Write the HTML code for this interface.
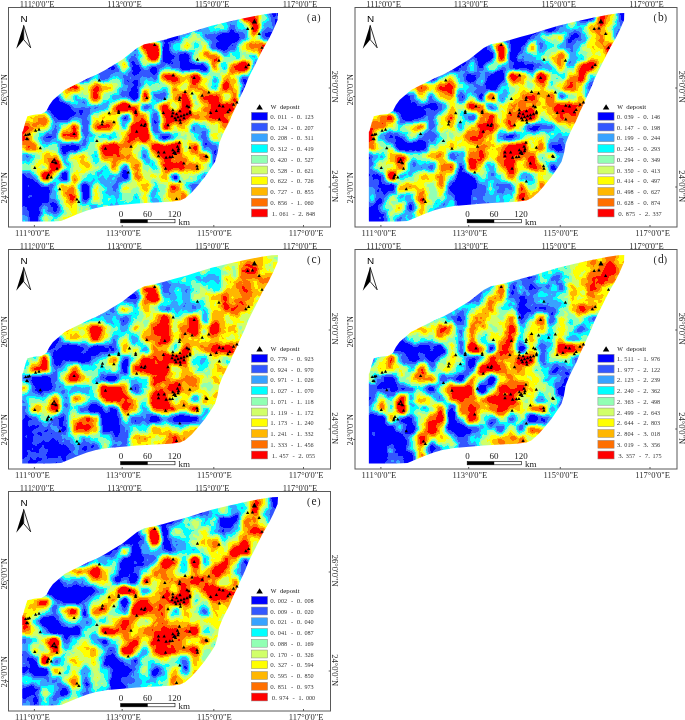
<!DOCTYPE html><html><head><meta charset="utf-8"><title>W deposit prospectivity maps</title><style>html,body{margin:0;padding:0;background:#fff}svg{display:block}text{font-family:"Liberation Serif",serif;fill:#2a2a2a}.ax text{font-size:8.8px}.n{font-family:"Liberation Sans",sans-serif;font-size:9.9px;fill:#000}.lt{font-size:11.5px;fill:#222}.sb text{font-size:9px;fill:#222}.lg{font-size:6.9px;fill:#3a3a3a}.w{font-size:7.1px;fill:#111}.b{font-weight:bold}</style></head><body><svg width="685" height="720" viewBox="0 0 685 720"><defs><clipPath id="reg"><polygon points="22.2,221.4 22.2,132 23,131 25.2,122.8 27.4,116.2 34,114.7 41.3,114 46.4,111.1 49.3,105.3 53,100.1 58.8,95 64.6,89.9 73.4,85.5 80.7,81.9 88,78.2 96.8,74.6 105.3,70 113.8,64.7 122.5,59.6 129.8,53.8 137.1,48 144.4,44.3 153.2,42.4 163.4,39.9 173.6,37 186.8,33.4 198.4,29.7 211.7,25.8 228.3,21.7 245,18 261.7,14.7 271.7,13.3 278,13 277.6,20 273.3,30 268.3,40 263.3,48.3 258.3,58.3 253.3,68.3 248.3,78.3 245,86.7 240.8,95.8 236.7,105 232.8,113.3 229.8,120.5 225.8,128.3 222.5,135 219.2,143.3 217.5,153.3 215,161.7 210.8,168.3 205,176.7 198.3,185 191.7,192.5 185,198.3 180,200.6 170,201.7 150,202.7 136.8,203.6 125.6,204.6 107.6,205.9 95.9,207.9 87,210.6 78.4,213.8 70,217.3 61,220.9 50,221.4"/></clipPath><filter id="hma" filterUnits="userSpaceOnUse" x="0" y="0" width="320" height="240" color-interpolation-filters="sRGB"><feGaussianBlur in="SourceGraphic" stdDeviation="3.0" result="f"/><feTurbulence type="fractalNoise" baseFrequency="0.12" numOctaves="2" seed="3" result="t"/><feColorMatrix in="t" type="matrix" values="1 0 0 0 0 1 0 0 0 0 1 0 0 0 0 0 0 0 0 1" result="n"/><feComposite in="f" in2="n" operator="arithmetic" k1="0" k2="1" k3="0.18" k4="-0.09"/><feComponentTransfer><feFuncR type="discrete" tableValues="0 0 0 0 0 0 0 0 0 0 0 0 0 0 0 0 0 0 0 0 0 0 0 0 0 0 0 0 0 0 0 0 0 0 0 0 0 0 0 0 0 0 0 0 0 0 0 0 0 0 0 0 0 0 0 0 0 0 0 0 0 0 0 0 0 0.2 0.2 0.2 0.2 0.2 0.2 0.2 0.2 0.2 0.2 0.2 0.22 0.22 0.22 0.22 0.22 0.22 0.22 0.22 0.22 0 0 0 0 0 0 0 0 0.569 0.569 0.569 0.569 0.569 0.569 0.569 0.569 0.569 0.82 0.82 0.82 0.82 0.82 0.82 0.82 0.82 1 1 1 1 1 1 1 1 1 1 1 1 1 1 1 1 1 1 1 1 1 1 1 1 1 1 1 1 1 1 1 1 1 1 1 1 1 1 1 1 1 1 1 1 1 1 1 1 1 1 1 1 1 1 1 1 1 1 1 1 1 1 1 1 1 1 1 1 1 1 1 1 1 1 1 1 1 1 1 1 1 1 1 1 1 1 1 1 1 1"/><feFuncG type="discrete" tableValues="0 0 0 0 0 0 0 0 0 0 0 0 0 0 0 0 0 0 0 0 0 0 0 0 0 0 0 0 0 0 0 0 0 0 0 0 0 0 0 0 0 0 0 0 0 0 0 0 0 0 0 0 0 0 0 0 0 0 0 0 0 0 0 0 0 0.341 0.341 0.341 0.341 0.341 0.341 0.341 0.341 0.341 0.341 0.341 0.639 0.639 0.639 0.639 0.639 0.639 0.639 0.639 0.639 1 1 1 1 1 1 1 1 1 1 1 1 1 1 1 1 1 1 1 1 1 1 1 1 1 1 1 1 1 1 1 1 1 0.718 0.718 0.718 0.718 0.718 0.718 0.718 0.718 0.718 0.435 0.435 0.435 0.435 0.435 0.435 0.435 0.435 0.435 0.435 0 0 0 0 0 0 0 0 0 0 0 0 0 0 0 0 0 0 0 0 0 0 0 0 0 0 0 0 0 0 0 0 0 0 0 0 0 0 0 0 0 0 0 0 0 0 0 0 0 0 0 0 0 0 0 0 0 0 0 0 0 0 0"/><feFuncB type="discrete" tableValues="1 1 1 1 1 1 1 1 1 1 1 1 1 1 1 1 1 1 1 1 1 1 1 1 1 1 1 1 1 1 1 1 1 1 1 1 1 1 1 1 1 1 1 1 1 1 1 1 1 1 1 1 1 1 1 1 1 1 1 1 1 1 1 1 1 1 1 1 1 1 1 1 1 1 1 1 1 1 1 1 1 1 1 1 1 1 1 1 1 1 1 1 1 0.706 0.706 0.706 0.706 0.706 0.706 0.706 0.706 0.706 0.412 0.412 0.412 0.412 0.412 0.412 0.412 0.412 0 0 0 0 0 0 0 0 0 0 0 0 0 0 0 0 0 0 0 0 0 0 0 0 0 0 0 0 0 0 0 0 0 0 0 0 0 0 0 0 0 0 0 0 0 0 0 0 0 0 0 0 0 0 0 0 0 0 0 0 0 0 0 0 0 0 0 0 0 0 0 0 0 0 0 0 0 0 0 0 0 0 0 0 0 0 0 0 0 0"/></feComponentTransfer><feGaussianBlur stdDeviation="0.5"/></filter><filter id="hmb" filterUnits="userSpaceOnUse" x="0" y="0" width="320" height="240" color-interpolation-filters="sRGB"><feGaussianBlur in="SourceGraphic" stdDeviation="3.0" result="f"/><feTurbulence type="fractalNoise" baseFrequency="0.12" numOctaves="2" seed="4" result="t"/><feColorMatrix in="t" type="matrix" values="1 0 0 0 0 1 0 0 0 0 1 0 0 0 0 0 0 0 0 1" result="n"/><feComposite in="f" in2="n" operator="arithmetic" k1="0" k2="1" k3="0.18" k4="-0.09"/><feComponentTransfer><feFuncR type="discrete" tableValues="0 0 0 0 0 0 0 0 0 0 0 0 0 0 0 0 0 0 0 0 0 0 0 0 0 0 0 0 0 0 0 0 0 0 0 0 0 0 0 0 0 0 0 0 0 0 0 0 0 0 0 0 0 0 0 0 0 0 0 0 0 0 0 0.2 0.2 0.2 0.2 0.2 0.2 0.2 0.2 0.2 0.2 0.2 0.22 0.22 0.22 0.22 0.22 0.22 0.22 0.22 0.22 0.22 0 0 0 0 0 0 0 0 0.569 0.569 0.569 0.569 0.569 0.569 0.569 0.569 0.569 0.82 0.82 0.82 0.82 0.82 0.82 0.82 0.82 1 1 1 1 1 1 1 1 1 1 1 1 1 1 1 1 1 1 1 1 1 1 1 1 1 1 1 1 1 1 1 1 1 1 1 1 1 1 1 1 1 1 1 1 1 1 1 1 1 1 1 1 1 1 1 1 1 1 1 1 1 1 1 1 1 1 1 1 1 1 1 1 1 1 1 1 1 1 1 1 1 1 1 1 1 1 1 1 1 1 1"/><feFuncG type="discrete" tableValues="0 0 0 0 0 0 0 0 0 0 0 0 0 0 0 0 0 0 0 0 0 0 0 0 0 0 0 0 0 0 0 0 0 0 0 0 0 0 0 0 0 0 0 0 0 0 0 0 0 0 0 0 0 0 0 0 0 0 0 0 0 0 0 0.341 0.341 0.341 0.341 0.341 0.341 0.341 0.341 0.341 0.341 0.341 0.639 0.639 0.639 0.639 0.639 0.639 0.639 0.639 0.639 0.639 1 1 1 1 1 1 1 1 1 1 1 1 1 1 1 1 1 1 1 1 1 1 1 1 1 1 1 1 1 1 1 1 1 0.718 0.718 0.718 0.718 0.718 0.718 0.718 0.718 0.718 0.435 0.435 0.435 0.435 0.435 0.435 0.435 0.435 0.435 0.435 0.435 0 0 0 0 0 0 0 0 0 0 0 0 0 0 0 0 0 0 0 0 0 0 0 0 0 0 0 0 0 0 0 0 0 0 0 0 0 0 0 0 0 0 0 0 0 0 0 0 0 0 0 0 0 0 0 0 0 0 0 0 0 0 0"/><feFuncB type="discrete" tableValues="1 1 1 1 1 1 1 1 1 1 1 1 1 1 1 1 1 1 1 1 1 1 1 1 1 1 1 1 1 1 1 1 1 1 1 1 1 1 1 1 1 1 1 1 1 1 1 1 1 1 1 1 1 1 1 1 1 1 1 1 1 1 1 1 1 1 1 1 1 1 1 1 1 1 1 1 1 1 1 1 1 1 1 1 1 1 1 1 1 1 1 1 0.706 0.706 0.706 0.706 0.706 0.706 0.706 0.706 0.706 0.412 0.412 0.412 0.412 0.412 0.412 0.412 0.412 0 0 0 0 0 0 0 0 0 0 0 0 0 0 0 0 0 0 0 0 0 0 0 0 0 0 0 0 0 0 0 0 0 0 0 0 0 0 0 0 0 0 0 0 0 0 0 0 0 0 0 0 0 0 0 0 0 0 0 0 0 0 0 0 0 0 0 0 0 0 0 0 0 0 0 0 0 0 0 0 0 0 0 0 0 0 0 0 0 0 0"/></feComponentTransfer><feGaussianBlur stdDeviation="0.5"/></filter><filter id="hmc" filterUnits="userSpaceOnUse" x="0" y="0" width="320" height="240" color-interpolation-filters="sRGB"><feGaussianBlur in="SourceGraphic" stdDeviation="3.0" result="f"/><feTurbulence type="fractalNoise" baseFrequency="0.12" numOctaves="2" seed="5" result="t"/><feColorMatrix in="t" type="matrix" values="1 0 0 0 0 1 0 0 0 0 1 0 0 0 0 0 0 0 0 1" result="n"/><feComposite in="f" in2="n" operator="arithmetic" k1="0" k2="1" k3="0.18" k4="-0.09"/><feComponentTransfer><feFuncR type="discrete" tableValues="0 0 0 0 0 0 0 0 0 0 0 0 0 0 0 0 0 0 0 0 0 0 0 0 0 0 0 0 0 0 0 0 0 0 0 0 0 0 0 0 0 0 0 0 0 0 0 0 0 0 0 0 0 0 0 0 0 0 0 0 0 0 0 0 0.2 0.2 0.2 0.2 0.2 0.2 0.2 0.2 0.2 0.2 0.2 0.2 0.22 0.22 0.22 0.22 0.22 0.22 0.22 0.22 0.22 0.22 0 0 0 0 0 0 0 0 0 0.569 0.569 0.569 0.569 0.569 0.569 0.569 0.569 0.569 0.82 0.82 0.82 0.82 0.82 0.82 0.82 0.82 1 1 1 1 1 1 1 1 1 1 1 1 1 1 1 1 1 1 1 1 1 1 1 1 1 1 1 1 1 1 1 1 1 1 1 1 1 1 1 1 1 1 1 1 1 1 1 1 1 1 1 1 1 1 1 1 1 1 1 1 1 1 1 1 1 1 1 1 1 1 1 1 1 1 1 1 1 1 1 1 1 1 1 1 1 1 1 1"/><feFuncG type="discrete" tableValues="0 0 0 0 0 0 0 0 0 0 0 0 0 0 0 0 0 0 0 0 0 0 0 0 0 0 0 0 0 0 0 0 0 0 0 0 0 0 0 0 0 0 0 0 0 0 0 0 0 0 0 0 0 0 0 0 0 0 0 0 0 0 0 0 0.341 0.341 0.341 0.341 0.341 0.341 0.341 0.341 0.341 0.341 0.341 0.341 0.639 0.639 0.639 0.639 0.639 0.639 0.639 0.639 0.639 0.639 1 1 1 1 1 1 1 1 1 1 1 1 1 1 1 1 1 1 1 1 1 1 1 1 1 1 1 1 1 1 1 1 1 0.718 0.718 0.718 0.718 0.718 0.718 0.718 0.718 0.718 0.435 0.435 0.435 0.435 0.435 0.435 0.435 0.435 0.435 0.435 0 0 0 0 0 0 0 0 0 0 0 0 0 0 0 0 0 0 0 0 0 0 0 0 0 0 0 0 0 0 0 0 0 0 0 0 0 0 0 0 0 0 0 0 0 0 0 0 0 0 0 0 0 0 0 0 0 0 0 0 0 0"/><feFuncB type="discrete" tableValues="1 1 1 1 1 1 1 1 1 1 1 1 1 1 1 1 1 1 1 1 1 1 1 1 1 1 1 1 1 1 1 1 1 1 1 1 1 1 1 1 1 1 1 1 1 1 1 1 1 1 1 1 1 1 1 1 1 1 1 1 1 1 1 1 1 1 1 1 1 1 1 1 1 1 1 1 1 1 1 1 1 1 1 1 1 1 1 1 1 1 1 1 1 1 1 0.706 0.706 0.706 0.706 0.706 0.706 0.706 0.706 0.706 0.412 0.412 0.412 0.412 0.412 0.412 0.412 0.412 0 0 0 0 0 0 0 0 0 0 0 0 0 0 0 0 0 0 0 0 0 0 0 0 0 0 0 0 0 0 0 0 0 0 0 0 0 0 0 0 0 0 0 0 0 0 0 0 0 0 0 0 0 0 0 0 0 0 0 0 0 0 0 0 0 0 0 0 0 0 0 0 0 0 0 0 0 0 0 0 0 0 0 0 0 0 0 0"/></feComponentTransfer><feGaussianBlur stdDeviation="0.5"/></filter><filter id="hmd" filterUnits="userSpaceOnUse" x="0" y="0" width="320" height="240" color-interpolation-filters="sRGB"><feGaussianBlur in="SourceGraphic" stdDeviation="3.0" result="f"/><feTurbulence type="fractalNoise" baseFrequency="0.12" numOctaves="2" seed="6" result="t"/><feColorMatrix in="t" type="matrix" values="1 0 0 0 0 1 0 0 0 0 1 0 0 0 0 0 0 0 0 1" result="n"/><feComposite in="f" in2="n" operator="arithmetic" k1="0" k2="1" k3="0.18" k4="-0.09"/><feComponentTransfer><feFuncR type="discrete" tableValues="0 0 0 0 0 0 0 0 0 0 0 0 0 0 0 0 0 0 0 0 0 0 0 0 0 0 0 0 0 0 0 0 0 0 0 0 0 0 0 0 0 0 0 0 0 0 0 0 0 0 0 0 0 0 0 0 0 0 0 0 0 0 0 0 0 0 0.2 0.2 0.2 0.2 0.2 0.2 0.2 0.2 0.2 0.2 0.2 0.22 0.22 0.22 0.22 0.22 0.22 0.22 0.22 0 0 0 0 0 0 0 0.569 0.569 0.569 0.569 0.569 0.569 0.569 0.569 0.569 0.82 0.82 0.82 0.82 0.82 0.82 0.82 0.82 1 1 1 1 1 1 1 1 1 1 1 1 1 1 1 1 1 1 1 1 1 1 1 1 1 1 1 1 1 1 1 1 1 1 1 1 1 1 1 1 1 1 1 1 1 1 1 1 1 1 1 1 1 1 1 1 1 1 1 1 1 1 1 1 1 1 1 1 1 1 1 1 1 1 1 1 1 1 1 1 1 1 1 1 1 1 1 1 1 1 1"/><feFuncG type="discrete" tableValues="0 0 0 0 0 0 0 0 0 0 0 0 0 0 0 0 0 0 0 0 0 0 0 0 0 0 0 0 0 0 0 0 0 0 0 0 0 0 0 0 0 0 0 0 0 0 0 0 0 0 0 0 0 0 0 0 0 0 0 0 0 0 0 0 0 0 0.341 0.341 0.341 0.341 0.341 0.341 0.341 0.341 0.341 0.341 0.341 0.639 0.639 0.639 0.639 0.639 0.639 0.639 0.639 1 1 1 1 1 1 1 1 1 1 1 1 1 1 1 1 1 1 1 1 1 1 1 1 1 1 1 1 1 1 1 1 0.718 0.718 0.718 0.718 0.718 0.718 0.718 0.718 0.435 0.435 0.435 0.435 0.435 0.435 0.435 0.435 0.435 0.435 0.435 0 0 0 0 0 0 0 0 0 0 0 0 0 0 0 0 0 0 0 0 0 0 0 0 0 0 0 0 0 0 0 0 0 0 0 0 0 0 0 0 0 0 0 0 0 0 0 0 0 0 0 0 0 0 0 0 0 0 0 0 0 0 0 0"/><feFuncB type="discrete" tableValues="1 1 1 1 1 1 1 1 1 1 1 1 1 1 1 1 1 1 1 1 1 1 1 1 1 1 1 1 1 1 1 1 1 1 1 1 1 1 1 1 1 1 1 1 1 1 1 1 1 1 1 1 1 1 1 1 1 1 1 1 1 1 1 1 1 1 1 1 1 1 1 1 1 1 1 1 1 1 1 1 1 1 1 1 1 1 1 1 1 1 1 1 0.706 0.706 0.706 0.706 0.706 0.706 0.706 0.706 0.706 0.412 0.412 0.412 0.412 0.412 0.412 0.412 0.412 0 0 0 0 0 0 0 0 0 0 0 0 0 0 0 0 0 0 0 0 0 0 0 0 0 0 0 0 0 0 0 0 0 0 0 0 0 0 0 0 0 0 0 0 0 0 0 0 0 0 0 0 0 0 0 0 0 0 0 0 0 0 0 0 0 0 0 0 0 0 0 0 0 0 0 0 0 0 0 0 0 0 0 0 0 0 0 0 0 0 0"/></feComponentTransfer><feGaussianBlur stdDeviation="0.5"/></filter><filter id="hme" filterUnits="userSpaceOnUse" x="0" y="0" width="320" height="240" color-interpolation-filters="sRGB"><feGaussianBlur in="SourceGraphic" stdDeviation="3.0" result="f"/><feTurbulence type="fractalNoise" baseFrequency="0.12" numOctaves="2" seed="7" result="t"/><feColorMatrix in="t" type="matrix" values="1 0 0 0 0 1 0 0 0 0 1 0 0 0 0 0 0 0 0 1" result="n"/><feComposite in="f" in2="n" operator="arithmetic" k1="0" k2="1" k3="0.18" k4="-0.09"/><feComponentTransfer><feFuncR type="discrete" tableValues="0 0 0 0 0 0 0 0 0 0 0 0 0 0 0 0 0 0 0 0 0 0 0 0 0 0 0 0 0 0 0 0 0 0 0 0 0 0 0 0 0 0 0 0 0 0 0 0 0 0 0 0 0 0 0 0 0 0 0 0 0 0 0.2 0.2 0.2 0.2 0.2 0.2 0.2 0.2 0.2 0.2 0.22 0.22 0.22 0.22 0.22 0.22 0.22 0.22 0.22 0.22 0.22 0 0 0 0 0 0 0 0 0 0.569 0.569 0.569 0.569 0.569 0.569 0.569 0.569 0.569 0.82 0.82 0.82 0.82 0.82 0.82 0.82 0.82 0.82 1 1 1 1 1 1 1 1 1 1 1 1 1 1 1 1 1 1 1 1 1 1 1 1 1 1 1 1 1 1 1 1 1 1 1 1 1 1 1 1 1 1 1 1 1 1 1 1 1 1 1 1 1 1 1 1 1 1 1 1 1 1 1 1 1 1 1 1 1 1 1 1 1 1 1 1 1 1 1 1 1 1 1 1 1 1 1 1 1 1"/><feFuncG type="discrete" tableValues="0 0 0 0 0 0 0 0 0 0 0 0 0 0 0 0 0 0 0 0 0 0 0 0 0 0 0 0 0 0 0 0 0 0 0 0 0 0 0 0 0 0 0 0 0 0 0 0 0 0 0 0 0 0 0 0 0 0 0 0 0 0 0.341 0.341 0.341 0.341 0.341 0.341 0.341 0.341 0.341 0.341 0.639 0.639 0.639 0.639 0.639 0.639 0.639 0.639 0.639 0.639 0.639 1 1 1 1 1 1 1 1 1 1 1 1 1 1 1 1 1 1 1 1 1 1 1 1 1 1 1 1 1 1 1 1 1 1 1 1 0.718 0.718 0.718 0.718 0.718 0.718 0.718 0.718 0.718 0.435 0.435 0.435 0.435 0.435 0.435 0.435 0.435 0.435 0.435 0 0 0 0 0 0 0 0 0 0 0 0 0 0 0 0 0 0 0 0 0 0 0 0 0 0 0 0 0 0 0 0 0 0 0 0 0 0 0 0 0 0 0 0 0 0 0 0 0 0 0 0 0 0 0 0 0 0 0 0 0 0"/><feFuncB type="discrete" tableValues="1 1 1 1 1 1 1 1 1 1 1 1 1 1 1 1 1 1 1 1 1 1 1 1 1 1 1 1 1 1 1 1 1 1 1 1 1 1 1 1 1 1 1 1 1 1 1 1 1 1 1 1 1 1 1 1 1 1 1 1 1 1 1 1 1 1 1 1 1 1 1 1 1 1 1 1 1 1 1 1 1 1 1 1 1 1 1 1 1 1 1 1 0.706 0.706 0.706 0.706 0.706 0.706 0.706 0.706 0.706 0.412 0.412 0.412 0.412 0.412 0.412 0.412 0.412 0.412 0 0 0 0 0 0 0 0 0 0 0 0 0 0 0 0 0 0 0 0 0 0 0 0 0 0 0 0 0 0 0 0 0 0 0 0 0 0 0 0 0 0 0 0 0 0 0 0 0 0 0 0 0 0 0 0 0 0 0 0 0 0 0 0 0 0 0 0 0 0 0 0 0 0 0 0 0 0 0 0 0 0 0 0 0 0 0 0 0 0"/></feComponentTransfer><feGaussianBlur stdDeviation="0.5"/></filter></defs><rect width="685" height="720" fill="#fff"/><g transform="translate(0,0)"><g clip-path="url(#reg)"><g filter="url(#hma)"><rect x="0" y="-8" width="30" height="30" fill="#9d9d9d"/><rect x="30" y="-8" width="10" height="30" fill="#b3b3b3"/><rect x="40" y="-8" width="10" height="30" fill="#222222"/><rect x="50" y="-8" width="10" height="30" fill="#4c4c4c"/><rect x="60" y="-8" width="10" height="30" fill="#434343"/><rect x="70" y="-8" width="10" height="30" fill="#565656"/><rect x="80" y="-8" width="10" height="30" fill="#4d4d4d"/><rect x="90" y="-8" width="10" height="30" fill="#777777"/><rect x="100" y="-8" width="10" height="30" fill="#6b6b6b"/><rect x="110" y="-8" width="10" height="30" fill="#6d6d6d"/><rect x="120" y="-8" width="10" height="30" fill="#6b6b6b"/><rect x="130" y="-8" width="10" height="30" fill="#747474"/><rect x="140" y="-8" width="10" height="30" fill="#3b3b3b"/><rect x="150" y="-8" width="10" height="30" fill="#565656"/><rect x="160" y="-8" width="10" height="30" fill="#525252"/><rect x="170" y="-8" width="10" height="30" fill="#535353"/><rect x="180" y="-8" width="10" height="30" fill="#545454"/><rect x="190" y="-8" width="10" height="30" fill="#525252"/><rect x="200" y="-8" width="10" height="30" fill="#606060"/><rect x="210" y="-8" width="10" height="30" fill="#6d6d6d"/><rect x="220" y="-8" width="10" height="30" fill="#707070"/><rect x="230" y="-8" width="10" height="30" fill="#4c4c4c"/><rect x="240" y="-8" width="10" height="30" fill="#c4c4c4"/><rect x="250" y="-8" width="10" height="30" fill="#afafaf"/><rect x="260" y="-8" width="10" height="30" fill="#797979"/><rect x="270" y="-8" width="30" height="30" fill="#4d4d4d"/><rect x="0" y="22" width="30" height="10" fill="#a0a0a0"/><rect x="30" y="22" width="10" height="10" fill="#999999"/><rect x="40" y="22" width="10" height="10" fill="#c6c6c6"/><rect x="50" y="22" width="10" height="10" fill="#363636"/><rect x="60" y="22" width="10" height="10" fill="#464646"/><rect x="70" y="22" width="10" height="10" fill="#585858"/><rect x="80" y="22" width="10" height="10" fill="#545454"/><rect x="90" y="22" width="10" height="10" fill="#484848"/><rect x="100" y="22" width="10" height="10" fill="#6d6d6d"/><rect x="110" y="22" width="10" height="10" fill="#6c6c6c"/><rect x="120" y="22" width="10" height="10" fill="#6f6f6f"/><rect x="130" y="22" width="10" height="10" fill="#5a5a5a"/><rect x="140" y="22" width="10" height="10" fill="#dfdfdf"/><rect x="150" y="22" width="10" height="10" fill="#414141"/><rect x="160" y="22" width="10" height="10" fill="#565656"/><rect x="170" y="22" width="10" height="10" fill="#545454"/><rect x="180" y="22" width="10" height="10" fill="#505050"/><rect x="190" y="22" width="10" height="10" fill="#444444"/><rect x="200" y="22" width="10" height="10" fill="#5f5f5f"/><rect x="210" y="22" width="10" height="10" fill="#707070"/><rect x="220" y="22" width="10" height="10" fill="#777777"/><rect x="230" y="22" width="10" height="10" fill="#626262"/><rect x="240" y="22" width="10" height="10" fill="#696969"/><rect x="250" y="22" width="10" height="10" fill="#c9c9c9"/><rect x="260" y="22" width="10" height="10" fill="#656565"/><rect x="270" y="22" width="30" height="10" fill="#535353"/><rect x="0" y="32" width="30" height="10" fill="#a0a0a0"/><rect x="30" y="32" width="10" height="10" fill="#9d9d9d"/><rect x="40" y="32" width="10" height="10" fill="#b0b0b0"/><rect x="50" y="32" width="10" height="10" fill="#1f1f1f"/><rect x="60" y="32" width="10" height="10" fill="#4d4d4d"/><rect x="70" y="32" width="10" height="10" fill="#3f3f3f"/><rect x="80" y="32" width="10" height="10" fill="#575757"/><rect x="90" y="32" width="10" height="10" fill="#4a4a4a"/><rect x="100" y="32" width="10" height="10" fill="#909090"/><rect x="110" y="32" width="10" height="10" fill="#636363"/><rect x="120" y="32" width="10" height="10" fill="#717171"/><rect x="130" y="32" width="10" height="10" fill="#5d5d5d"/><rect x="140" y="32" width="10" height="10" fill="#c9c9c9"/><rect x="150" y="32" width="10" height="10" fill="#272727"/><rect x="160" y="32" width="10" height="10" fill="#5b5b5b"/><rect x="170" y="32" width="10" height="10" fill="#474747"/><rect x="180" y="32" width="10" height="10" fill="#686868"/><rect x="190" y="32" width="10" height="10" fill="#a0a0a0"/><rect x="200" y="32" width="20" height="10" fill="#646464"/><rect x="220" y="32" width="10" height="10" fill="#3c3c3c"/><rect x="230" y="32" width="10" height="10" fill="#373737"/><rect x="240" y="32" width="10" height="10" fill="#626262"/><rect x="250" y="32" width="10" height="10" fill="#9b9b9b"/><rect x="260" y="32" width="10" height="10" fill="#464646"/><rect x="270" y="32" width="30" height="10" fill="#424242"/><rect x="0" y="42" width="30" height="10" fill="#9d9d9d"/><rect x="30" y="42" width="10" height="10" fill="#a1a1a1"/><rect x="40" y="42" width="10" height="10" fill="#9a9a9a"/><rect x="50" y="42" width="10" height="10" fill="#c7c7c7"/><rect x="60" y="42" width="10" height="10" fill="#363636"/><rect x="70" y="42" width="10" height="10" fill="#474747"/><rect x="80" y="42" width="10" height="10" fill="#585858"/><rect x="90" y="42" width="10" height="10" fill="#555555"/><rect x="100" y="42" width="10" height="10" fill="#414141"/><rect x="110" y="42" width="10" height="10" fill="#878787"/><rect x="120" y="42" width="10" height="10" fill="#676767"/><rect x="130" y="42" width="10" height="10" fill="#656565"/><rect x="140" y="42" width="10" height="10" fill="#b4b4b4"/><rect x="150" y="42" width="10" height="10" fill="#e4e4e4"/><rect x="160" y="42" width="10" height="10" fill="#373737"/><rect x="170" y="42" width="10" height="10" fill="#797979"/><rect x="180" y="42" width="10" height="10" fill="#a1a1a1"/><rect x="190" y="42" width="10" height="10" fill="#686868"/><rect x="200" y="42" width="10" height="10" fill="#939393"/><rect x="210" y="42" width="10" height="10" fill="#4e4e4e"/><rect x="220" y="42" width="10" height="10" fill="#363636"/><rect x="230" y="42" width="10" height="10" fill="#5e5e5e"/><rect x="240" y="42" width="20" height="10" fill="#a7a7a7"/><rect x="260" y="42" width="40" height="10" fill="#bbbbbb"/><rect x="0" y="52" width="30" height="10" fill="#b0b0b0"/><rect x="30" y="52" width="10" height="10" fill="#9a9a9a"/><rect x="40" y="52" width="10" height="10" fill="#9e9e9e"/><rect x="50" y="52" width="10" height="10" fill="#b0b0b0"/><rect x="60" y="52" width="10" height="10" fill="#1f1f1f"/><rect x="70" y="52" width="10" height="10" fill="#4d4d4d"/><rect x="80" y="52" width="10" height="10" fill="#3f3f3f"/><rect x="90" y="52" width="10" height="10" fill="#585858"/><rect x="100" y="52" width="10" height="10" fill="#4c4c4c"/><rect x="110" y="52" width="10" height="10" fill="#868686"/><rect x="120" y="52" width="10" height="10" fill="#7c7c7c"/><rect x="130" y="52" width="10" height="10" fill="#535353"/><rect x="140" y="52" width="10" height="10" fill="#929292"/><rect x="150" y="52" width="10" height="10" fill="#e5e5e5"/><rect x="160" y="52" width="10" height="10" fill="#383838"/><rect x="170" y="52" width="10" height="10" fill="#565656"/><rect x="180" y="52" width="10" height="10" fill="#2b2b2b"/><rect x="190" y="52" width="10" height="10" fill="#8d8d8d"/><rect x="200" y="52" width="10" height="10" fill="#9e9e9e"/><rect x="210" y="52" width="10" height="10" fill="#b7b7b7"/><rect x="220" y="52" width="10" height="10" fill="#7e7e7e"/><rect x="230" y="52" width="10" height="10" fill="#707070"/><rect x="240" y="52" width="10" height="10" fill="#7a7a7a"/><rect x="250" y="52" width="10" height="10" fill="#676767"/><rect x="260" y="52" width="10" height="10" fill="#c3c3c3"/><rect x="270" y="52" width="30" height="10" fill="#b4b4b4"/><rect x="0" y="62" width="30" height="10" fill="#333333"/><rect x="30" y="62" width="10" height="10" fill="#c4c4c4"/><rect x="40" y="62" width="10" height="10" fill="#989898"/><rect x="50" y="62" width="10" height="10" fill="#9b9b9b"/><rect x="60" y="62" width="10" height="10" fill="#c7c7c7"/><rect x="70" y="62" width="10" height="10" fill="#353535"/><rect x="80" y="62" width="10" height="10" fill="#4a4a4a"/><rect x="90" y="62" width="10" height="10" fill="#505050"/><rect x="100" y="62" width="10" height="10" fill="#535353"/><rect x="110" y="62" width="10" height="10" fill="#4f4f4f"/><rect x="120" y="62" width="10" height="10" fill="#a6a6a6"/><rect x="130" y="62" width="10" height="10" fill="#3e3e3e"/><rect x="140" y="62" width="10" height="10" fill="#757575"/><rect x="150" y="62" width="10" height="10" fill="#464646"/><rect x="160" y="62" width="10" height="10" fill="#6e6e6e"/><rect x="170" y="62" width="10" height="10" fill="#555555"/><rect x="180" y="62" width="10" height="10" fill="#353535"/><rect x="190" y="62" width="10" height="10" fill="#3a3a3a"/><rect x="200" y="62" width="10" height="10" fill="#444444"/><rect x="210" y="62" width="10" height="10" fill="#a7a7a7"/><rect x="220" y="62" width="10" height="10" fill="#606060"/><rect x="230" y="62" width="10" height="10" fill="#c1c1c1"/><rect x="240" y="62" width="10" height="10" fill="#e6e6e6"/><rect x="250" y="62" width="10" height="10" fill="#595959"/><rect x="260" y="62" width="40" height="10" fill="#616161"/><rect x="0" y="72" width="30" height="10" fill="#5d5d5d"/><rect x="30" y="72" width="10" height="10" fill="#2d2d2d"/><rect x="40" y="72" width="10" height="10" fill="#c6c6c6"/><rect x="50" y="72" width="10" height="10" fill="#949494"/><rect x="60" y="72" width="10" height="10" fill="#b0b0b0"/><rect x="70" y="72" width="10" height="10" fill="#212121"/><rect x="80" y="72" width="10" height="10" fill="#353535"/><rect x="90" y="72" width="10" height="10" fill="#747474"/><rect x="100" y="72" width="10" height="10" fill="#505050"/><rect x="110" y="72" width="10" height="10" fill="#717171"/><rect x="120" y="72" width="10" height="10" fill="#555555"/><rect x="130" y="72" width="10" height="10" fill="#515151"/><rect x="140" y="72" width="10" height="10" fill="#5e5e5e"/><rect x="150" y="72" width="10" height="10" fill="#4e4e4e"/><rect x="160" y="72" width="10" height="10" fill="#bbbbbb"/><rect x="170" y="72" width="10" height="10" fill="#c3c3c3"/><rect x="180" y="72" width="10" height="10" fill="#959595"/><rect x="190" y="72" width="10" height="10" fill="#d0d0d0"/><rect x="200" y="72" width="10" height="10" fill="#888888"/><rect x="210" y="72" width="10" height="10" fill="#6f6f6f"/><rect x="220" y="72" width="10" height="10" fill="#979797"/><rect x="230" y="72" width="10" height="10" fill="#939393"/><rect x="240" y="72" width="10" height="10" fill="#565656"/><rect x="250" y="72" width="10" height="10" fill="#757575"/><rect x="260" y="72" width="10" height="10" fill="#747474"/><rect x="270" y="72" width="30" height="10" fill="#6d6d6d"/><rect x="0" y="82" width="30" height="10" fill="#434343"/><rect x="30" y="82" width="10" height="10" fill="#5e5e5e"/><rect x="40" y="82" width="10" height="10" fill="#2d2d2d"/><rect x="50" y="82" width="10" height="10" fill="#c4c4c4"/><rect x="60" y="82" width="10" height="10" fill="#999999"/><rect x="70" y="82" width="10" height="10" fill="#c2c2c2"/><rect x="80" y="82" width="10" height="10" fill="#898989"/><rect x="90" y="82" width="10" height="10" fill="#a9a9a9"/><rect x="100" y="82" width="10" height="10" fill="#9d9d9d"/><rect x="110" y="82" width="10" height="10" fill="#979797"/><rect x="120" y="82" width="10" height="10" fill="#5c5c5c"/><rect x="130" y="82" width="10" height="10" fill="#4e4e4e"/><rect x="140" y="82" width="10" height="10" fill="#797979"/><rect x="150" y="82" width="10" height="10" fill="#858585"/><rect x="160" y="82" width="10" height="10" fill="#6b6b6b"/><rect x="170" y="82" width="10" height="10" fill="#a5a5a5"/><rect x="180" y="82" width="10" height="10" fill="#858585"/><rect x="190" y="82" width="10" height="10" fill="#a2a2a2"/><rect x="200" y="82" width="10" height="10" fill="#939393"/><rect x="210" y="82" width="10" height="10" fill="#5d5d5d"/><rect x="220" y="82" width="10" height="10" fill="#c9c9c9"/><rect x="230" y="82" width="10" height="10" fill="#959595"/><rect x="240" y="82" width="10" height="10" fill="#494949"/><rect x="250" y="82" width="10" height="10" fill="#545454"/><rect x="260" y="82" width="10" height="10" fill="#464646"/><rect x="270" y="82" width="30" height="10" fill="#767676"/><rect x="0" y="92" width="30" height="10" fill="#ababab"/><rect x="30" y="92" width="10" height="10" fill="#464646"/><rect x="40" y="92" width="10" height="10" fill="#5f5f5f"/><rect x="50" y="92" width="10" height="10" fill="#363636"/><rect x="60" y="92" width="10" height="10" fill="#9f9f9f"/><rect x="70" y="92" width="20" height="10" fill="#6e6e6e"/><rect x="90" y="92" width="10" height="10" fill="#cecece"/><rect x="100" y="92" width="10" height="10" fill="#858585"/><rect x="110" y="92" width="10" height="10" fill="#555555"/><rect x="120" y="92" width="10" height="10" fill="#676767"/><rect x="130" y="92" width="10" height="10" fill="#292929"/><rect x="140" y="92" width="10" height="10" fill="#d4d4d4"/><rect x="150" y="92" width="10" height="10" fill="#585858"/><rect x="160" y="92" width="10" height="10" fill="#545454"/><rect x="170" y="92" width="10" height="10" fill="#adadad"/><rect x="180" y="92" width="10" height="10" fill="#b6b6b6"/><rect x="190" y="92" width="10" height="10" fill="#868686"/><rect x="200" y="92" width="10" height="10" fill="#b9b9b9"/><rect x="210" y="92" width="10" height="10" fill="#bcbcbc"/><rect x="220" y="92" width="10" height="10" fill="#767676"/><rect x="230" y="92" width="10" height="10" fill="#b6b6b6"/><rect x="240" y="92" width="10" height="10" fill="#303030"/><rect x="250" y="92" width="10" height="10" fill="#414141"/><rect x="260" y="92" width="10" height="10" fill="#5a5a5a"/><rect x="270" y="92" width="30" height="10" fill="#4f4f4f"/><rect x="0" y="102" width="30" height="10" fill="#9d9d9d"/><rect x="30" y="102" width="10" height="10" fill="#3a3a3a"/><rect x="40" y="102" width="10" height="10" fill="#494949"/><rect x="50" y="102" width="10" height="10" fill="#464646"/><rect x="60" y="102" width="10" height="10" fill="#353535"/><rect x="70" y="102" width="10" height="10" fill="#656565"/><rect x="80" y="102" width="10" height="10" fill="#5a5a5a"/><rect x="90" y="102" width="10" height="10" fill="#5d5d5d"/><rect x="100" y="102" width="10" height="10" fill="#565656"/><rect x="110" y="102" width="10" height="10" fill="#b2b2b2"/><rect x="120" y="102" width="10" height="10" fill="#e0e0e0"/><rect x="130" y="102" width="10" height="10" fill="#b7b7b7"/><rect x="140" y="102" width="10" height="10" fill="#454545"/><rect x="150" y="102" width="10" height="10" fill="#7e7e7e"/><rect x="160" y="102" width="10" height="10" fill="#cccccc"/><rect x="170" y="102" width="10" height="10" fill="#737373"/><rect x="180" y="102" width="10" height="10" fill="#cdcdcd"/><rect x="190" y="102" width="10" height="10" fill="#848484"/><rect x="200" y="102" width="10" height="10" fill="#9a9a9a"/><rect x="210" y="102" width="10" height="10" fill="#bbbbbb"/><rect x="220" y="102" width="10" height="10" fill="#c8c8c8"/><rect x="230" y="102" width="10" height="10" fill="#aeaeae"/><rect x="240" y="102" width="10" height="10" fill="#c2c2c2"/><rect x="250" y="102" width="10" height="10" fill="#d8d8d8"/><rect x="260" y="102" width="10" height="10" fill="#303030"/><rect x="270" y="102" width="30" height="10" fill="#4b4b4b"/><rect x="0" y="112" width="30" height="10" fill="#8c8c8c"/><rect x="30" y="112" width="10" height="10" fill="#9b9b9b"/><rect x="40" y="112" width="10" height="10" fill="#ababab"/><rect x="50" y="112" width="10" height="10" fill="#464646"/><rect x="60" y="112" width="10" height="10" fill="#373737"/><rect x="70" y="112" width="10" height="10" fill="#585858"/><rect x="80" y="112" width="10" height="10" fill="#5a5a5a"/><rect x="90" y="112" width="10" height="10" fill="#8f8f8f"/><rect x="100" y="112" width="10" height="10" fill="#949494"/><rect x="110" y="112" width="10" height="10" fill="#989898"/><rect x="120" y="112" width="10" height="10" fill="#464646"/><rect x="130" y="112" width="10" height="10" fill="#a1a1a1"/><rect x="140" y="112" width="10" height="10" fill="#b7b7b7"/><rect x="150" y="112" width="10" height="10" fill="#3e3e3e"/><rect x="160" y="112" width="10" height="10" fill="#b6b6b6"/><rect x="170" y="112" width="10" height="10" fill="#cacaca"/><rect x="180" y="112" width="10" height="10" fill="#c1c1c1"/><rect x="190" y="112" width="10" height="10" fill="#aaaaaa"/><rect x="200" y="112" width="10" height="10" fill="#a0a0a0"/><rect x="210" y="112" width="10" height="10" fill="#cccccc"/><rect x="220" y="112" width="10" height="10" fill="#aaaaaa"/><rect x="230" y="112" width="10" height="10" fill="#888888"/><rect x="240" y="112" width="10" height="10" fill="#8b8b8b"/><rect x="250" y="112" width="10" height="10" fill="#888888"/><rect x="260" y="112" width="10" height="10" fill="#a2a2a2"/><rect x="270" y="112" width="30" height="10" fill="#9e9e9e"/><rect x="0" y="122" width="30" height="10" fill="#b2b2b2"/><rect x="30" y="122" width="10" height="10" fill="#a4a4a4"/><rect x="40" y="122" width="10" height="10" fill="#a1a1a1"/><rect x="50" y="122" width="10" height="10" fill="#6a6a6a"/><rect x="60" y="122" width="10" height="10" fill="#888888"/><rect x="70" y="122" width="10" height="10" fill="#bdbdbd"/><rect x="80" y="122" width="10" height="10" fill="#474747"/><rect x="90" y="122" width="10" height="10" fill="#9f9f9f"/><rect x="100" y="122" width="10" height="10" fill="#c4c4c4"/><rect x="110" y="122" width="10" height="10" fill="#9c9c9c"/><rect x="120" y="122" width="10" height="10" fill="#656565"/><rect x="130" y="122" width="10" height="10" fill="#c8c8c8"/><rect x="140" y="122" width="10" height="10" fill="#cccccc"/><rect x="150" y="122" width="10" height="10" fill="#3c3c3c"/><rect x="160" y="122" width="10" height="10" fill="#c3c3c3"/><rect x="170" y="122" width="10" height="10" fill="#888888"/><rect x="180" y="122" width="10" height="10" fill="#989898"/><rect x="190" y="122" width="10" height="10" fill="#555555"/><rect x="200" y="122" width="10" height="10" fill="#7c7c7c"/><rect x="210" y="122" width="10" height="10" fill="#737373"/><rect x="220" y="122" width="10" height="10" fill="#afafaf"/><rect x="230" y="122" width="10" height="10" fill="#959595"/><rect x="240" y="122" width="10" height="10" fill="#9a9a9a"/><rect x="250" y="122" width="10" height="10" fill="#929292"/><rect x="260" y="122" width="10" height="10" fill="#8f8f8f"/><rect x="270" y="122" width="30" height="10" fill="#919191"/><rect x="0" y="132" width="30" height="10" fill="#b3b3b3"/><rect x="30" y="132" width="10" height="10" fill="#797979"/><rect x="40" y="132" width="10" height="10" fill="#4d4d4d"/><rect x="50" y="132" width="10" height="10" fill="#4b4b4b"/><rect x="60" y="132" width="10" height="10" fill="#c0c0c0"/><rect x="70" y="132" width="10" height="10" fill="#bababa"/><rect x="80" y="132" width="10" height="10" fill="#4c4c4c"/><rect x="90" y="132" width="10" height="10" fill="#797979"/><rect x="100" y="132" width="10" height="10" fill="#636363"/><rect x="110" y="132" width="10" height="10" fill="#5e5e5e"/><rect x="120" y="132" width="10" height="10" fill="#adadad"/><rect x="130" y="132" width="10" height="10" fill="#c0c0c0"/><rect x="140" y="132" width="10" height="10" fill="#cecece"/><rect x="150" y="132" width="10" height="10" fill="#6f6f6f"/><rect x="160" y="132" width="10" height="10" fill="#363636"/><rect x="170" y="132" width="10" height="10" fill="#6c6c6c"/><rect x="180" y="132" width="10" height="10" fill="#878787"/><rect x="190" y="132" width="10" height="10" fill="#797979"/><rect x="200" y="132" width="10" height="10" fill="#4c4c4c"/><rect x="210" y="132" width="10" height="10" fill="#9f9f9f"/><rect x="220" y="132" width="10" height="10" fill="#6a6a6a"/><rect x="230" y="132" width="10" height="10" fill="#767676"/><rect x="240" y="132" width="10" height="10" fill="#6e6e6e"/><rect x="250" y="132" width="10" height="10" fill="#9e9e9e"/><rect x="260" y="132" width="10" height="10" fill="#989898"/><rect x="270" y="132" width="30" height="10" fill="#919191"/><rect x="0" y="142" width="30" height="10" fill="#a5a5a5"/><rect x="30" y="142" width="10" height="10" fill="#b7b7b7"/><rect x="40" y="142" width="10" height="10" fill="#707070"/><rect x="50" y="142" width="10" height="10" fill="#838383"/><rect x="60" y="142" width="10" height="10" fill="#373737"/><rect x="70" y="142" width="10" height="10" fill="#343434"/><rect x="80" y="142" width="10" height="10" fill="#6a6a6a"/><rect x="90" y="142" width="10" height="10" fill="#8a8a8a"/><rect x="100" y="142" width="10" height="10" fill="#bcbcbc"/><rect x="110" y="142" width="10" height="10" fill="#d1d1d1"/><rect x="120" y="142" width="10" height="10" fill="#989898"/><rect x="130" y="142" width="10" height="10" fill="#8d8d8d"/><rect x="140" y="142" width="10" height="10" fill="#767676"/><rect x="150" y="142" width="10" height="10" fill="#c0c0c0"/><rect x="160" y="142" width="10" height="10" fill="#cccccc"/><rect x="170" y="142" width="10" height="10" fill="#d2d2d2"/><rect x="180" y="142" width="10" height="10" fill="#848484"/><rect x="190" y="142" width="10" height="10" fill="#bbbbbb"/><rect x="200" y="142" width="10" height="10" fill="#5b5b5b"/><rect x="210" y="142" width="10" height="10" fill="#505050"/><rect x="220" y="142" width="10" height="10" fill="#868686"/><rect x="230" y="142" width="10" height="10" fill="#7e7e7e"/><rect x="240" y="142" width="10" height="10" fill="#797979"/><rect x="250" y="142" width="10" height="10" fill="#747474"/><rect x="260" y="142" width="10" height="10" fill="#6e6e6e"/><rect x="270" y="142" width="30" height="10" fill="#9d9d9d"/><rect x="0" y="152" width="30" height="10" fill="#5e5e5e"/><rect x="30" y="152" width="10" height="10" fill="#696969"/><rect x="40" y="152" width="10" height="10" fill="#9c9c9c"/><rect x="50" y="152" width="10" height="10" fill="#aaaaaa"/><rect x="60" y="152" width="10" height="10" fill="#606060"/><rect x="70" y="152" width="10" height="10" fill="#979797"/><rect x="80" y="152" width="10" height="10" fill="#a1a1a1"/><rect x="90" y="152" width="10" height="10" fill="#636363"/><rect x="100" y="152" width="10" height="10" fill="#aaaaaa"/><rect x="110" y="152" width="10" height="10" fill="#acacac"/><rect x="120" y="152" width="10" height="10" fill="#aaaaaa"/><rect x="130" y="152" width="10" height="10" fill="#969696"/><rect x="140" y="152" width="10" height="10" fill="#565656"/><rect x="150" y="152" width="10" height="10" fill="#949494"/><rect x="160" y="152" width="10" height="10" fill="#c0c0c0"/><rect x="170" y="152" width="20" height="10" fill="#a2a2a2"/><rect x="190" y="152" width="10" height="10" fill="#808080"/><rect x="200" y="152" width="10" height="10" fill="#c1c1c1"/><rect x="210" y="152" width="10" height="10" fill="#535353"/><rect x="220" y="152" width="10" height="10" fill="#5d5d5d"/><rect x="230" y="152" width="10" height="10" fill="#545454"/><rect x="240" y="152" width="10" height="10" fill="#848484"/><rect x="250" y="152" width="10" height="10" fill="#7f7f7f"/><rect x="260" y="152" width="10" height="10" fill="#797979"/><rect x="270" y="152" width="30" height="10" fill="#737373"/><rect x="0" y="162" width="30" height="10" fill="#828282"/><rect x="30" y="162" width="10" height="10" fill="#919191"/><rect x="40" y="162" width="10" height="10" fill="#7d7d7d"/><rect x="50" y="162" width="10" height="10" fill="#dddddd"/><rect x="60" y="162" width="10" height="10" fill="#767676"/><rect x="70" y="162" width="10" height="10" fill="#808080"/><rect x="80" y="162" width="10" height="10" fill="#999999"/><rect x="90" y="162" width="10" height="10" fill="#929292"/><rect x="100" y="162" width="10" height="10" fill="#696969"/><rect x="110" y="162" width="10" height="10" fill="#a6a6a6"/><rect x="120" y="162" width="10" height="10" fill="#545454"/><rect x="130" y="162" width="10" height="10" fill="#b4b4b4"/><rect x="140" y="162" width="10" height="10" fill="#888888"/><rect x="150" y="162" width="10" height="10" fill="#646464"/><rect x="160" y="162" width="10" height="10" fill="#b8b8b8"/><rect x="170" y="162" width="10" height="10" fill="#bbbbbb"/><rect x="180" y="162" width="10" height="10" fill="#b6b6b6"/><rect x="190" y="162" width="10" height="10" fill="#acacac"/><rect x="200" y="162" width="10" height="10" fill="#868686"/><rect x="210" y="162" width="10" height="10" fill="#565656"/><rect x="220" y="162" width="10" height="10" fill="#5f5f5f"/><rect x="230" y="162" width="10" height="10" fill="#626262"/><rect x="240" y="162" width="10" height="10" fill="#5b5b5b"/><rect x="250" y="162" width="10" height="10" fill="#545454"/><rect x="260" y="162" width="10" height="10" fill="#848484"/><rect x="270" y="162" width="30" height="10" fill="#7e7e7e"/><rect x="0" y="172" width="30" height="10" fill="#4a4a4a"/><rect x="30" y="172" width="10" height="10" fill="#636363"/><rect x="40" y="172" width="10" height="10" fill="#dadada"/><rect x="50" y="172" width="10" height="10" fill="#818181"/><rect x="60" y="172" width="10" height="10" fill="#242424"/><rect x="70" y="172" width="10" height="10" fill="#acacac"/><rect x="80" y="172" width="10" height="10" fill="#787878"/><rect x="90" y="172" width="10" height="10" fill="#616161"/><rect x="100" y="172" width="10" height="10" fill="#6c6c6c"/><rect x="110" y="172" width="10" height="10" fill="#717171"/><rect x="120" y="172" width="10" height="10" fill="#313131"/><rect x="130" y="172" width="10" height="10" fill="#a1a1a1"/><rect x="140" y="172" width="10" height="10" fill="#949494"/><rect x="150" y="172" width="10" height="10" fill="#878787"/><rect x="160" y="172" width="10" height="10" fill="#9e9e9e"/><rect x="170" y="172" width="10" height="10" fill="#444444"/><rect x="180" y="172" width="10" height="10" fill="#8a8a8a"/><rect x="190" y="172" width="10" height="10" fill="#767676"/><rect x="200" y="172" width="10" height="10" fill="#656565"/><rect x="210" y="172" width="10" height="10" fill="#707070"/><rect x="220" y="172" width="10" height="10" fill="#727272"/><rect x="230" y="172" width="10" height="10" fill="#5a5a5a"/><rect x="240" y="172" width="10" height="10" fill="#5e5e5e"/><rect x="250" y="172" width="10" height="10" fill="#626262"/><rect x="260" y="172" width="10" height="10" fill="#5a5a5a"/><rect x="270" y="172" width="30" height="10" fill="#5b5b5b"/><rect x="0" y="182" width="30" height="10" fill="#464646"/><rect x="30" y="182" width="10" height="10" fill="#3f3f3f"/><rect x="40" y="182" width="10" height="10" fill="#404040"/><rect x="50" y="182" width="10" height="10" fill="#646464"/><rect x="60" y="182" width="10" height="10" fill="#aaaaaa"/><rect x="70" y="182" width="10" height="10" fill="#999999"/><rect x="80" y="182" width="10" height="10" fill="#393939"/><rect x="90" y="182" width="10" height="10" fill="#868686"/><rect x="100" y="182" width="10" height="10" fill="#6a6a6a"/><rect x="110" y="182" width="10" height="10" fill="#4f4f4f"/><rect x="120" y="182" width="10" height="10" fill="#a0a0a0"/><rect x="130" y="182" width="10" height="10" fill="#7f7f7f"/><rect x="140" y="182" width="10" height="10" fill="#9e9e9e"/><rect x="150" y="182" width="10" height="10" fill="#727272"/><rect x="160" y="182" width="10" height="10" fill="#7f7f7f"/><rect x="170" y="182" width="10" height="10" fill="#b8b8b8"/><rect x="180" y="182" width="10" height="10" fill="#818181"/><rect x="190" y="182" width="10" height="10" fill="#555555"/><rect x="200" y="182" width="10" height="10" fill="#747474"/><rect x="210" y="182" width="10" height="10" fill="#6a6a6a"/><rect x="220" y="182" width="10" height="10" fill="#6c6c6c"/><rect x="230" y="182" width="10" height="10" fill="#6f6f6f"/><rect x="240" y="182" width="10" height="10" fill="#727272"/><rect x="250" y="182" width="10" height="10" fill="#5a5a5a"/><rect x="260" y="182" width="10" height="10" fill="#5e5e5e"/><rect x="270" y="182" width="30" height="10" fill="#616161"/><rect x="0" y="192" width="30" height="10" fill="#444444"/><rect x="30" y="192" width="10" height="10" fill="#4a4a4a"/><rect x="40" y="192" width="10" height="10" fill="#393939"/><rect x="50" y="192" width="10" height="10" fill="#767676"/><rect x="60" y="192" width="10" height="10" fill="#929292"/><rect x="70" y="192" width="10" height="10" fill="#b9b9b9"/><rect x="80" y="192" width="10" height="10" fill="#2f2f2f"/><rect x="90" y="192" width="10" height="10" fill="#9e9e9e"/><rect x="100" y="192" width="10" height="10" fill="#787878"/><rect x="110" y="192" width="10" height="10" fill="#6c6c6c"/><rect x="120" y="192" width="10" height="10" fill="#777777"/><rect x="130" y="192" width="10" height="10" fill="#747474"/><rect x="140" y="192" width="10" height="10" fill="#8b8b8b"/><rect x="150" y="192" width="10" height="10" fill="#616161"/><rect x="160" y="192" width="10" height="10" fill="#888888"/><rect x="170" y="192" width="10" height="10" fill="#9e9e9e"/><rect x="180" y="192" width="10" height="10" fill="#b4b4b4"/><rect x="190" y="192" width="10" height="10" fill="#444444"/><rect x="200" y="192" width="10" height="10" fill="#606060"/><rect x="210" y="192" width="10" height="10" fill="#727272"/><rect x="220" y="192" width="10" height="10" fill="#6b6b6b"/><rect x="230" y="192" width="20" height="10" fill="#6c6c6c"/><rect x="250" y="192" width="10" height="10" fill="#6f6f6f"/><rect x="260" y="192" width="10" height="10" fill="#727272"/><rect x="270" y="192" width="30" height="10" fill="#5a5a5a"/><rect x="0" y="202" width="30" height="10" fill="#565656"/><rect x="30" y="202" width="10" height="10" fill="#3e3e3e"/><rect x="40" y="202" width="10" height="10" fill="#6b6b6b"/><rect x="50" y="202" width="10" height="10" fill="#3a3a3a"/><rect x="60" y="202" width="10" height="10" fill="#8d8d8d"/><rect x="70" y="202" width="10" height="10" fill="#939393"/><rect x="80" y="202" width="10" height="10" fill="#828282"/><rect x="90" y="202" width="10" height="10" fill="#5f5f5f"/><rect x="100" y="202" width="10" height="10" fill="#838383"/><rect x="110" y="202" width="10" height="10" fill="#666666"/><rect x="120" y="202" width="10" height="10" fill="#7d7d7d"/><rect x="130" y="202" width="10" height="10" fill="#767676"/><rect x="140" y="202" width="10" height="10" fill="#8e8e8e"/><rect x="150" y="202" width="10" height="10" fill="#636363"/><rect x="160" y="202" width="10" height="10" fill="#868686"/><rect x="170" y="202" width="10" height="10" fill="#a4a4a4"/><rect x="180" y="202" width="10" height="10" fill="#999999"/><rect x="190" y="202" width="10" height="10" fill="#bebebe"/><rect x="200" y="202" width="10" height="10" fill="#424242"/><rect x="210" y="202" width="10" height="10" fill="#5e5e5e"/><rect x="220" y="202" width="10" height="10" fill="#727272"/><rect x="230" y="202" width="10" height="10" fill="#6c6c6c"/><rect x="240" y="202" width="10" height="10" fill="#6d6d6d"/><rect x="250" y="202" width="20" height="10" fill="#6c6c6c"/><rect x="270" y="202" width="30" height="10" fill="#6f6f6f"/><rect x="0" y="212" width="30" height="30" fill="#676767"/><rect x="30" y="212" width="10" height="30" fill="#363636"/><rect x="40" y="212" width="10" height="30" fill="#8a8a8a"/><rect x="50" y="212" width="10" height="30" fill="#6a6a6a"/><rect x="60" y="212" width="10" height="30" fill="#888888"/><rect x="70" y="212" width="10" height="30" fill="#999999"/><rect x="80" y="212" width="10" height="30" fill="#757575"/><rect x="90" y="212" width="10" height="30" fill="#6c6c6c"/><rect x="100" y="212" width="20" height="30" fill="#6a6a6a"/><rect x="120" y="212" width="10" height="30" fill="#7c7c7c"/><rect x="130" y="212" width="10" height="30" fill="#757575"/><rect x="140" y="212" width="10" height="30" fill="#8e8e8e"/><rect x="150" y="212" width="10" height="30" fill="#636363"/><rect x="160" y="212" width="10" height="30" fill="#878787"/><rect x="170" y="212" width="10" height="30" fill="#a3a3a3"/><rect x="180" y="212" width="10" height="30" fill="#a0a0a0"/><rect x="190" y="212" width="10" height="30" fill="#999999"/><rect x="200" y="212" width="10" height="30" fill="#b9b9b9"/><rect x="210" y="212" width="10" height="30" fill="#535353"/><rect x="220" y="212" width="10" height="30" fill="#5d5d5d"/><rect x="230" y="212" width="10" height="30" fill="#6f6f6f"/><rect x="240" y="212" width="60" height="30" fill="#6c6c6c"/></g></g><g fill="#000"><path d="M97.6 81.6L99.3 78.6L101.0 81.6z"/><path d="M145.2 99.1L146.8 96.1L148.5 99.1z"/><path d="M127.8 107.6L129.5 104.6L131.2 107.6z"/><path d="M117.0 112.5L118.7 109.5L120.4 112.5z"/><path d="M134.0 112.5L135.7 109.5L137.3 112.5z"/><path d="M153.0 45.9L154.7 43.0L156.3 45.9z"/><path d="M246.0 30.0L247.7 27.1L249.3 30.0z"/><path d="M250.8 29.4L252.5 26.5L254.2 29.4z"/><path d="M257.5 35.1L259.1 32.1L260.8 35.1z"/><path d="M260.4 48.8L262.0 45.9L263.6 48.8z"/><path d="M195.8 60.7L197.4 57.8L199.1 60.7z"/><path d="M217.2 61.7L218.9 58.8L220.6 61.7z"/><path d="M247.0 66.1L248.7 63.1L250.3 66.1z"/><path d="M244.2 68.3L245.8 65.3L247.5 68.3z"/><path d="M171.4 76.5L173.1 73.5L174.8 76.5z"/><path d="M192.5 79.1L194.2 76.1L195.8 79.1z"/><path d="M183.4 93.0L185.1 90.0L186.8 93.0z"/><path d="M190.4 94.5L192.1 91.5L193.8 94.5z"/><path d="M207.2 93.6L208.8 90.6L210.5 93.6z"/><path d="M200.5 96.8L202.2 93.8L203.8 96.8z"/><path d="M178.2 98.7L179.8 95.8L181.5 98.7z"/><path d="M177.8 101.0L179.4 98.0L181.1 101.0z"/><path d="M163.2 100.0L164.8 97.0L166.5 100.0z"/><path d="M231.8 105.7L233.5 102.8L235.2 105.7z"/><path d="M235.2 103.4L236.9 100.4L238.6 103.4z"/><path d="M217.7 106.7L219.3 103.8L221.0 106.7z"/><path d="M221.3 107.6L223.0 104.6L224.7 107.6z"/><path d="M185.3 107.3L187.0 104.3L188.7 107.3z"/><path d="M187.2 108.2L188.9 105.2L190.6 108.2z"/><path d="M171.2 111.3L172.8 108.3L174.5 111.3z"/><path d="M178.3 112.3L180.0 109.3L181.7 112.3z"/><path d="M188.3 112.8L190.0 109.8L191.7 112.8z"/><path d="M214.8 112.0L216.4 109.0L218.1 112.0z"/><path d="M228.0 111.0L229.7 108.0L231.3 111.0z"/><path d="M107.5 114.3L109.2 111.3L110.9 114.3z"/><path d="M117.0 113.9L118.7 110.9L120.4 113.9z"/><path d="M134.0 113.9L135.7 110.9L137.3 113.9z"/><path d="M100.8 122.8L102.5 119.8L104.2 122.8z"/><path d="M100.3 125.6L102.0 122.6L103.7 125.6z"/><path d="M112.2 123.2L113.9 120.2L115.6 123.2z"/><path d="M139.8 126.2L141.4 123.2L143.1 126.2z"/><path d="M143.5 125.6L145.2 122.6L146.8 125.6z"/><path d="M142.7 127.0L144.3 124.0L146.0 127.0z"/><path d="M135.0 132.7L136.7 129.8L138.3 132.7z"/><path d="M34.0 131.7L35.6 128.8L37.2 131.7z"/><path d="M37.4 130.8L39.0 127.8L40.6 130.8z"/><path d="M24.1 136.1L25.7 133.2L27.3 136.1z"/><path d="M26.4 135.7L28.0 132.8L29.6 135.7z"/><path d="M27.9 135.3L29.5 132.3L31.1 135.3z"/><path d="M25.0 139.9L26.6 136.9L28.2 139.9z"/><path d="M26.0 140.3L27.6 137.3L29.2 140.3z"/><path d="M72.4 135.1L74.1 132.2L75.8 135.1z"/><path d="M95.2 142.1L96.9 139.2L98.6 142.1z"/><path d="M38.6 149.3L40.3 146.3L41.9 149.3z"/><path d="M103.8 149.7L105.4 146.8L107.1 149.7z"/><path d="M129.3 147.8L131.0 144.8L132.7 147.8z"/><path d="M52.6 160.7L54.2 157.8L55.9 160.7z"/><path d="M51.0 163.0L52.6 160.0L54.2 163.0z"/><path d="M53.5 163.6L55.1 160.7L56.8 163.6z"/><path d="M54.5 164.2L56.1 161.2L57.8 164.2z"/><path d="M55.4 169.8L57.0 166.8L58.6 169.8z"/><path d="M33.1 168.9L34.8 165.9L36.4 168.9z"/><path d="M126.5 173.6L128.2 170.7L129.8 173.6z"/><path d="M46.9 175.9L48.5 172.9L50.1 175.9z"/><path d="M45.9 177.8L47.5 174.8L49.1 177.8z"/><path d="M49.6 178.4L51.3 175.4L52.9 178.4z"/><path d="M45.5 179.3L47.1 176.3L48.8 179.3z"/><path d="M58.1 190.2L59.8 187.2L61.4 190.2z"/><path d="M75.2 200.6L76.9 197.7L78.6 200.6z"/><path d="M77.1 202.9L78.8 199.9L80.5 202.9z"/><path d="M161.7 113.9L163.3 110.9L165.0 113.9z"/><path d="M171.2 114.3L172.8 111.3L174.5 114.3z"/><path d="M174.9 115.2L176.6 112.2L178.2 115.2z"/><path d="M170.3 117.3L172.0 114.3L173.7 117.3z"/><path d="M173.3 119.3L175.0 116.3L176.7 119.3z"/><path d="M176.3 118.3L178.0 115.3L179.7 118.3z"/><path d="M179.3 117.3L181.0 114.3L182.7 117.3z"/><path d="M182.3 116.3L184.0 113.3L185.7 116.3z"/><path d="M185.3 115.3L187.0 112.3L188.7 115.3z"/><path d="M188.3 114.3L190.0 111.3L191.7 114.3z"/><path d="M174.3 121.3L176.0 118.3L177.7 121.3z"/><path d="M178.3 121.3L180.0 118.3L181.7 121.3z"/><path d="M182.3 119.3L184.0 116.3L185.7 119.3z"/><path d="M166.3 126.2L168.0 123.2L169.7 126.2z"/><path d="M178.8 123.7L180.4 120.8L182.1 123.7z"/><path d="M217.7 120.5L219.3 117.5L221.0 120.5z"/><path d="M209.0 113.9L210.7 110.9L212.3 113.9z"/><path d="M226.2 113.3L227.8 110.3L229.5 113.3z"/><path d="M177.8 143.7L179.4 140.8L181.1 143.7z"/><path d="M175.8 147.8L177.5 144.8L179.2 147.8z"/><path d="M176.8 150.3L178.5 147.3L180.2 150.3z"/><path d="M176.4 152.2L178.1 149.2L179.8 152.2z"/><path d="M188.2 148.8L189.8 145.8L191.5 148.8z"/><path d="M171.2 151.3L172.8 148.3L174.5 151.3z"/><path d="M173.0 153.1L174.7 150.2L176.3 153.1z"/><path d="M173.9 155.0L175.6 152.0L177.2 155.0z"/><path d="M172.0 154.1L173.7 151.2L175.3 154.1z"/><path d="M156.8 153.5L158.5 150.5L160.2 153.5z"/><path d="M162.5 153.5L164.2 150.5L165.8 153.5z"/><path d="M156.8 157.3L158.5 154.3L160.2 157.3z"/><path d="M164.4 158.8L166.1 155.8L167.8 158.8z"/><path d="M168.2 158.3L169.9 155.3L171.6 158.3z"/><path d="M170.8 157.9L172.4 154.9L174.1 157.9z"/><path d="M204.3 157.3L206.0 154.3L207.7 157.3z"/><path d="M205.2 157.9L206.9 154.9L208.6 157.9z"/><path d="M182.2 164.5L183.8 161.5L185.5 164.5z"/><path d="M195.3 167.3L197.0 164.3L198.7 167.3z"/><path d="M195.8 169.7L197.4 166.8L199.1 169.7z"/><path d="M163.9 169.8L165.6 166.8L167.2 169.8z"/><path d="M178.2 182.6L179.8 179.7L181.5 182.6z"/><path d="M174.9 200.0L176.6 197.0L178.2 200.0z"/><path d="M251.8 23.4L254.4 18.7L257.0 23.4z"/></g><rect x="8.5" y="7.5" width="322" height="219.5" fill="none" stroke="#595959" stroke-width="1"/><g stroke="#333" stroke-width="0.8"><path d="M32.7 7.5v-2M119.2 7.5v-2M206 7.5v-2M292.5 7.5v-2M34.4 226.8v-1.8M122.2 226.8v-1.8M213.8 226.8v-1.8M303.5 226.8v-1.8M8.5 96.5h-1.8M8.5 197.5h-1.8M330.5 88h-1.8M330.5 187h-1.8"/></g><g class="ax"><text x="19.8" y="6.5" textLength="34.6" lengthAdjust="spacingAndGlyphs">111°0'0"E</text><text x="107.2" y="6.5" textLength="34.6" lengthAdjust="spacingAndGlyphs">113°0'0"E</text><text x="194.9" y="6.5" textLength="34.6" lengthAdjust="spacingAndGlyphs">115°0'0"E</text><text x="282.7" y="6.5" textLength="34.6" lengthAdjust="spacingAndGlyphs">117°0'0"E</text><text x="15.1" y="236.0" textLength="34.7" lengthAdjust="spacingAndGlyphs">111°0'0"E</text><text x="106.0" y="236.0" textLength="34.7" lengthAdjust="spacingAndGlyphs">113°0'0"E</text><text x="197.0" y="236.0" textLength="34.7" lengthAdjust="spacingAndGlyphs">115°0'0"E</text><text x="288.8" y="236.0" textLength="34.7" lengthAdjust="spacingAndGlyphs">117°0'0"E</text><text transform="translate(6.9,105.6) rotate(-90)" textLength="31.5" lengthAdjust="spacingAndGlyphs">26°0'0"N</text><text transform="translate(6.9,203.6) rotate(-90)" textLength="31.5" lengthAdjust="spacingAndGlyphs">24°0'0"N</text><text transform="translate(332.1,70.8) rotate(90)" textLength="31.8" lengthAdjust="spacingAndGlyphs">26°0'0"N</text><text transform="translate(332.1,170.3) rotate(90)" textLength="31.8" lengthAdjust="spacingAndGlyphs">24°0'0"N</text></g><text class="n" x="20.4" y="22.2">N</text><path d="M23.8 24.6L16.2 48.8L23.8 39.6z" fill="#000"/><path d="M23.7 25.5L30.7 47.8L23.7 39.6z" fill="#fff" stroke="#000" stroke-width="0.8" stroke-linejoin="miter"/><text class="lt" y="20.8"><tspan x="307.0" y="20.8" font-size="9.9">(</tspan><tspan x="311.5" y="20.8">a</tspan><tspan x="317.3" y="20.8" font-size="9.9">)</tspan></text><rect x="120.7" y="219.6" width="54.3" height="3.2" fill="#fff" stroke="#000" stroke-width="0.6"/><rect x="120.7" y="219.6" width="27" height="3.2" fill="#000"/><g class="sb"><text x="121" y="217" text-anchor="middle">0</text><text x="147.6" y="217" text-anchor="middle">60</text><text x="174.6" y="217" text-anchor="middle">120</text><text x="178.6" y="225.2">km</text></g><path d="M256.3 109.5L259.6 104.2L262.9 109.5z" fill="#000"/><text class="lg w" x="270.7" y="108.9"><tspan textLength="5.6" lengthAdjust="spacingAndGlyphs">W</tspan> <tspan x="279.8" textLength="19.8" lengthAdjust="spacingAndGlyphs">deposit</tspan></text><rect x="251.4" y="112.30" width="16.2" height="7.9" fill="rgb(0,0,255)" stroke="#8a8a8a" stroke-width="0.5"/><text class="lg" y="118.80"><tspan x="270.2">0.</tspan> <tspan x="277.8" textLength="9.3" lengthAdjust="spacingAndGlyphs">011</tspan> <tspan x="290.9">-</tspan> <tspan x="296.8">0.</tspan> <tspan x="304.4" textLength="9.3" lengthAdjust="spacingAndGlyphs">123</tspan></text><rect x="251.4" y="123.05" width="16.2" height="7.9" fill="rgb(51,87,255)" stroke="#8a8a8a" stroke-width="0.5"/><text class="lg" y="129.55"><tspan x="270.2">0.</tspan> <tspan x="277.8" textLength="9.3" lengthAdjust="spacingAndGlyphs">124</tspan> <tspan x="290.9">-</tspan> <tspan x="296.8">0.</tspan> <tspan x="304.4" textLength="9.3" lengthAdjust="spacingAndGlyphs">207</tspan></text><rect x="251.4" y="133.80" width="16.2" height="7.9" fill="rgb(56,163,255)" stroke="#8a8a8a" stroke-width="0.5"/><text class="lg" y="140.30"><tspan x="270.2">0.</tspan> <tspan x="277.8" textLength="9.3" lengthAdjust="spacingAndGlyphs">208</tspan> <tspan x="290.9">-</tspan> <tspan x="296.8">0.</tspan> <tspan x="304.4" textLength="9.3" lengthAdjust="spacingAndGlyphs">311</tspan></text><rect x="251.4" y="144.55" width="16.2" height="7.9" fill="rgb(0,255,255)" stroke="#8a8a8a" stroke-width="0.5"/><text class="lg" y="151.05"><tspan x="270.2">0.</tspan> <tspan x="277.8" textLength="9.3" lengthAdjust="spacingAndGlyphs">312</tspan> <tspan x="290.9">-</tspan> <tspan x="296.8">0.</tspan> <tspan x="304.4" textLength="9.3" lengthAdjust="spacingAndGlyphs">419</tspan></text><rect x="251.4" y="155.30" width="16.2" height="7.9" fill="rgb(145,255,180)" stroke="#8a8a8a" stroke-width="0.5"/><text class="lg" y="161.80"><tspan x="270.2">0.</tspan> <tspan x="277.8" textLength="9.3" lengthAdjust="spacingAndGlyphs">420</tspan> <tspan x="290.9">-</tspan> <tspan x="296.8">0.</tspan> <tspan x="304.4" textLength="9.3" lengthAdjust="spacingAndGlyphs">527</tspan></text><rect x="251.4" y="166.05" width="16.2" height="7.9" fill="rgb(209,255,105)" stroke="#8a8a8a" stroke-width="0.5"/><text class="lg" y="172.55"><tspan x="270.2">0.</tspan> <tspan x="277.8" textLength="9.3" lengthAdjust="spacingAndGlyphs">528</tspan> <tspan x="290.9">-</tspan> <tspan x="296.8">0.</tspan> <tspan x="304.4" textLength="9.3" lengthAdjust="spacingAndGlyphs">621</tspan></text><rect x="251.4" y="176.80" width="16.2" height="7.9" fill="rgb(255,255,0)" stroke="#8a8a8a" stroke-width="0.5"/><text class="lg" y="183.30"><tspan x="270.2">0.</tspan> <tspan x="277.8" textLength="9.3" lengthAdjust="spacingAndGlyphs">622</tspan> <tspan x="290.9">-</tspan> <tspan x="296.8">0.</tspan> <tspan x="304.4" textLength="9.3" lengthAdjust="spacingAndGlyphs">726</tspan></text><rect x="251.4" y="187.55" width="16.2" height="7.9" fill="rgb(255,183,0)" stroke="#8a8a8a" stroke-width="0.5"/><text class="lg" y="194.05"><tspan x="270.2">0.</tspan> <tspan x="277.8" textLength="9.3" lengthAdjust="spacingAndGlyphs">727</tspan> <tspan x="290.9">-</tspan> <tspan x="296.8">0.</tspan> <tspan x="304.4" textLength="9.3" lengthAdjust="spacingAndGlyphs">855</tspan></text><rect x="251.4" y="198.30" width="16.2" height="7.9" fill="rgb(255,111,0)" stroke="#8a8a8a" stroke-width="0.5"/><text class="lg" y="204.80"><tspan x="270.2">0.</tspan> <tspan x="277.8" textLength="9.3" lengthAdjust="spacingAndGlyphs">856</tspan> <tspan x="290.9">-</tspan> <tspan x="296.8">1.</tspan> <tspan x="304.4" textLength="9.3" lengthAdjust="spacingAndGlyphs">060</tspan></text><rect x="251.4" y="209.05" width="16.2" height="7.9" fill="rgb(255,0,0)" stroke="#8a8a8a" stroke-width="0.5"/><text class="lg" y="215.55"><tspan x="271.7">1.</tspan> <tspan x="279.3" textLength="9.3" lengthAdjust="spacingAndGlyphs">061</tspan> <tspan x="292.4">-</tspan> <tspan x="298.3">2.</tspan> <tspan x="305.9" textLength="9.3" lengthAdjust="spacingAndGlyphs">848</tspan></text></g><g transform="translate(346.5,0)"><g clip-path="url(#reg)"><g filter="url(#hmb)"><rect x="0" y="-8" width="30" height="30" fill="#909090"/><rect x="30" y="-8" width="10" height="30" fill="#a4a4a4"/><rect x="40" y="-8" width="10" height="30" fill="#272727"/><rect x="50" y="-8" width="10" height="30" fill="#4b4b4b"/><rect x="60" y="-8" width="10" height="30" fill="#454545"/><rect x="70" y="-8" width="30" height="30" fill="#464646"/><rect x="100" y="-8" width="10" height="30" fill="#474747"/><rect x="110" y="-8" width="20" height="30" fill="#464646"/><rect x="130" y="-8" width="10" height="30" fill="#474747"/><rect x="140" y="-8" width="10" height="30" fill="#3e3e3e"/><rect x="150" y="-8" width="10" height="30" fill="#474747"/><rect x="160" y="-8" width="30" height="30" fill="#464646"/><rect x="190" y="-8" width="10" height="30" fill="#484848"/><rect x="200" y="-8" width="10" height="30" fill="#444444"/><rect x="210" y="-8" width="10" height="30" fill="#5f5f5f"/><rect x="220" y="-8" width="10" height="30" fill="#838383"/><rect x="230" y="-8" width="10" height="30" fill="#4a4a4a"/><rect x="240" y="-8" width="10" height="30" fill="#363636"/><rect x="250" y="-8" width="10" height="30" fill="#c1c1c1"/><rect x="260" y="-8" width="10" height="30" fill="#9a9a9a"/><rect x="270" y="-8" width="30" height="30" fill="#474747"/><rect x="0" y="22" width="30" height="10" fill="#939393"/><rect x="30" y="22" width="10" height="10" fill="#8d8d8d"/><rect x="40" y="22" width="10" height="10" fill="#b4b4b4"/><rect x="50" y="22" width="10" height="10" fill="#383838"/><rect x="60" y="22" width="10" height="10" fill="#494949"/><rect x="70" y="22" width="20" height="10" fill="#464646"/><rect x="90" y="22" width="10" height="10" fill="#474747"/><rect x="100" y="22" width="10" height="10" fill="#424242"/><rect x="110" y="22" width="20" height="10" fill="#474747"/><rect x="130" y="22" width="10" height="10" fill="#3c3c3c"/><rect x="140" y="22" width="10" height="10" fill="#848484"/><rect x="150" y="22" width="10" height="10" fill="#404040"/><rect x="160" y="22" width="10" height="10" fill="#484848"/><rect x="170" y="22" width="20" height="10" fill="#464646"/><rect x="190" y="22" width="10" height="10" fill="#3f3f3f"/><rect x="200" y="22" width="10" height="10" fill="#383838"/><rect x="210" y="22" width="10" height="10" fill="#595959"/><rect x="220" y="22" width="10" height="10" fill="#8a8a8a"/><rect x="230" y="22" width="10" height="10" fill="#6a6a6a"/><rect x="240" y="22" width="10" height="10" fill="#a3a3a3"/><rect x="250" y="22" width="10" height="10" fill="#b7b7b7"/><rect x="260" y="22" width="10" height="10" fill="#828282"/><rect x="270" y="22" width="30" height="10" fill="#606060"/><rect x="0" y="32" width="30" height="10" fill="#939393"/><rect x="30" y="32" width="10" height="10" fill="#909090"/><rect x="40" y="32" width="10" height="10" fill="#a1a1a1"/><rect x="50" y="32" width="10" height="10" fill="#242424"/><rect x="60" y="32" width="10" height="10" fill="#4b4b4b"/><rect x="70" y="32" width="10" height="10" fill="#454545"/><rect x="80" y="32" width="10" height="10" fill="#474747"/><rect x="90" y="32" width="10" height="10" fill="#424242"/><rect x="100" y="32" width="10" height="10" fill="#5f5f5f"/><rect x="110" y="32" width="10" height="10" fill="#3f3f3f"/><rect x="120" y="32" width="10" height="10" fill="#494949"/><rect x="130" y="32" width="10" height="10" fill="#3d3d3d"/><rect x="140" y="32" width="10" height="10" fill="#7c7c7c"/><rect x="150" y="32" width="10" height="10" fill="#242424"/><rect x="160" y="32" width="10" height="10" fill="#494949"/><rect x="170" y="32" width="10" height="10" fill="#434343"/><rect x="180" y="32" width="10" height="10" fill="#454545"/><rect x="190" y="32" width="10" height="10" fill="#797979"/><rect x="200" y="32" width="10" height="10" fill="#858585"/><rect x="210" y="32" width="10" height="10" fill="#888888"/><rect x="220" y="32" width="10" height="10" fill="#3f3f3f"/><rect x="230" y="32" width="10" height="10" fill="#515151"/><rect x="240" y="32" width="10" height="10" fill="#989898"/><rect x="250" y="32" width="10" height="10" fill="#a2a2a2"/><rect x="260" y="32" width="10" height="10" fill="#828282"/><rect x="270" y="32" width="30" height="10" fill="#4a4a4a"/><rect x="0" y="42" width="30" height="10" fill="#909090"/><rect x="30" y="42" width="10" height="10" fill="#949494"/><rect x="40" y="42" width="10" height="10" fill="#8e8e8e"/><rect x="50" y="42" width="10" height="10" fill="#b4b4b4"/><rect x="60" y="42" width="10" height="10" fill="#383838"/><rect x="70" y="42" width="10" height="10" fill="#494949"/><rect x="80" y="42" width="10" height="10" fill="#464646"/><rect x="90" y="42" width="10" height="10" fill="#474747"/><rect x="100" y="42" width="10" height="10" fill="#3f3f3f"/><rect x="110" y="42" width="10" height="10" fill="#5c5c5c"/><rect x="120" y="42" width="10" height="10" fill="#414141"/><rect x="130" y="42" width="10" height="10" fill="#424242"/><rect x="140" y="42" width="10" height="10" fill="#6a6a6a"/><rect x="150" y="42" width="10" height="10" fill="#dedede"/><rect x="160" y="42" width="10" height="10" fill="#424242"/><rect x="170" y="42" width="10" height="10" fill="#484848"/><rect x="180" y="42" width="10" height="10" fill="#a7a7a7"/><rect x="190" y="42" width="10" height="10" fill="#5c5c5c"/><rect x="200" y="42" width="10" height="10" fill="#757575"/><rect x="210" y="42" width="10" height="10" fill="#747474"/><rect x="220" y="42" width="10" height="10" fill="#595959"/><rect x="230" y="42" width="10" height="10" fill="#838383"/><rect x="240" y="42" width="10" height="10" fill="#959595"/><rect x="250" y="42" width="10" height="10" fill="#a1a1a1"/><rect x="260" y="42" width="10" height="10" fill="#b4b4b4"/><rect x="270" y="42" width="30" height="10" fill="#bababa"/><rect x="0" y="52" width="30" height="10" fill="#a4a4a4"/><rect x="30" y="52" width="10" height="10" fill="#8d8d8d"/><rect x="40" y="52" width="10" height="10" fill="#919191"/><rect x="50" y="52" width="10" height="10" fill="#a1a1a1"/><rect x="60" y="52" width="10" height="10" fill="#242424"/><rect x="70" y="52" width="10" height="10" fill="#4b4b4b"/><rect x="80" y="52" width="10" height="10" fill="#454545"/><rect x="90" y="52" width="10" height="10" fill="#474747"/><rect x="100" y="52" width="10" height="10" fill="#464646"/><rect x="110" y="52" width="10" height="10" fill="#565656"/><rect x="120" y="52" width="10" height="10" fill="#505050"/><rect x="130" y="52" width="10" height="10" fill="#454545"/><rect x="140" y="52" width="10" height="10" fill="#2e2e2e"/><rect x="150" y="52" width="10" height="10" fill="#dcdcdc"/><rect x="160" y="52" width="10" height="10" fill="#393939"/><rect x="170" y="52" width="10" height="10" fill="#6d6d6d"/><rect x="180" y="52" width="10" height="10" fill="#6a6a6a"/><rect x="190" y="52" width="10" height="10" fill="#7f7f7f"/><rect x="200" y="52" width="10" height="10" fill="#9e9e9e"/><rect x="210" y="52" width="10" height="10" fill="#b5b5b5"/><rect x="220" y="52" width="10" height="10" fill="#626262"/><rect x="230" y="52" width="10" height="10" fill="#6c6c6c"/><rect x="240" y="52" width="20" height="10" fill="#8e8e8e"/><rect x="260" y="52" width="10" height="10" fill="#b8b8b8"/><rect x="270" y="52" width="30" height="10" fill="#b0b0b0"/><rect x="0" y="62" width="30" height="10" fill="#262626"/><rect x="30" y="62" width="10" height="10" fill="#b7b7b7"/><rect x="40" y="62" width="10" height="10" fill="#8b8b8b"/><rect x="50" y="62" width="10" height="10" fill="#8f8f8f"/><rect x="60" y="62" width="10" height="10" fill="#b5b5b5"/><rect x="70" y="62" width="10" height="10" fill="#383838"/><rect x="80" y="62" width="10" height="10" fill="#4c4c4c"/><rect x="90" y="62" width="10" height="10" fill="#404040"/><rect x="100" y="62" width="10" height="10" fill="#383838"/><rect x="110" y="62" width="10" height="10" fill="#4a4a4a"/><rect x="120" y="62" width="10" height="10" fill="#858585"/><rect x="130" y="62" width="10" height="10" fill="#404040"/><rect x="140" y="62" width="10" height="10" fill="#9c9c9c"/><rect x="150" y="62" width="10" height="10" fill="#646464"/><rect x="160" y="62" width="10" height="10" fill="#535353"/><rect x="170" y="62" width="10" height="10" fill="#3e3e3e"/><rect x="180" y="62" width="10" height="10" fill="#434343"/><rect x="190" y="62" width="10" height="10" fill="#5b5b5b"/><rect x="200" y="62" width="10" height="10" fill="#6d6d6d"/><rect x="210" y="62" width="10" height="10" fill="#a3a3a3"/><rect x="220" y="62" width="10" height="10" fill="#626262"/><rect x="230" y="62" width="10" height="10" fill="#bcbcbc"/><rect x="240" y="62" width="10" height="10" fill="#dbdbdb"/><rect x="250" y="62" width="10" height="10" fill="#767676"/><rect x="260" y="62" width="40" height="10" fill="#7f7f7f"/><rect x="0" y="72" width="30" height="10" fill="#505050"/><rect x="30" y="72" width="10" height="10" fill="#202020"/><rect x="40" y="72" width="10" height="10" fill="#b9b9b9"/><rect x="50" y="72" width="10" height="10" fill="#888888"/><rect x="60" y="72" width="10" height="10" fill="#a0a0a0"/><rect x="70" y="72" width="10" height="10" fill="#242424"/><rect x="80" y="72" width="10" height="10" fill="#323232"/><rect x="90" y="72" width="10" height="10" fill="#686868"/><rect x="100" y="72" width="10" height="10" fill="#949494"/><rect x="110" y="72" width="10" height="10" fill="#6f6f6f"/><rect x="120" y="72" width="10" height="10" fill="#414141"/><rect x="130" y="72" width="10" height="10" fill="#6c6c6c"/><rect x="140" y="72" width="10" height="10" fill="#3b3b3b"/><rect x="150" y="72" width="10" height="10" fill="#242424"/><rect x="160" y="72" width="10" height="10" fill="#dcdcdc"/><rect x="170" y="72" width="10" height="10" fill="#b2b2b2"/><rect x="180" y="72" width="10" height="10" fill="#7f7f7f"/><rect x="190" y="72" width="10" height="10" fill="#e4e4e4"/><rect x="200" y="72" width="10" height="10" fill="#828282"/><rect x="210" y="72" width="10" height="10" fill="#636363"/><rect x="220" y="72" width="10" height="10" fill="#a8a8a8"/><rect x="230" y="72" width="10" height="10" fill="#bdbdbd"/><rect x="240" y="72" width="10" height="10" fill="#5f5f5f"/><rect x="250" y="72" width="10" height="10" fill="#949494"/><rect x="260" y="72" width="10" height="10" fill="#8f8f8f"/><rect x="270" y="72" width="30" height="10" fill="#858585"/><rect x="0" y="82" width="30" height="10" fill="#343434"/><rect x="30" y="82" width="10" height="10" fill="#515151"/><rect x="40" y="82" width="10" height="10" fill="#202020"/><rect x="50" y="82" width="10" height="10" fill="#b7b7b7"/><rect x="60" y="82" width="10" height="10" fill="#939393"/><rect x="70" y="82" width="10" height="10" fill="#bcbcbc"/><rect x="80" y="82" width="10" height="10" fill="#a1a1a1"/><rect x="90" y="82" width="10" height="10" fill="#bebebe"/><rect x="100" y="82" width="10" height="10" fill="#bababa"/><rect x="110" y="82" width="10" height="10" fill="#7e7e7e"/><rect x="120" y="82" width="10" height="10" fill="#5a5a5a"/><rect x="130" y="82" width="10" height="10" fill="#6c6c6c"/><rect x="140" y="82" width="10" height="10" fill="#252525"/><rect x="150" y="82" width="10" height="10" fill="#696969"/><rect x="160" y="82" width="10" height="10" fill="#7d7d7d"/><rect x="170" y="82" width="10" height="10" fill="#929292"/><rect x="180" y="82" width="10" height="10" fill="#747474"/><rect x="190" y="82" width="10" height="10" fill="#a2a2a2"/><rect x="200" y="82" width="10" height="10" fill="#777777"/><rect x="210" y="82" width="10" height="10" fill="#a0a0a0"/><rect x="220" y="82" width="10" height="10" fill="#c0c0c0"/><rect x="230" y="82" width="10" height="10" fill="#909090"/><rect x="240" y="82" width="10" height="10" fill="#585858"/><rect x="250" y="82" width="10" height="10" fill="#5d5d5d"/><rect x="260" y="82" width="10" height="10" fill="#4e4e4e"/><rect x="270" y="82" width="30" height="10" fill="#959595"/><rect x="0" y="92" width="30" height="10" fill="#afafaf"/><rect x="30" y="92" width="10" height="10" fill="#373737"/><rect x="40" y="92" width="10" height="10" fill="#525252"/><rect x="50" y="92" width="10" height="10" fill="#2f2f2f"/><rect x="60" y="92" width="10" height="10" fill="#585858"/><rect x="70" y="92" width="10" height="10" fill="#969696"/><rect x="80" y="92" width="10" height="10" fill="#595959"/><rect x="90" y="92" width="10" height="10" fill="#9d9d9d"/><rect x="100" y="92" width="10" height="10" fill="#aeaeae"/><rect x="110" y="92" width="10" height="10" fill="#3d3d3d"/><rect x="120" y="92" width="10" height="10" fill="#838383"/><rect x="130" y="92" width="10" height="10" fill="#373737"/><rect x="140" y="92" width="10" height="10" fill="#e0e0e0"/><rect x="150" y="92" width="10" height="10" fill="#535353"/><rect x="160" y="92" width="10" height="10" fill="#858585"/><rect x="170" y="92" width="10" height="10" fill="#a1a1a1"/><rect x="180" y="92" width="10" height="10" fill="#bbbbbb"/><rect x="190" y="92" width="10" height="10" fill="#9e9e9e"/><rect x="200" y="92" width="10" height="10" fill="#adadad"/><rect x="210" y="92" width="10" height="10" fill="#5b5b5b"/><rect x="220" y="92" width="10" height="10" fill="#727272"/><rect x="230" y="92" width="10" height="10" fill="#9e9e9e"/><rect x="240" y="92" width="10" height="10" fill="#454545"/><rect x="250" y="92" width="10" height="10" fill="#515151"/><rect x="260" y="92" width="10" height="10" fill="#676767"/><rect x="270" y="92" width="30" height="10" fill="#595959"/><rect x="0" y="102" width="30" height="10" fill="#a0a0a0"/><rect x="30" y="102" width="10" height="10" fill="#252525"/><rect x="40" y="102" width="10" height="10" fill="#333333"/><rect x="50" y="102" width="10" height="10" fill="#4b4b4b"/><rect x="60" y="102" width="10" height="10" fill="#434343"/><rect x="70" y="102" width="20" height="10" fill="#4e4e4e"/><rect x="90" y="102" width="10" height="10" fill="#444444"/><rect x="100" y="102" width="10" height="10" fill="#9b9b9b"/><rect x="110" y="102" width="10" height="10" fill="#858585"/><rect x="120" y="102" width="10" height="10" fill="#cdcdcd"/><rect x="130" y="102" width="10" height="10" fill="#b8b8b8"/><rect x="140" y="102" width="10" height="10" fill="#3c3c3c"/><rect x="150" y="102" width="10" height="10" fill="#909090"/><rect x="160" y="102" width="10" height="10" fill="#a3a3a3"/><rect x="170" y="102" width="10" height="10" fill="#ababab"/><rect x="180" y="102" width="10" height="10" fill="#aaaaaa"/><rect x="190" y="102" width="10" height="10" fill="#888888"/><rect x="200" y="102" width="10" height="10" fill="#b4b4b4"/><rect x="210" y="102" width="10" height="10" fill="#cacaca"/><rect x="220" y="102" width="10" height="10" fill="#c8c8c8"/><rect x="230" y="102" width="10" height="10" fill="#afafaf"/><rect x="240" y="102" width="10" height="10" fill="#bcbcbc"/><rect x="250" y="102" width="10" height="10" fill="#d0d0d0"/><rect x="260" y="102" width="10" height="10" fill="#3f3f3f"/><rect x="270" y="102" width="30" height="10" fill="#575757"/><rect x="0" y="112" width="30" height="10" fill="#8a8a8a"/><rect x="30" y="112" width="10" height="10" fill="#b1b1b1"/><rect x="40" y="112" width="10" height="10" fill="#c6c6c6"/><rect x="50" y="112" width="10" height="10" fill="#3e3e3e"/><rect x="60" y="112" width="10" height="10" fill="#383838"/><rect x="70" y="112" width="10" height="10" fill="#454545"/><rect x="80" y="112" width="10" height="10" fill="#606060"/><rect x="90" y="112" width="10" height="10" fill="#909090"/><rect x="100" y="112" width="10" height="10" fill="#afafaf"/><rect x="110" y="112" width="10" height="10" fill="#747474"/><rect x="120" y="112" width="10" height="10" fill="#494949"/><rect x="130" y="112" width="10" height="10" fill="#9e9e9e"/><rect x="140" y="112" width="10" height="10" fill="#c1c1c1"/><rect x="150" y="112" width="10" height="10" fill="#878787"/><rect x="160" y="112" width="10" height="10" fill="#b0b0b0"/><rect x="170" y="112" width="10" height="10" fill="#c3c3c3"/><rect x="180" y="112" width="10" height="10" fill="#dbdbdb"/><rect x="190" y="112" width="10" height="10" fill="#7f7f7f"/><rect x="200" y="112" width="10" height="10" fill="#949494"/><rect x="210" y="112" width="10" height="10" fill="#b2b2b2"/><rect x="220" y="112" width="10" height="10" fill="#aeaeae"/><rect x="230" y="112" width="10" height="10" fill="#989898"/><rect x="240" y="112" width="10" height="10" fill="#999999"/><rect x="250" y="112" width="10" height="10" fill="#989898"/><rect x="260" y="112" width="10" height="10" fill="#afafaf"/><rect x="270" y="112" width="30" height="10" fill="#ababab"/><rect x="0" y="122" width="30" height="10" fill="#b2b2b2"/><rect x="30" y="122" width="10" height="10" fill="#ababab"/><rect x="40" y="122" width="10" height="10" fill="#858585"/><rect x="50" y="122" width="10" height="10" fill="#818181"/><rect x="60" y="122" width="10" height="10" fill="#8f8f8f"/><rect x="70" y="122" width="10" height="10" fill="#b9b9b9"/><rect x="80" y="122" width="10" height="10" fill="#4b4b4b"/><rect x="90" y="122" width="10" height="10" fill="#8e8e8e"/><rect x="100" y="122" width="10" height="10" fill="#9a9a9a"/><rect x="110" y="122" width="10" height="10" fill="#6a6a6a"/><rect x="120" y="122" width="10" height="10" fill="#969696"/><rect x="130" y="122" width="10" height="10" fill="#c6c6c6"/><rect x="140" y="122" width="10" height="10" fill="#c7c7c7"/><rect x="150" y="122" width="10" height="10" fill="#909090"/><rect x="160" y="122" width="10" height="10" fill="#b6b6b6"/><rect x="170" y="122" width="10" height="10" fill="#828282"/><rect x="180" y="122" width="10" height="10" fill="#3c3c3c"/><rect x="190" y="122" width="10" height="10" fill="#545454"/><rect x="200" y="122" width="10" height="10" fill="#5f5f5f"/><rect x="210" y="122" width="10" height="10" fill="#868686"/><rect x="220" y="122" width="10" height="10" fill="#959595"/><rect x="230" y="122" width="10" height="10" fill="#adadad"/><rect x="240" y="122" width="10" height="10" fill="#ababab"/><rect x="250" y="122" width="10" height="10" fill="#9d9d9d"/><rect x="260" y="122" width="10" height="10" fill="#9b9b9b"/><rect x="270" y="122" width="30" height="10" fill="#9e9e9e"/><rect x="0" y="132" width="30" height="10" fill="#b8b8b8"/><rect x="30" y="132" width="10" height="10" fill="#555555"/><rect x="40" y="132" width="10" height="10" fill="#3d3d3d"/><rect x="50" y="132" width="10" height="10" fill="#616161"/><rect x="60" y="132" width="10" height="10" fill="#8c8c8c"/><rect x="70" y="132" width="10" height="10" fill="#535353"/><rect x="80" y="132" width="10" height="10" fill="#595959"/><rect x="90" y="132" width="10" height="10" fill="#787878"/><rect x="100" y="132" width="10" height="10" fill="#7e7e7e"/><rect x="110" y="132" width="10" height="10" fill="#999999"/><rect x="120" y="132" width="10" height="10" fill="#b7b7b7"/><rect x="130" y="132" width="10" height="10" fill="#ababab"/><rect x="140" y="132" width="10" height="10" fill="#8e8e8e"/><rect x="150" y="132" width="10" height="10" fill="#5a5a5a"/><rect x="160" y="132" width="10" height="10" fill="#393939"/><rect x="170" y="132" width="10" height="10" fill="#6e6e6e"/><rect x="180" y="132" width="10" height="10" fill="#949494"/><rect x="190" y="132" width="10" height="10" fill="#878787"/><rect x="200" y="132" width="10" height="10" fill="#858585"/><rect x="210" y="132" width="10" height="10" fill="#6c6c6c"/><rect x="220" y="132" width="10" height="10" fill="#656565"/><rect x="230" y="132" width="10" height="10" fill="#646464"/><rect x="240" y="132" width="10" height="10" fill="#555555"/><rect x="250" y="132" width="10" height="10" fill="#b6b6b6"/><rect x="260" y="132" width="10" height="10" fill="#a9a9a9"/><rect x="270" y="132" width="30" height="10" fill="#9d9d9d"/><rect x="0" y="142" width="30" height="10" fill="#adadad"/><rect x="30" y="142" width="10" height="10" fill="#8b8b8b"/><rect x="40" y="142" width="10" height="10" fill="#898989"/><rect x="50" y="142" width="10" height="10" fill="#202020"/><rect x="60" y="142" width="10" height="10" fill="#373737"/><rect x="70" y="142" width="10" height="10" fill="#2e2e2e"/><rect x="80" y="142" width="10" height="10" fill="#828282"/><rect x="90" y="142" width="10" height="10" fill="#7f7f7f"/><rect x="100" y="142" width="10" height="10" fill="#a8a8a8"/><rect x="110" y="142" width="10" height="10" fill="#7f7f7f"/><rect x="120" y="142" width="10" height="10" fill="#9b9b9b"/><rect x="130" y="142" width="10" height="10" fill="#b4b4b4"/><rect x="140" y="142" width="10" height="10" fill="#8b8b8b"/><rect x="150" y="142" width="10" height="10" fill="#a6a6a6"/><rect x="160" y="142" width="20" height="10" fill="#d1d1d1"/><rect x="180" y="142" width="10" height="10" fill="#7e7e7e"/><rect x="190" y="142" width="10" height="10" fill="#bfbfbf"/><rect x="200" y="142" width="10" height="10" fill="#434343"/><rect x="210" y="142" width="10" height="10" fill="#444444"/><rect x="220" y="142" width="10" height="10" fill="#747474"/><rect x="230" y="142" width="10" height="10" fill="#6d6d6d"/><rect x="240" y="142" width="10" height="10" fill="#707070"/><rect x="250" y="142" width="10" height="10" fill="#636363"/><rect x="260" y="142" width="10" height="10" fill="#565656"/><rect x="270" y="142" width="30" height="10" fill="#b4b4b4"/><rect x="0" y="152" width="30" height="10" fill="#4f4f4f"/><rect x="30" y="152" width="10" height="10" fill="#727272"/><rect x="40" y="152" width="10" height="10" fill="#949494"/><rect x="50" y="152" width="10" height="10" fill="#d3d3d3"/><rect x="60" y="152" width="10" height="10" fill="#7b7b7b"/><rect x="70" y="152" width="10" height="10" fill="#858585"/><rect x="80" y="152" width="10" height="10" fill="#a0a0a0"/><rect x="90" y="152" width="10" height="10" fill="#b2b2b2"/><rect x="100" y="152" width="10" height="10" fill="#4b4b4b"/><rect x="110" y="152" width="10" height="10" fill="#626262"/><rect x="120" y="152" width="10" height="10" fill="#b7b7b7"/><rect x="130" y="152" width="10" height="10" fill="#b4b4b4"/><rect x="140" y="152" width="10" height="10" fill="#929292"/><rect x="150" y="152" width="10" height="10" fill="#b1b1b1"/><rect x="160" y="152" width="10" height="10" fill="#b8b8b8"/><rect x="170" y="152" width="10" height="10" fill="#a8a8a8"/><rect x="180" y="152" width="10" height="10" fill="#bababa"/><rect x="190" y="152" width="10" height="10" fill="#6c6c6c"/><rect x="200" y="152" width="10" height="10" fill="#a3a3a3"/><rect x="210" y="152" width="10" height="10" fill="#6c6c6c"/><rect x="220" y="152" width="10" height="10" fill="#6d6d6d"/><rect x="230" y="152" width="20" height="10" fill="#6c6c6c"/><rect x="250" y="152" width="10" height="10" fill="#6e6e6e"/><rect x="260" y="152" width="10" height="10" fill="#707070"/><rect x="270" y="152" width="30" height="10" fill="#616161"/><rect x="0" y="162" width="30" height="10" fill="#5d5d5d"/><rect x="30" y="162" width="10" height="10" fill="#999999"/><rect x="40" y="162" width="10" height="10" fill="#828282"/><rect x="50" y="162" width="10" height="10" fill="#b2b2b2"/><rect x="60" y="162" width="10" height="10" fill="#5b5b5b"/><rect x="70" y="162" width="10" height="10" fill="#646464"/><rect x="80" y="162" width="10" height="10" fill="#505050"/><rect x="90" y="162" width="10" height="10" fill="#a5a5a5"/><rect x="100" y="162" width="10" height="10" fill="#c3c3c3"/><rect x="110" y="162" width="10" height="10" fill="#424242"/><rect x="120" y="162" width="10" height="10" fill="#d6d6d6"/><rect x="130" y="162" width="10" height="10" fill="#919191"/><rect x="140" y="162" width="10" height="10" fill="#545454"/><rect x="150" y="162" width="10" height="10" fill="#aaaaaa"/><rect x="160" y="162" width="10" height="10" fill="#c8c8c8"/><rect x="170" y="162" width="10" height="10" fill="#858585"/><rect x="180" y="162" width="10" height="10" fill="#c1c1c1"/><rect x="190" y="162" width="10" height="10" fill="#b5b5b5"/><rect x="200" y="162" width="10" height="10" fill="#3c3c3c"/><rect x="210" y="162" width="10" height="10" fill="#6d6d6d"/><rect x="220" y="162" width="10" height="10" fill="#666666"/><rect x="230" y="162" width="10" height="10" fill="#6e6e6e"/><rect x="240" y="162" width="10" height="10" fill="#6d6d6d"/><rect x="250" y="162" width="20" height="10" fill="#6c6c6c"/><rect x="270" y="162" width="30" height="10" fill="#6e6e6e"/><rect x="0" y="172" width="30" height="10" fill="#4f4f4f"/><rect x="30" y="172" width="10" height="10" fill="#474747"/><rect x="40" y="172" width="10" height="10" fill="#e6e6e6"/><rect x="50" y="172" width="10" height="10" fill="#595959"/><rect x="60" y="172" width="10" height="10" fill="#757575"/><rect x="70" y="172" width="10" height="10" fill="#a1a1a1"/><rect x="80" y="172" width="10" height="10" fill="#9b9b9b"/><rect x="90" y="172" width="10" height="10" fill="#a8a8a8"/><rect x="100" y="172" width="10" height="10" fill="#7a7a7a"/><rect x="110" y="172" width="10" height="10" fill="#393939"/><rect x="120" y="172" width="10" height="10" fill="#3d3d3d"/><rect x="130" y="172" width="10" height="10" fill="#868686"/><rect x="140" y="172" width="10" height="10" fill="#696969"/><rect x="150" y="172" width="10" height="10" fill="#707070"/><rect x="160" y="172" width="10" height="10" fill="#b6b6b6"/><rect x="170" y="172" width="10" height="10" fill="#676767"/><rect x="180" y="172" width="10" height="10" fill="#525252"/><rect x="190" y="172" width="10" height="10" fill="#969696"/><rect x="200" y="172" width="10" height="10" fill="#8f8f8f"/><rect x="210" y="172" width="10" height="10" fill="#898989"/><rect x="220" y="172" width="10" height="10" fill="#919191"/><rect x="230" y="172" width="10" height="10" fill="#616161"/><rect x="240" y="172" width="10" height="10" fill="#686868"/><rect x="250" y="172" width="10" height="10" fill="#6e6e6e"/><rect x="260" y="172" width="10" height="10" fill="#6d6d6d"/><rect x="270" y="172" width="30" height="10" fill="#6c6c6c"/><rect x="0" y="182" width="30" height="10" fill="#616161"/><rect x="30" y="182" width="10" height="10" fill="#575757"/><rect x="40" y="182" width="10" height="10" fill="#242424"/><rect x="50" y="182" width="10" height="10" fill="#b1b1b1"/><rect x="60" y="182" width="10" height="10" fill="#9a9a9a"/><rect x="70" y="182" width="10" height="10" fill="#8c8c8c"/><rect x="80" y="182" width="10" height="10" fill="#7a7a7a"/><rect x="90" y="182" width="10" height="10" fill="#a6a6a6"/><rect x="100" y="182" width="10" height="10" fill="#3d3d3d"/><rect x="110" y="182" width="10" height="10" fill="#494949"/><rect x="120" y="182" width="10" height="10" fill="#3f3f3f"/><rect x="130" y="182" width="10" height="10" fill="#5c5c5c"/><rect x="140" y="182" width="10" height="10" fill="#727272"/><rect x="150" y="182" width="10" height="10" fill="#565656"/><rect x="160" y="182" width="10" height="10" fill="#555555"/><rect x="170" y="182" width="10" height="10" fill="#b8b8b8"/><rect x="180" y="182" width="10" height="10" fill="#7a7a7a"/><rect x="190" y="182" width="10" height="10" fill="#afafaf"/><rect x="200" y="182" width="10" height="10" fill="#777777"/><rect x="210" y="182" width="10" height="10" fill="#888888"/><rect x="220" y="182" width="10" height="10" fill="#848484"/><rect x="230" y="182" width="10" height="10" fill="#8b8b8b"/><rect x="240" y="182" width="10" height="10" fill="#919191"/><rect x="250" y="182" width="10" height="10" fill="#616161"/><rect x="260" y="182" width="10" height="10" fill="#686868"/><rect x="270" y="182" width="30" height="10" fill="#6e6e6e"/><rect x="0" y="192" width="30" height="10" fill="#797979"/><rect x="30" y="192" width="10" height="10" fill="#414141"/><rect x="40" y="192" width="10" height="10" fill="#8d8d8d"/><rect x="50" y="192" width="10" height="10" fill="#6c6c6c"/><rect x="60" y="192" width="10" height="10" fill="#6e6e6e"/><rect x="70" y="192" width="10" height="10" fill="#c9c9c9"/><rect x="80" y="192" width="10" height="10" fill="#818181"/><rect x="90" y="192" width="10" height="10" fill="#797979"/><rect x="100" y="192" width="10" height="10" fill="#626262"/><rect x="110" y="192" width="10" height="10" fill="#414141"/><rect x="120" y="192" width="10" height="10" fill="#575757"/><rect x="130" y="192" width="10" height="10" fill="#606060"/><rect x="140" y="192" width="10" height="10" fill="#6e6e6e"/><rect x="150" y="192" width="10" height="10" fill="#6f6f6f"/><rect x="160" y="192" width="10" height="10" fill="#767676"/><rect x="170" y="192" width="10" height="10" fill="#b8b8b8"/><rect x="180" y="192" width="10" height="10" fill="#a1a1a1"/><rect x="190" y="192" width="10" height="10" fill="#9d9d9d"/><rect x="200" y="192" width="10" height="10" fill="#acacac"/><rect x="210" y="192" width="10" height="10" fill="#797979"/><rect x="220" y="192" width="10" height="10" fill="#898989"/><rect x="230" y="192" width="10" height="10" fill="#858585"/><rect x="240" y="192" width="10" height="10" fill="#848484"/><rect x="250" y="192" width="10" height="10" fill="#8b8b8b"/><rect x="260" y="192" width="10" height="10" fill="#919191"/><rect x="270" y="192" width="30" height="10" fill="#626262"/><rect x="0" y="202" width="30" height="10" fill="#4e4e4e"/><rect x="30" y="202" width="10" height="10" fill="#616161"/><rect x="40" y="202" width="10" height="10" fill="#8d8d8d"/><rect x="50" y="202" width="10" height="10" fill="#999999"/><rect x="60" y="202" width="10" height="10" fill="#454545"/><rect x="70" y="202" width="10" height="10" fill="#9c9c9c"/><rect x="80" y="202" width="10" height="10" fill="#737373"/><rect x="90" y="202" width="10" height="10" fill="#676767"/><rect x="100" y="202" width="10" height="10" fill="#797979"/><rect x="110" y="202" width="10" height="10" fill="#333333"/><rect x="120" y="202" width="10" height="10" fill="#555555"/><rect x="130" y="202" width="10" height="10" fill="#5f5f5f"/><rect x="140" y="202" width="10" height="10" fill="#6f6f6f"/><rect x="150" y="202" width="10" height="10" fill="#6b6b6b"/><rect x="160" y="202" width="10" height="10" fill="#717171"/><rect x="170" y="202" width="10" height="10" fill="#b8b8b8"/><rect x="180" y="202" width="10" height="10" fill="#9b9b9b"/><rect x="190" y="202" width="10" height="10" fill="#a1a1a1"/><rect x="200" y="202" width="10" height="10" fill="#9c9c9c"/><rect x="210" y="202" width="10" height="10" fill="#acacac"/><rect x="220" y="202" width="10" height="10" fill="#7a7a7a"/><rect x="230" y="202" width="10" height="10" fill="#888888"/><rect x="240" y="202" width="10" height="10" fill="#868686"/><rect x="250" y="202" width="10" height="10" fill="#858585"/><rect x="260" y="202" width="10" height="10" fill="#848484"/><rect x="270" y="202" width="30" height="10" fill="#8c8c8c"/><rect x="0" y="212" width="30" height="30" fill="#444444"/><rect x="30" y="212" width="10" height="30" fill="#4b4b4b"/><rect x="40" y="212" width="10" height="30" fill="#818181"/><rect x="50" y="212" width="10" height="30" fill="#646464"/><rect x="60" y="212" width="10" height="30" fill="#696969"/><rect x="70" y="212" width="10" height="30" fill="#9f9f9f"/><rect x="80" y="212" width="10" height="30" fill="#767676"/><rect x="90" y="212" width="10" height="30" fill="#6c6c6c"/><rect x="100" y="212" width="10" height="30" fill="#6a6a6a"/><rect x="110" y="212" width="10" height="30" fill="#7a7a7a"/><rect x="120" y="212" width="10" height="30" fill="#4b4b4b"/><rect x="130" y="212" width="10" height="30" fill="#616161"/><rect x="140" y="212" width="10" height="30" fill="#6e6e6e"/><rect x="150" y="212" width="10" height="30" fill="#6b6b6b"/><rect x="160" y="212" width="10" height="30" fill="#727272"/><rect x="170" y="212" width="10" height="30" fill="#b8b8b8"/><rect x="180" y="212" width="10" height="30" fill="#9c9c9c"/><rect x="190" y="212" width="20" height="30" fill="#a0a0a0"/><rect x="210" y="212" width="10" height="30" fill="#9d9d9d"/><rect x="220" y="212" width="10" height="30" fill="#aaaaaa"/><rect x="230" y="212" width="10" height="30" fill="#808080"/><rect x="240" y="212" width="10" height="30" fill="#878787"/><rect x="250" y="212" width="20" height="30" fill="#868686"/><rect x="270" y="212" width="30" height="30" fill="#858585"/></g></g><g fill="#000"><path d="M97.6 81.6L99.3 78.6L101.0 81.6z"/><path d="M145.2 99.1L146.8 96.1L148.5 99.1z"/><path d="M127.8 107.6L129.5 104.6L131.2 107.6z"/><path d="M117.0 112.5L118.7 109.5L120.4 112.5z"/><path d="M134.0 112.5L135.7 109.5L137.3 112.5z"/><path d="M153.0 45.9L154.7 43.0L156.3 45.9z"/><path d="M246.0 30.0L247.7 27.1L249.3 30.0z"/><path d="M250.8 29.4L252.5 26.5L254.2 29.4z"/><path d="M257.5 35.1L259.1 32.1L260.8 35.1z"/><path d="M260.4 48.8L262.0 45.9L263.6 48.8z"/><path d="M195.8 60.7L197.4 57.8L199.1 60.7z"/><path d="M217.2 61.7L218.9 58.8L220.6 61.7z"/><path d="M247.0 66.1L248.7 63.1L250.3 66.1z"/><path d="M244.2 68.3L245.8 65.3L247.5 68.3z"/><path d="M171.4 76.5L173.1 73.5L174.8 76.5z"/><path d="M192.5 79.1L194.2 76.1L195.8 79.1z"/><path d="M183.4 93.0L185.1 90.0L186.8 93.0z"/><path d="M190.4 94.5L192.1 91.5L193.8 94.5z"/><path d="M207.2 93.6L208.8 90.6L210.5 93.6z"/><path d="M200.5 96.8L202.2 93.8L203.8 96.8z"/><path d="M178.2 98.7L179.8 95.8L181.5 98.7z"/><path d="M177.8 101.0L179.4 98.0L181.1 101.0z"/><path d="M163.2 100.0L164.8 97.0L166.5 100.0z"/><path d="M231.8 105.7L233.5 102.8L235.2 105.7z"/><path d="M235.2 103.4L236.9 100.4L238.6 103.4z"/><path d="M217.7 106.7L219.3 103.8L221.0 106.7z"/><path d="M221.3 107.6L223.0 104.6L224.7 107.6z"/><path d="M185.3 107.3L187.0 104.3L188.7 107.3z"/><path d="M187.2 108.2L188.9 105.2L190.6 108.2z"/><path d="M171.2 111.3L172.8 108.3L174.5 111.3z"/><path d="M178.3 112.3L180.0 109.3L181.7 112.3z"/><path d="M188.3 112.8L190.0 109.8L191.7 112.8z"/><path d="M214.8 112.0L216.4 109.0L218.1 112.0z"/><path d="M228.0 111.0L229.7 108.0L231.3 111.0z"/><path d="M107.5 114.3L109.2 111.3L110.9 114.3z"/><path d="M117.0 113.9L118.7 110.9L120.4 113.9z"/><path d="M134.0 113.9L135.7 110.9L137.3 113.9z"/><path d="M100.8 122.8L102.5 119.8L104.2 122.8z"/><path d="M100.3 125.6L102.0 122.6L103.7 125.6z"/><path d="M112.2 123.2L113.9 120.2L115.6 123.2z"/><path d="M139.8 126.2L141.4 123.2L143.1 126.2z"/><path d="M143.5 125.6L145.2 122.6L146.8 125.6z"/><path d="M142.7 127.0L144.3 124.0L146.0 127.0z"/><path d="M135.0 132.7L136.7 129.8L138.3 132.7z"/><path d="M34.0 131.7L35.6 128.8L37.2 131.7z"/><path d="M37.4 130.8L39.0 127.8L40.6 130.8z"/><path d="M24.1 136.1L25.7 133.2L27.3 136.1z"/><path d="M26.4 135.7L28.0 132.8L29.6 135.7z"/><path d="M27.9 135.3L29.5 132.3L31.1 135.3z"/><path d="M25.0 139.9L26.6 136.9L28.2 139.9z"/><path d="M26.0 140.3L27.6 137.3L29.2 140.3z"/><path d="M72.4 135.1L74.1 132.2L75.8 135.1z"/><path d="M95.2 142.1L96.9 139.2L98.6 142.1z"/><path d="M38.6 149.3L40.3 146.3L41.9 149.3z"/><path d="M103.8 149.7L105.4 146.8L107.1 149.7z"/><path d="M129.3 147.8L131.0 144.8L132.7 147.8z"/><path d="M52.6 160.7L54.2 157.8L55.9 160.7z"/><path d="M51.0 163.0L52.6 160.0L54.2 163.0z"/><path d="M53.5 163.6L55.1 160.7L56.8 163.6z"/><path d="M54.5 164.2L56.1 161.2L57.8 164.2z"/><path d="M55.4 169.8L57.0 166.8L58.6 169.8z"/><path d="M33.1 168.9L34.8 165.9L36.4 168.9z"/><path d="M126.5 173.6L128.2 170.7L129.8 173.6z"/><path d="M46.9 175.9L48.5 172.9L50.1 175.9z"/><path d="M45.9 177.8L47.5 174.8L49.1 177.8z"/><path d="M49.6 178.4L51.3 175.4L52.9 178.4z"/><path d="M45.5 179.3L47.1 176.3L48.8 179.3z"/><path d="M58.1 190.2L59.8 187.2L61.4 190.2z"/><path d="M75.2 200.6L76.9 197.7L78.6 200.6z"/><path d="M77.1 202.9L78.8 199.9L80.5 202.9z"/><path d="M161.7 113.9L163.3 110.9L165.0 113.9z"/><path d="M171.2 114.3L172.8 111.3L174.5 114.3z"/><path d="M174.9 115.2L176.6 112.2L178.2 115.2z"/><path d="M170.3 117.3L172.0 114.3L173.7 117.3z"/><path d="M173.3 119.3L175.0 116.3L176.7 119.3z"/><path d="M176.3 118.3L178.0 115.3L179.7 118.3z"/><path d="M179.3 117.3L181.0 114.3L182.7 117.3z"/><path d="M182.3 116.3L184.0 113.3L185.7 116.3z"/><path d="M185.3 115.3L187.0 112.3L188.7 115.3z"/><path d="M188.3 114.3L190.0 111.3L191.7 114.3z"/><path d="M174.3 121.3L176.0 118.3L177.7 121.3z"/><path d="M178.3 121.3L180.0 118.3L181.7 121.3z"/><path d="M182.3 119.3L184.0 116.3L185.7 119.3z"/><path d="M166.3 126.2L168.0 123.2L169.7 126.2z"/><path d="M178.8 123.7L180.4 120.8L182.1 123.7z"/><path d="M217.7 120.5L219.3 117.5L221.0 120.5z"/><path d="M209.0 113.9L210.7 110.9L212.3 113.9z"/><path d="M226.2 113.3L227.8 110.3L229.5 113.3z"/><path d="M177.8 143.7L179.4 140.8L181.1 143.7z"/><path d="M175.8 147.8L177.5 144.8L179.2 147.8z"/><path d="M176.8 150.3L178.5 147.3L180.2 150.3z"/><path d="M176.4 152.2L178.1 149.2L179.8 152.2z"/><path d="M188.2 148.8L189.8 145.8L191.5 148.8z"/><path d="M171.2 151.3L172.8 148.3L174.5 151.3z"/><path d="M173.0 153.1L174.7 150.2L176.3 153.1z"/><path d="M173.9 155.0L175.6 152.0L177.2 155.0z"/><path d="M172.0 154.1L173.7 151.2L175.3 154.1z"/><path d="M156.8 153.5L158.5 150.5L160.2 153.5z"/><path d="M162.5 153.5L164.2 150.5L165.8 153.5z"/><path d="M156.8 157.3L158.5 154.3L160.2 157.3z"/><path d="M164.4 158.8L166.1 155.8L167.8 158.8z"/><path d="M168.2 158.3L169.9 155.3L171.6 158.3z"/><path d="M170.8 157.9L172.4 154.9L174.1 157.9z"/><path d="M204.3 157.3L206.0 154.3L207.7 157.3z"/><path d="M205.2 157.9L206.9 154.9L208.6 157.9z"/><path d="M182.2 164.5L183.8 161.5L185.5 164.5z"/><path d="M195.3 167.3L197.0 164.3L198.7 167.3z"/><path d="M195.8 169.7L197.4 166.8L199.1 169.7z"/><path d="M163.9 169.8L165.6 166.8L167.2 169.8z"/><path d="M178.2 182.6L179.8 179.7L181.5 182.6z"/><path d="M174.9 200.0L176.6 197.0L178.2 200.0z"/><path d="M251.8 23.4L254.4 18.7L257.0 23.4z"/></g><rect x="8.5" y="7.5" width="322" height="219.5" fill="none" stroke="#595959" stroke-width="1"/><g stroke="#333" stroke-width="0.8"><path d="M32.7 7.5v-2M119.2 7.5v-2M206 7.5v-2M292.5 7.5v-2M34.4 226.8v-1.8M122.2 226.8v-1.8M213.8 226.8v-1.8M303.5 226.8v-1.8M8.5 96.5h-1.8M8.5 197.5h-1.8M330.5 88h-1.8M330.5 187h-1.8"/></g><g class="ax"><text x="19.8" y="6.5" textLength="34.6" lengthAdjust="spacingAndGlyphs">111°0'0"E</text><text x="107.2" y="6.5" textLength="34.6" lengthAdjust="spacingAndGlyphs">113°0'0"E</text><text x="194.9" y="6.5" textLength="34.6" lengthAdjust="spacingAndGlyphs">115°0'0"E</text><text x="282.7" y="6.5" textLength="34.6" lengthAdjust="spacingAndGlyphs">117°0'0"E</text><text x="15.1" y="236.0" textLength="34.7" lengthAdjust="spacingAndGlyphs">111°0'0"E</text><text x="106.0" y="236.0" textLength="34.7" lengthAdjust="spacingAndGlyphs">113°0'0"E</text><text x="197.0" y="236.0" textLength="34.7" lengthAdjust="spacingAndGlyphs">115°0'0"E</text><text x="288.8" y="236.0" textLength="34.7" lengthAdjust="spacingAndGlyphs">117°0'0"E</text><text transform="translate(6.9,105.6) rotate(-90)" textLength="31.5" lengthAdjust="spacingAndGlyphs">26°0'0"N</text><text transform="translate(6.9,203.6) rotate(-90)" textLength="31.5" lengthAdjust="spacingAndGlyphs">24°0'0"N</text><text transform="translate(332.1,70.8) rotate(90)" textLength="31.8" lengthAdjust="spacingAndGlyphs">26°0'0"N</text><text transform="translate(332.1,170.3) rotate(90)" textLength="31.8" lengthAdjust="spacingAndGlyphs">24°0'0"N</text></g><text class="n" x="20.4" y="22.2">N</text><path d="M23.8 24.6L16.2 48.8L23.8 39.6z" fill="#000"/><path d="M23.7 25.5L30.7 47.8L23.7 39.6z" fill="#fff" stroke="#000" stroke-width="0.8" stroke-linejoin="miter"/><text class="lt" y="20.8"><tspan x="307.0" y="20.8" font-size="9.9">(</tspan><tspan x="311.5" y="20.8">b</tspan><tspan x="317.3" y="20.8" font-size="9.9">)</tspan></text><rect x="120.7" y="219.6" width="54.3" height="3.2" fill="#fff" stroke="#000" stroke-width="0.6"/><rect x="120.7" y="219.6" width="27" height="3.2" fill="#000"/><g class="sb"><text x="121" y="217" text-anchor="middle">0</text><text x="147.6" y="217" text-anchor="middle">60</text><text x="174.6" y="217" text-anchor="middle">120</text><text x="178.6" y="225.2">km</text></g><path d="M256.3 109.5L259.6 104.2L262.9 109.5z" fill="#000"/><text class="lg w" x="270.7" y="108.9"><tspan textLength="5.6" lengthAdjust="spacingAndGlyphs">W</tspan> <tspan x="279.8" textLength="19.8" lengthAdjust="spacingAndGlyphs">deposit</tspan></text><rect x="251.4" y="112.30" width="16.2" height="7.9" fill="rgb(0,0,255)" stroke="#8a8a8a" stroke-width="0.5"/><text class="lg" y="118.80"><tspan x="270.2">0.</tspan> <tspan x="277.8" textLength="9.3" lengthAdjust="spacingAndGlyphs">039</tspan> <tspan x="290.9">-</tspan> <tspan x="296.8">0.</tspan> <tspan x="304.4" textLength="9.3" lengthAdjust="spacingAndGlyphs">146</tspan></text><rect x="251.4" y="123.05" width="16.2" height="7.9" fill="rgb(51,87,255)" stroke="#8a8a8a" stroke-width="0.5"/><text class="lg" y="129.55"><tspan x="270.2">0.</tspan> <tspan x="277.8" textLength="9.3" lengthAdjust="spacingAndGlyphs">147</tspan> <tspan x="290.9">-</tspan> <tspan x="296.8">0.</tspan> <tspan x="304.4" textLength="9.3" lengthAdjust="spacingAndGlyphs">198</tspan></text><rect x="251.4" y="133.80" width="16.2" height="7.9" fill="rgb(56,163,255)" stroke="#8a8a8a" stroke-width="0.5"/><text class="lg" y="140.30"><tspan x="270.2">0.</tspan> <tspan x="277.8" textLength="9.3" lengthAdjust="spacingAndGlyphs">199</tspan> <tspan x="290.9">-</tspan> <tspan x="296.8">0.</tspan> <tspan x="304.4" textLength="9.3" lengthAdjust="spacingAndGlyphs">244</tspan></text><rect x="251.4" y="144.55" width="16.2" height="7.9" fill="rgb(0,255,255)" stroke="#8a8a8a" stroke-width="0.5"/><text class="lg" y="151.05"><tspan x="270.2">0.</tspan> <tspan x="277.8" textLength="9.3" lengthAdjust="spacingAndGlyphs">245</tspan> <tspan x="290.9">-</tspan> <tspan x="296.8">0.</tspan> <tspan x="304.4" textLength="9.3" lengthAdjust="spacingAndGlyphs">293</tspan></text><rect x="251.4" y="155.30" width="16.2" height="7.9" fill="rgb(145,255,180)" stroke="#8a8a8a" stroke-width="0.5"/><text class="lg" y="161.80"><tspan x="270.2">0.</tspan> <tspan x="277.8" textLength="9.3" lengthAdjust="spacingAndGlyphs">294</tspan> <tspan x="290.9">-</tspan> <tspan x="296.8">0.</tspan> <tspan x="304.4" textLength="9.3" lengthAdjust="spacingAndGlyphs">349</tspan></text><rect x="251.4" y="166.05" width="16.2" height="7.9" fill="rgb(209,255,105)" stroke="#8a8a8a" stroke-width="0.5"/><text class="lg" y="172.55"><tspan x="270.2">0.</tspan> <tspan x="277.8" textLength="9.3" lengthAdjust="spacingAndGlyphs">350</tspan> <tspan x="290.9">-</tspan> <tspan x="296.8">0.</tspan> <tspan x="304.4" textLength="9.3" lengthAdjust="spacingAndGlyphs">413</tspan></text><rect x="251.4" y="176.80" width="16.2" height="7.9" fill="rgb(255,255,0)" stroke="#8a8a8a" stroke-width="0.5"/><text class="lg" y="183.30"><tspan x="270.2">0.</tspan> <tspan x="277.8" textLength="9.3" lengthAdjust="spacingAndGlyphs">414</tspan> <tspan x="290.9">-</tspan> <tspan x="296.8">0.</tspan> <tspan x="304.4" textLength="9.3" lengthAdjust="spacingAndGlyphs">497</tspan></text><rect x="251.4" y="187.55" width="16.2" height="7.9" fill="rgb(255,183,0)" stroke="#8a8a8a" stroke-width="0.5"/><text class="lg" y="194.05"><tspan x="270.2">0.</tspan> <tspan x="277.8" textLength="9.3" lengthAdjust="spacingAndGlyphs">498</tspan> <tspan x="290.9">-</tspan> <tspan x="296.8">0.</tspan> <tspan x="304.4" textLength="9.3" lengthAdjust="spacingAndGlyphs">627</tspan></text><rect x="251.4" y="198.30" width="16.2" height="7.9" fill="rgb(255,111,0)" stroke="#8a8a8a" stroke-width="0.5"/><text class="lg" y="204.80"><tspan x="270.2">0.</tspan> <tspan x="277.8" textLength="9.3" lengthAdjust="spacingAndGlyphs">628</tspan> <tspan x="290.9">-</tspan> <tspan x="296.8">0.</tspan> <tspan x="304.4" textLength="9.3" lengthAdjust="spacingAndGlyphs">874</tspan></text><rect x="251.4" y="209.05" width="16.2" height="7.9" fill="rgb(255,0,0)" stroke="#8a8a8a" stroke-width="0.5"/><text class="lg" y="215.55"><tspan x="271.7">0.</tspan> <tspan x="279.3" textLength="9.3" lengthAdjust="spacingAndGlyphs">875</tspan> <tspan x="292.4">-</tspan> <tspan x="298.3">2.</tspan> <tspan x="305.9" textLength="9.3" lengthAdjust="spacingAndGlyphs">337</tspan></text></g><g transform="translate(0,242)"><g clip-path="url(#reg)"><g filter="url(#hmc)"><rect x="0" y="-8" width="30" height="30" fill="#9e9e9e"/><rect x="30" y="-8" width="10" height="30" fill="#a8a8a8"/><rect x="40" y="-8" width="10" height="30" fill="#6a6a6a"/><rect x="50" y="-8" width="10" height="30" fill="#7b7b7b"/><rect x="60" y="-8" width="10" height="30" fill="#7d7d7d"/><rect x="70" y="-8" width="10" height="30" fill="#5c5c5c"/><rect x="80" y="-8" width="30" height="30" fill="#606060"/><rect x="110" y="-8" width="10" height="30" fill="#5f5f5f"/><rect x="120" y="-8" width="10" height="30" fill="#626262"/><rect x="130" y="-8" width="10" height="30" fill="#4e4e4e"/><rect x="140" y="-8" width="10" height="30" fill="#545454"/><rect x="150" y="-8" width="10" height="30" fill="#505050"/><rect x="160" y="-8" width="10" height="30" fill="#606060"/><rect x="170" y="-8" width="10" height="30" fill="#6e6e6e"/><rect x="180" y="-8" width="10" height="30" fill="#6d6d6d"/><rect x="190" y="-8" width="10" height="30" fill="#6a6a6a"/><rect x="200" y="-8" width="10" height="30" fill="#7b7b7b"/><rect x="210" y="-8" width="10" height="30" fill="#777777"/><rect x="220" y="-8" width="10" height="30" fill="#838383"/><rect x="230" y="-8" width="10" height="30" fill="#aaaaaa"/><rect x="240" y="-8" width="10" height="30" fill="#9b9b9b"/><rect x="250" y="-8" width="10" height="30" fill="#9f9f9f"/><rect x="260" y="-8" width="10" height="30" fill="#949494"/><rect x="270" y="-8" width="30" height="30" fill="#828282"/><rect x="0" y="22" width="30" height="10" fill="#a0a0a0"/><rect x="30" y="22" width="10" height="10" fill="#9d9d9d"/><rect x="40" y="22" width="10" height="10" fill="#b0b0b0"/><rect x="50" y="22" width="10" height="10" fill="#717171"/><rect x="60" y="22" width="10" height="10" fill="#808080"/><rect x="70" y="22" width="10" height="10" fill="#545454"/><rect x="80" y="22" width="10" height="10" fill="#616161"/><rect x="90" y="22" width="10" height="10" fill="#5f5f5f"/><rect x="100" y="22" width="20" height="10" fill="#606060"/><rect x="120" y="22" width="10" height="10" fill="#5f5f5f"/><rect x="130" y="22" width="10" height="10" fill="#656565"/><rect x="140" y="22" width="10" height="10" fill="#535353"/><rect x="150" y="22" width="10" height="10" fill="#545454"/><rect x="160" y="22" width="10" height="10" fill="#5f5f5f"/><rect x="170" y="22" width="10" height="10" fill="#6f6f6f"/><rect x="180" y="22" width="10" height="10" fill="#696969"/><rect x="190" y="22" width="10" height="10" fill="#676767"/><rect x="200" y="22" width="10" height="10" fill="#808080"/><rect x="210" y="22" width="10" height="10" fill="#797979"/><rect x="220" y="22" width="10" height="10" fill="#8b8b8b"/><rect x="230" y="22" width="10" height="10" fill="#757575"/><rect x="240" y="22" width="20" height="10" fill="#b6b6b6"/><rect x="260" y="22" width="10" height="10" fill="#898989"/><rect x="270" y="22" width="30" height="10" fill="#979797"/><rect x="0" y="32" width="30" height="10" fill="#a0a0a0"/><rect x="30" y="32" width="10" height="10" fill="#9e9e9e"/><rect x="40" y="32" width="10" height="10" fill="#a7a7a7"/><rect x="50" y="32" width="10" height="10" fill="#686868"/><rect x="60" y="32" width="10" height="10" fill="#7a7a7a"/><rect x="70" y="32" width="10" height="10" fill="#848484"/><rect x="80" y="32" width="10" height="10" fill="#5b5b5b"/><rect x="90" y="32" width="30" height="10" fill="#606060"/><rect x="120" y="32" width="10" height="10" fill="#5f5f5f"/><rect x="130" y="32" width="10" height="10" fill="#646464"/><rect x="140" y="32" width="10" height="10" fill="#404040"/><rect x="150" y="32" width="10" height="10" fill="#424242"/><rect x="160" y="32" width="10" height="10" fill="#646464"/><rect x="170" y="32" width="10" height="10" fill="#6b6b6b"/><rect x="180" y="32" width="10" height="10" fill="#818181"/><rect x="190" y="32" width="10" height="10" fill="#7f7f7f"/><rect x="200" y="32" width="10" height="10" fill="#616161"/><rect x="210" y="32" width="10" height="10" fill="#656565"/><rect x="220" y="32" width="10" height="10" fill="#878787"/><rect x="230" y="32" width="10" height="10" fill="#909090"/><rect x="240" y="32" width="10" height="10" fill="#b3b3b3"/><rect x="250" y="32" width="10" height="10" fill="#979797"/><rect x="260" y="32" width="10" height="10" fill="#a7a7a7"/><rect x="270" y="32" width="30" height="10" fill="#8d8d8d"/><rect x="0" y="42" width="30" height="10" fill="#9d9d9d"/><rect x="30" y="42" width="10" height="10" fill="#a1a1a1"/><rect x="40" y="42" width="10" height="10" fill="#9d9d9d"/><rect x="50" y="42" width="10" height="10" fill="#b0b0b0"/><rect x="60" y="42" width="10" height="10" fill="#717171"/><rect x="70" y="42" width="10" height="10" fill="#7f7f7f"/><rect x="80" y="42" width="10" height="10" fill="#545454"/><rect x="90" y="42" width="10" height="10" fill="#616161"/><rect x="100" y="42" width="10" height="10" fill="#5f5f5f"/><rect x="110" y="42" width="10" height="10" fill="#606060"/><rect x="120" y="42" width="10" height="10" fill="#636363"/><rect x="130" y="42" width="10" height="10" fill="#525252"/><rect x="140" y="42" width="10" height="10" fill="#bbbbbb"/><rect x="150" y="42" width="10" height="10" fill="#b3b3b3"/><rect x="160" y="42" width="10" height="10" fill="#484848"/><rect x="170" y="42" width="10" height="10" fill="#737373"/><rect x="180" y="42" width="10" height="10" fill="#666666"/><rect x="190" y="42" width="10" height="10" fill="#777777"/><rect x="200" y="42" width="10" height="10" fill="#929292"/><rect x="210" y="42" width="10" height="10" fill="#6f6f6f"/><rect x="220" y="42" width="10" height="10" fill="#939393"/><rect x="230" y="42" width="10" height="10" fill="#a2a2a2"/><rect x="240" y="42" width="10" height="10" fill="#afafaf"/><rect x="250" y="42" width="10" height="10" fill="#a0a0a0"/><rect x="260" y="42" width="10" height="10" fill="#9d9d9d"/><rect x="270" y="42" width="30" height="10" fill="#a2a2a2"/><rect x="0" y="52" width="30" height="10" fill="#b1b1b1"/><rect x="30" y="52" width="10" height="10" fill="#9a9a9a"/><rect x="40" y="52" width="10" height="10" fill="#9f9f9f"/><rect x="50" y="52" width="10" height="10" fill="#a6a6a6"/><rect x="60" y="52" width="10" height="10" fill="#686868"/><rect x="70" y="52" width="10" height="10" fill="#7a7a7a"/><rect x="80" y="52" width="10" height="10" fill="#848484"/><rect x="90" y="52" width="10" height="10" fill="#5a5a5a"/><rect x="100" y="52" width="10" height="10" fill="#616161"/><rect x="110" y="52" width="10" height="10" fill="#5d5d5d"/><rect x="120" y="52" width="10" height="10" fill="#575757"/><rect x="130" y="52" width="10" height="10" fill="#505050"/><rect x="140" y="52" width="10" height="10" fill="#a3a3a3"/><rect x="150" y="52" width="10" height="10" fill="#d7d7d7"/><rect x="160" y="52" width="10" height="10" fill="#797979"/><rect x="170" y="52" width="20" height="10" fill="#6c6c6c"/><rect x="190" y="52" width="10" height="10" fill="#7f7f7f"/><rect x="200" y="52" width="10" height="10" fill="#878787"/><rect x="210" y="52" width="10" height="10" fill="#959595"/><rect x="220" y="52" width="10" height="10" fill="#b8b8b8"/><rect x="230" y="52" width="10" height="10" fill="#939393"/><rect x="240" y="52" width="10" height="10" fill="#b7b7b7"/><rect x="250" y="52" width="10" height="10" fill="#898989"/><rect x="260" y="52" width="10" height="10" fill="#a9a9a9"/><rect x="270" y="52" width="30" height="10" fill="#a3a3a3"/><rect x="0" y="62" width="30" height="10" fill="#333333"/><rect x="30" y="62" width="10" height="10" fill="#c4c4c4"/><rect x="40" y="62" width="10" height="10" fill="#979797"/><rect x="50" y="62" width="10" height="10" fill="#9f9f9f"/><rect x="60" y="62" width="10" height="10" fill="#b0b0b0"/><rect x="70" y="62" width="10" height="10" fill="#717171"/><rect x="80" y="62" width="10" height="10" fill="#808080"/><rect x="90" y="62" width="10" height="10" fill="#575757"/><rect x="100" y="62" width="10" height="10" fill="#5e5e5e"/><rect x="110" y="62" width="10" height="10" fill="#6a6a6a"/><rect x="120" y="62" width="10" height="10" fill="#a0a0a0"/><rect x="130" y="62" width="10" height="10" fill="#757575"/><rect x="140" y="62" width="10" height="10" fill="#9c9c9c"/><rect x="150" y="62" width="10" height="10" fill="#777777"/><rect x="160" y="62" width="10" height="10" fill="#545454"/><rect x="170" y="62" width="10" height="10" fill="#6b6b6b"/><rect x="180" y="62" width="10" height="10" fill="#676767"/><rect x="190" y="62" width="10" height="10" fill="#595959"/><rect x="200" y="62" width="10" height="10" fill="#797979"/><rect x="210" y="62" width="10" height="10" fill="#8e8e8e"/><rect x="220" y="62" width="10" height="10" fill="#b5b5b5"/><rect x="230" y="62" width="10" height="10" fill="#b6b6b6"/><rect x="240" y="62" width="10" height="10" fill="#a4a4a4"/><rect x="250" y="62" width="10" height="10" fill="#7f7f7f"/><rect x="260" y="62" width="40" height="10" fill="#818181"/><rect x="0" y="72" width="30" height="10" fill="#5c5c5c"/><rect x="30" y="72" width="10" height="10" fill="#2d2d2d"/><rect x="40" y="72" width="10" height="10" fill="#c5c5c5"/><rect x="50" y="72" width="10" height="10" fill="#969696"/><rect x="60" y="72" width="10" height="10" fill="#a6a6a6"/><rect x="70" y="72" width="10" height="10" fill="#6c6c6c"/><rect x="80" y="72" width="10" height="10" fill="#767676"/><rect x="90" y="72" width="10" height="10" fill="#747474"/><rect x="100" y="72" width="10" height="10" fill="#646464"/><rect x="110" y="72" width="10" height="10" fill="#6f6f6f"/><rect x="120" y="72" width="10" height="10" fill="#4c4c4c"/><rect x="130" y="72" width="10" height="10" fill="#7a7a7a"/><rect x="140" y="72" width="10" height="10" fill="#7e7e7e"/><rect x="150" y="72" width="10" height="10" fill="#a1a1a1"/><rect x="160" y="72" width="10" height="10" fill="#dadada"/><rect x="170" y="72" width="10" height="10" fill="#7a7a7a"/><rect x="180" y="72" width="10" height="10" fill="#919191"/><rect x="190" y="72" width="10" height="10" fill="#c8c8c8"/><rect x="200" y="72" width="10" height="10" fill="#606060"/><rect x="210" y="72" width="10" height="10" fill="#a9a9a9"/><rect x="220" y="72" width="10" height="10" fill="#858585"/><rect x="230" y="72" width="10" height="10" fill="#919191"/><rect x="240" y="72" width="10" height="10" fill="#7e7e7e"/><rect x="250" y="72" width="50" height="10" fill="#878787"/><rect x="0" y="82" width="30" height="10" fill="#494949"/><rect x="30" y="82" width="10" height="10" fill="#5d5d5d"/><rect x="40" y="82" width="10" height="10" fill="#2d2d2d"/><rect x="50" y="82" width="10" height="10" fill="#c3c3c3"/><rect x="60" y="82" width="10" height="10" fill="#a3a3a3"/><rect x="70" y="82" width="10" height="10" fill="#989898"/><rect x="80" y="82" width="10" height="10" fill="#8f8f8f"/><rect x="90" y="82" width="10" height="10" fill="#d3d3d3"/><rect x="100" y="82" width="10" height="10" fill="#969696"/><rect x="110" y="82" width="10" height="10" fill="#7e7e7e"/><rect x="120" y="82" width="10" height="10" fill="#636363"/><rect x="130" y="82" width="10" height="10" fill="#949494"/><rect x="140" y="82" width="10" height="10" fill="#909090"/><rect x="150" y="82" width="10" height="10" fill="#afafaf"/><rect x="160" y="82" width="10" height="10" fill="#bebebe"/><rect x="170" y="82" width="10" height="10" fill="#888888"/><rect x="180" y="82" width="10" height="10" fill="#b6b6b6"/><rect x="190" y="82" width="10" height="10" fill="#c8c8c8"/><rect x="200" y="82" width="10" height="10" fill="#888888"/><rect x="210" y="82" width="10" height="10" fill="#d1d1d1"/><rect x="220" y="82" width="10" height="10" fill="#a2a2a2"/><rect x="230" y="82" width="10" height="10" fill="#959595"/><rect x="240" y="82" width="10" height="10" fill="#868686"/><rect x="250" y="82" width="10" height="10" fill="#888888"/><rect x="260" y="82" width="10" height="10" fill="#858585"/><rect x="270" y="82" width="30" height="10" fill="#868686"/><rect x="0" y="92" width="30" height="10" fill="#888888"/><rect x="30" y="92" width="10" height="10" fill="#4a4a4a"/><rect x="40" y="92" width="10" height="10" fill="#5e5e5e"/><rect x="50" y="92" width="10" height="10" fill="#373737"/><rect x="60" y="92" width="10" height="10" fill="#828282"/><rect x="70" y="92" width="10" height="10" fill="#929292"/><rect x="80" y="92" width="10" height="10" fill="#818181"/><rect x="90" y="92" width="10" height="10" fill="#cdcdcd"/><rect x="100" y="92" width="10" height="10" fill="#8a8a8a"/><rect x="110" y="92" width="10" height="10" fill="#636363"/><rect x="120" y="92" width="10" height="10" fill="#949494"/><rect x="130" y="92" width="10" height="10" fill="#515151"/><rect x="140" y="92" width="10" height="10" fill="#a0a0a0"/><rect x="150" y="92" width="10" height="10" fill="#adadad"/><rect x="160" y="92" width="10" height="10" fill="#c9c9c9"/><rect x="170" y="92" width="10" height="10" fill="#8e8e8e"/><rect x="180" y="92" width="10" height="10" fill="#9b9b9b"/><rect x="190" y="92" width="10" height="10" fill="#9f9f9f"/><rect x="200" y="92" width="10" height="10" fill="#8a8a8a"/><rect x="210" y="92" width="10" height="10" fill="#989898"/><rect x="220" y="92" width="10" height="10" fill="#838383"/><rect x="230" y="92" width="10" height="10" fill="#919191"/><rect x="240" y="92" width="10" height="10" fill="#7b7b7b"/><rect x="250" y="92" width="10" height="10" fill="#7c7c7c"/><rect x="260" y="92" width="10" height="10" fill="#878787"/><rect x="270" y="92" width="30" height="10" fill="#868686"/><rect x="0" y="102" width="30" height="10" fill="#7f7f7f"/><rect x="30" y="102" width="10" height="10" fill="#434343"/><rect x="40" y="102" width="10" height="10" fill="#414141"/><rect x="50" y="102" width="10" height="10" fill="#5d5d5d"/><rect x="60" y="102" width="10" height="10" fill="#3b3b3b"/><rect x="70" y="102" width="10" height="10" fill="#393939"/><rect x="80" y="102" width="10" height="10" fill="#575757"/><rect x="90" y="102" width="10" height="10" fill="#262626"/><rect x="100" y="102" width="10" height="10" fill="#464646"/><rect x="110" y="102" width="10" height="10" fill="#484848"/><rect x="120" y="102" width="10" height="10" fill="#adadad"/><rect x="130" y="102" width="10" height="10" fill="#8f8f8f"/><rect x="140" y="102" width="10" height="10" fill="#5d5d5d"/><rect x="150" y="102" width="10" height="10" fill="#a5a5a5"/><rect x="160" y="102" width="10" height="10" fill="#9a9a9a"/><rect x="170" y="102" width="10" height="10" fill="#696969"/><rect x="180" y="102" width="10" height="10" fill="#bfbfbf"/><rect x="190" y="102" width="10" height="10" fill="#8d8d8d"/><rect x="200" y="102" width="10" height="10" fill="#a8a8a8"/><rect x="210" y="102" width="10" height="10" fill="#c9c9c9"/><rect x="220" y="102" width="10" height="10" fill="#cecece"/><rect x="230" y="102" width="10" height="10" fill="#b5b5b5"/><rect x="240" y="102" width="10" height="10" fill="#bababa"/><rect x="250" y="102" width="10" height="10" fill="#c4c4c4"/><rect x="260" y="102" width="10" height="10" fill="#7c7c7c"/><rect x="270" y="102" width="30" height="10" fill="#878787"/><rect x="0" y="112" width="30" height="10" fill="#777777"/><rect x="30" y="112" width="10" height="10" fill="#828282"/><rect x="40" y="112" width="10" height="10" fill="#c2c2c2"/><rect x="50" y="112" width="10" height="10" fill="#414141"/><rect x="60" y="112" width="10" height="10" fill="#404040"/><rect x="70" y="112" width="20" height="10" fill="#373737"/><rect x="90" y="112" width="10" height="10" fill="#656565"/><rect x="100" y="112" width="10" height="10" fill="#7d7d7d"/><rect x="110" y="112" width="10" height="10" fill="#b4b4b4"/><rect x="120" y="112" width="10" height="10" fill="#464646"/><rect x="130" y="112" width="10" height="10" fill="#7b7b7b"/><rect x="140" y="112" width="10" height="10" fill="#bdbdbd"/><rect x="150" y="112" width="10" height="10" fill="#a7a7a7"/><rect x="160" y="112" width="10" height="10" fill="#bfbfbf"/><rect x="170" y="112" width="10" height="10" fill="#d0d0d0"/><rect x="180" y="112" width="10" height="10" fill="#b4b4b4"/><rect x="190" y="112" width="10" height="10" fill="#696969"/><rect x="200" y="112" width="10" height="10" fill="#6e6e6e"/><rect x="210" y="112" width="10" height="10" fill="#929292"/><rect x="220" y="112" width="10" height="10" fill="#737373"/><rect x="230" y="112" width="10" height="10" fill="#808080"/><rect x="240" y="112" width="10" height="10" fill="#7e7e7e"/><rect x="250" y="112" width="10" height="10" fill="#7c7c7c"/><rect x="260" y="112" width="10" height="10" fill="#878787"/><rect x="270" y="112" width="30" height="10" fill="#868686"/><rect x="0" y="122" width="30" height="10" fill="#747474"/><rect x="30" y="122" width="10" height="10" fill="#b9b9b9"/><rect x="40" y="122" width="10" height="10" fill="#bbbbbb"/><rect x="50" y="122" width="10" height="10" fill="#505050"/><rect x="60" y="122" width="10" height="10" fill="#7a7a7a"/><rect x="70" y="122" width="10" height="10" fill="#bcbcbc"/><rect x="80" y="122" width="10" height="10" fill="#737373"/><rect x="90" y="122" width="10" height="10" fill="#7f7f7f"/><rect x="100" y="122" width="10" height="10" fill="#7e7e7e"/><rect x="110" y="122" width="10" height="10" fill="#858585"/><rect x="120" y="122" width="10" height="10" fill="#2e2e2e"/><rect x="130" y="122" width="10" height="10" fill="#d1d1d1"/><rect x="140" y="122" width="10" height="10" fill="#c2c2c2"/><rect x="150" y="122" width="10" height="10" fill="#bbbbbb"/><rect x="160" y="122" width="10" height="10" fill="#c4c4c4"/><rect x="170" y="122" width="10" height="10" fill="#7a7a7a"/><rect x="180" y="122" width="10" height="10" fill="#a7a7a7"/><rect x="190" y="122" width="10" height="10" fill="#828282"/><rect x="200" y="122" width="10" height="10" fill="#717171"/><rect x="210" y="122" width="10" height="10" fill="#989898"/><rect x="220" y="122" width="10" height="10" fill="#9a9a9a"/><rect x="230" y="122" width="10" height="10" fill="#818181"/><rect x="240" y="122" width="10" height="10" fill="#858585"/><rect x="250" y="122" width="10" height="10" fill="#888888"/><rect x="260" y="122" width="40" height="10" fill="#868686"/><rect x="0" y="132" width="30" height="10" fill="#696969"/><rect x="30" y="132" width="10" height="10" fill="#434343"/><rect x="40" y="132" width="10" height="10" fill="#2f2f2f"/><rect x="50" y="132" width="10" height="10" fill="#5f5f5f"/><rect x="60" y="132" width="10" height="10" fill="#a1a1a1"/><rect x="70" y="132" width="10" height="10" fill="#c1c1c1"/><rect x="80" y="132" width="10" height="10" fill="#9f9f9f"/><rect x="90" y="132" width="10" height="10" fill="#777777"/><rect x="100" y="132" width="20" height="10" fill="#444444"/><rect x="120" y="132" width="10" height="10" fill="#838383"/><rect x="130" y="132" width="10" height="10" fill="#727272"/><rect x="140" y="132" width="10" height="10" fill="#797979"/><rect x="150" y="132" width="10" height="10" fill="#b1b1b1"/><rect x="160" y="132" width="10" height="10" fill="#acacac"/><rect x="170" y="132" width="10" height="10" fill="#9b9b9b"/><rect x="180" y="132" width="10" height="10" fill="#9f9f9f"/><rect x="190" y="132" width="10" height="10" fill="#a8a8a8"/><rect x="200" y="132" width="10" height="10" fill="#828282"/><rect x="210" y="132" width="10" height="10" fill="#959595"/><rect x="220" y="132" width="10" height="10" fill="#919191"/><rect x="230" y="132" width="10" height="10" fill="#959595"/><rect x="240" y="132" width="10" height="10" fill="#989898"/><rect x="250" y="132" width="10" height="10" fill="#808080"/><rect x="260" y="132" width="10" height="10" fill="#838383"/><rect x="270" y="132" width="30" height="10" fill="#878787"/><rect x="0" y="142" width="30" height="10" fill="#999999"/><rect x="30" y="142" width="10" height="10" fill="#464646"/><rect x="40" y="142" width="10" height="10" fill="#3c3c3c"/><rect x="50" y="142" width="10" height="10" fill="#555555"/><rect x="60" y="142" width="10" height="10" fill="#696969"/><rect x="70" y="142" width="10" height="10" fill="#555555"/><rect x="80" y="142" width="10" height="10" fill="#595959"/><rect x="90" y="142" width="10" height="10" fill="#888888"/><rect x="100" y="142" width="10" height="10" fill="#d5d5d5"/><rect x="110" y="142" width="10" height="10" fill="#cacaca"/><rect x="120" y="142" width="10" height="10" fill="#adadad"/><rect x="130" y="142" width="10" height="10" fill="#404040"/><rect x="140" y="142" width="10" height="10" fill="#747474"/><rect x="150" y="142" width="10" height="10" fill="#b3b3b3"/><rect x="160" y="142" width="10" height="10" fill="#a3a3a3"/><rect x="170" y="142" width="10" height="10" fill="#d1d1d1"/><rect x="180" y="142" width="10" height="10" fill="#999999"/><rect x="190" y="142" width="10" height="10" fill="#b1b1b1"/><rect x="200" y="142" width="10" height="10" fill="#787878"/><rect x="210" y="142" width="10" height="10" fill="#979797"/><rect x="220" y="142" width="30" height="10" fill="#929292"/><rect x="250" y="142" width="10" height="10" fill="#959595"/><rect x="260" y="142" width="10" height="10" fill="#989898"/><rect x="270" y="142" width="30" height="10" fill="#818181"/><rect x="0" y="152" width="30" height="10" fill="#666666"/><rect x="30" y="152" width="10" height="10" fill="#7e7e7e"/><rect x="40" y="152" width="10" height="10" fill="#737373"/><rect x="50" y="152" width="10" height="10" fill="#bbbbbb"/><rect x="60" y="152" width="10" height="10" fill="#575757"/><rect x="70" y="152" width="10" height="10" fill="#aeaeae"/><rect x="80" y="152" width="10" height="10" fill="#9a9a9a"/><rect x="90" y="152" width="10" height="10" fill="#5e5e5e"/><rect x="100" y="152" width="10" height="10" fill="#bfbfbf"/><rect x="110" y="152" width="10" height="10" fill="#cccccc"/><rect x="120" y="152" width="10" height="10" fill="#aaaaaa"/><rect x="130" y="152" width="10" height="10" fill="#9d9d9d"/><rect x="140" y="152" width="10" height="10" fill="#818181"/><rect x="150" y="152" width="10" height="10" fill="#c6c6c6"/><rect x="160" y="152" width="10" height="10" fill="#c4c4c4"/><rect x="170" y="152" width="10" height="10" fill="#797979"/><rect x="180" y="152" width="10" height="10" fill="#999999"/><rect x="190" y="152" width="10" height="10" fill="#585858"/><rect x="200" y="152" width="10" height="10" fill="#a5a5a5"/><rect x="210" y="152" width="10" height="10" fill="#8f8f8f"/><rect x="220" y="152" width="10" height="10" fill="#929292"/><rect x="230" y="152" width="20" height="10" fill="#939393"/><rect x="250" y="152" width="20" height="10" fill="#929292"/><rect x="270" y="152" width="30" height="10" fill="#959595"/><rect x="0" y="162" width="30" height="10" fill="#565656"/><rect x="30" y="162" width="10" height="10" fill="#aeaeae"/><rect x="40" y="162" width="10" height="10" fill="#8e8e8e"/><rect x="50" y="162" width="10" height="10" fill="#d0d0d0"/><rect x="60" y="162" width="10" height="10" fill="#5e5e5e"/><rect x="70" y="162" width="10" height="10" fill="#777777"/><rect x="80" y="162" width="10" height="10" fill="#4b4b4b"/><rect x="90" y="162" width="10" height="10" fill="#262626"/><rect x="100" y="162" width="10" height="10" fill="#626262"/><rect x="110" y="162" width="10" height="10" fill="#3f3f3f"/><rect x="120" y="162" width="10" height="10" fill="#cacaca"/><rect x="130" y="162" width="10" height="10" fill="#9f9f9f"/><rect x="140" y="162" width="10" height="10" fill="#565656"/><rect x="150" y="162" width="10" height="10" fill="#b6b6b6"/><rect x="160" y="162" width="10" height="10" fill="#b7b7b7"/><rect x="170" y="162" width="10" height="10" fill="#b6b6b6"/><rect x="180" y="162" width="10" height="10" fill="#9b9b9b"/><rect x="190" y="162" width="10" height="10" fill="#c6c6c6"/><rect x="200" y="162" width="10" height="10" fill="#636363"/><rect x="210" y="162" width="10" height="10" fill="#a2a2a2"/><rect x="220" y="162" width="10" height="10" fill="#9a9a9a"/><rect x="230" y="162" width="10" height="10" fill="#909090"/><rect x="240" y="162" width="10" height="10" fill="#919191"/><rect x="250" y="162" width="20" height="10" fill="#939393"/><rect x="270" y="162" width="30" height="10" fill="#929292"/><rect x="0" y="172" width="30" height="10" fill="#535353"/><rect x="30" y="172" width="10" height="10" fill="#515151"/><rect x="40" y="172" width="10" height="10" fill="#898989"/><rect x="50" y="172" width="10" height="10" fill="#474747"/><rect x="60" y="172" width="10" height="10" fill="#575757"/><rect x="70" y="172" width="10" height="10" fill="#9c9c9c"/><rect x="80" y="172" width="10" height="10" fill="#a9a9a9"/><rect x="90" y="172" width="10" height="10" fill="#b2b2b2"/><rect x="100" y="172" width="10" height="10" fill="#323232"/><rect x="110" y="172" width="10" height="10" fill="#3e3e3e"/><rect x="120" y="172" width="10" height="10" fill="#848484"/><rect x="130" y="172" width="10" height="10" fill="#484848"/><rect x="140" y="172" width="10" height="10" fill="#646464"/><rect x="150" y="172" width="10" height="10" fill="#2c2c2c"/><rect x="160" y="172" width="10" height="10" fill="#666666"/><rect x="170" y="172" width="10" height="10" fill="#383838"/><rect x="180" y="172" width="10" height="10" fill="#262626"/><rect x="190" y="172" width="10" height="10" fill="#484848"/><rect x="200" y="172" width="10" height="10" fill="#727272"/><rect x="210" y="172" width="10" height="10" fill="#646464"/><rect x="220" y="172" width="10" height="10" fill="#5c5c5c"/><rect x="230" y="172" width="10" height="10" fill="#a4a4a4"/><rect x="240" y="172" width="10" height="10" fill="#9a9a9a"/><rect x="250" y="172" width="10" height="10" fill="#909090"/><rect x="260" y="172" width="10" height="10" fill="#919191"/><rect x="270" y="172" width="30" height="10" fill="#939393"/><rect x="0" y="182" width="30" height="10" fill="#424242"/><rect x="30" y="182" width="10" height="10" fill="#565656"/><rect x="40" y="182" width="10" height="10" fill="#464646"/><rect x="50" y="182" width="10" height="10" fill="#6b6b6b"/><rect x="60" y="182" width="10" height="10" fill="#515151"/><rect x="70" y="182" width="10" height="10" fill="#b1b1b1"/><rect x="80" y="182" width="10" height="10" fill="#bdbdbd"/><rect x="90" y="182" width="10" height="10" fill="#9a9a9a"/><rect x="100" y="182" width="10" height="10" fill="#454545"/><rect x="110" y="182" width="10" height="10" fill="#3d3d3d"/><rect x="120" y="182" width="10" height="10" fill="#5c5c5c"/><rect x="130" y="182" width="10" height="10" fill="#818181"/><rect x="140" y="182" width="10" height="10" fill="#717171"/><rect x="150" y="182" width="10" height="10" fill="#a9a9a9"/><rect x="160" y="182" width="10" height="10" fill="#9a9a9a"/><rect x="170" y="182" width="10" height="10" fill="#888888"/><rect x="180" y="182" width="10" height="10" fill="#8c8c8c"/><rect x="190" y="182" width="10" height="10" fill="#acacac"/><rect x="200" y="182" width="10" height="10" fill="#595959"/><rect x="210" y="182" width="10" height="10" fill="#727272"/><rect x="220" y="182" width="10" height="10" fill="#6e6e6e"/><rect x="230" y="182" width="10" height="10" fill="#656565"/><rect x="240" y="182" width="10" height="10" fill="#5b5b5b"/><rect x="250" y="182" width="10" height="10" fill="#a4a4a4"/><rect x="260" y="182" width="10" height="10" fill="#9a9a9a"/><rect x="270" y="182" width="30" height="10" fill="#909090"/><rect x="0" y="192" width="30" height="10" fill="#454545"/><rect x="30" y="192" width="10" height="10" fill="#555555"/><rect x="40" y="192" width="10" height="10" fill="#545454"/><rect x="50" y="192" width="10" height="10" fill="#505050"/><rect x="60" y="192" width="10" height="10" fill="#646464"/><rect x="70" y="192" width="10" height="10" fill="#7d7d7d"/><rect x="80" y="192" width="10" height="10" fill="#5e5e5e"/><rect x="90" y="192" width="10" height="10" fill="#7c7c7c"/><rect x="100" y="192" width="10" height="10" fill="#858585"/><rect x="110" y="192" width="10" height="10" fill="#636363"/><rect x="120" y="192" width="10" height="10" fill="#565656"/><rect x="130" y="192" width="10" height="10" fill="#a1a1a1"/><rect x="140" y="192" width="10" height="10" fill="#979797"/><rect x="150" y="192" width="10" height="10" fill="#8d8d8d"/><rect x="160" y="192" width="10" height="10" fill="#a0a0a0"/><rect x="170" y="192" width="10" height="10" fill="#b7b7b7"/><rect x="180" y="192" width="10" height="10" fill="#a3a3a3"/><rect x="190" y="192" width="10" height="10" fill="#888888"/><rect x="200" y="192" width="10" height="10" fill="#a7a7a7"/><rect x="210" y="192" width="10" height="10" fill="#595959"/><rect x="220" y="192" width="10" height="10" fill="#707070"/><rect x="230" y="192" width="10" height="10" fill="#6d6d6d"/><rect x="240" y="192" width="10" height="10" fill="#6f6f6f"/><rect x="250" y="192" width="10" height="10" fill="#656565"/><rect x="260" y="192" width="10" height="10" fill="#5c5c5c"/><rect x="270" y="192" width="30" height="10" fill="#a2a2a2"/><rect x="0" y="202" width="30" height="10" fill="#414141"/><rect x="30" y="202" width="20" height="10" fill="#555555"/><rect x="50" y="202" width="10" height="10" fill="#404040"/><rect x="60" y="202" width="10" height="10" fill="#393939"/><rect x="70" y="202" width="10" height="10" fill="#646464"/><rect x="80" y="202" width="10" height="10" fill="#4c4c4c"/><rect x="90" y="202" width="10" height="10" fill="#585858"/><rect x="100" y="202" width="10" height="10" fill="#838383"/><rect x="110" y="202" width="10" height="10" fill="#545454"/><rect x="120" y="202" width="10" height="10" fill="#585858"/><rect x="130" y="202" width="10" height="10" fill="#9b9b9b"/><rect x="140" y="202" width="20" height="10" fill="#919191"/><rect x="160" y="202" width="10" height="10" fill="#9f9f9f"/><rect x="170" y="202" width="10" height="10" fill="#b0b0b0"/><rect x="180" y="202" width="10" height="10" fill="#9b9b9b"/><rect x="190" y="202" width="10" height="10" fill="#a7a7a7"/><rect x="200" y="202" width="10" height="10" fill="#888888"/><rect x="210" y="202" width="10" height="10" fill="#a6a6a6"/><rect x="220" y="202" width="10" height="10" fill="#5a5a5a"/><rect x="230" y="202" width="10" height="10" fill="#6f6f6f"/><rect x="240" y="202" width="10" height="10" fill="#6c6c6c"/><rect x="250" y="202" width="10" height="10" fill="#6e6e6e"/><rect x="260" y="202" width="10" height="10" fill="#6f6f6f"/><rect x="270" y="202" width="30" height="10" fill="#646464"/><rect x="0" y="212" width="30" height="30" fill="#555555"/><rect x="30" y="212" width="10" height="30" fill="#535353"/><rect x="40" y="212" width="10" height="30" fill="#525252"/><rect x="50" y="212" width="10" height="30" fill="#565656"/><rect x="60" y="212" width="10" height="30" fill="#535353"/><rect x="70" y="212" width="10" height="30" fill="#656565"/><rect x="80" y="212" width="10" height="30" fill="#4f4f4f"/><rect x="90" y="212" width="10" height="30" fill="#5f5f5f"/><rect x="100" y="212" width="10" height="30" fill="#7c7c7c"/><rect x="110" y="212" width="10" height="30" fill="#848484"/><rect x="120" y="212" width="10" height="30" fill="#505050"/><rect x="130" y="212" width="10" height="30" fill="#9d9d9d"/><rect x="140" y="212" width="20" height="30" fill="#919191"/><rect x="160" y="212" width="10" height="30" fill="#9f9f9f"/><rect x="170" y="212" width="10" height="30" fill="#b1b1b1"/><rect x="180" y="212" width="10" height="30" fill="#9d9d9d"/><rect x="190" y="212" width="10" height="30" fill="#9e9e9e"/><rect x="200" y="212" width="10" height="30" fill="#a5a5a5"/><rect x="210" y="212" width="10" height="30" fill="#8c8c8c"/><rect x="220" y="212" width="10" height="30" fill="#a3a3a3"/><rect x="230" y="212" width="10" height="30" fill="#646464"/><rect x="240" y="212" width="10" height="30" fill="#6e6e6e"/><rect x="250" y="212" width="20" height="30" fill="#6c6c6c"/><rect x="270" y="212" width="30" height="30" fill="#6e6e6e"/></g></g><g fill="#000"><path d="M97.6 81.6L99.3 78.6L101.0 81.6z"/><path d="M145.2 99.1L146.8 96.1L148.5 99.1z"/><path d="M127.8 107.6L129.5 104.6L131.2 107.6z"/><path d="M117.0 112.5L118.7 109.5L120.4 112.5z"/><path d="M134.0 112.5L135.7 109.5L137.3 112.5z"/><path d="M153.0 45.9L154.7 43.0L156.3 45.9z"/><path d="M246.0 30.0L247.7 27.1L249.3 30.0z"/><path d="M250.8 29.4L252.5 26.5L254.2 29.4z"/><path d="M257.5 35.1L259.1 32.1L260.8 35.1z"/><path d="M260.4 48.8L262.0 45.9L263.6 48.8z"/><path d="M195.8 60.7L197.4 57.8L199.1 60.7z"/><path d="M217.2 61.7L218.9 58.8L220.6 61.7z"/><path d="M247.0 66.1L248.7 63.1L250.3 66.1z"/><path d="M244.2 68.3L245.8 65.3L247.5 68.3z"/><path d="M171.4 76.5L173.1 73.5L174.8 76.5z"/><path d="M192.5 79.1L194.2 76.1L195.8 79.1z"/><path d="M183.4 93.0L185.1 90.0L186.8 93.0z"/><path d="M190.4 94.5L192.1 91.5L193.8 94.5z"/><path d="M207.2 93.6L208.8 90.6L210.5 93.6z"/><path d="M200.5 96.8L202.2 93.8L203.8 96.8z"/><path d="M178.2 98.7L179.8 95.8L181.5 98.7z"/><path d="M177.8 101.0L179.4 98.0L181.1 101.0z"/><path d="M163.2 100.0L164.8 97.0L166.5 100.0z"/><path d="M231.8 105.7L233.5 102.8L235.2 105.7z"/><path d="M235.2 103.4L236.9 100.4L238.6 103.4z"/><path d="M217.7 106.7L219.3 103.8L221.0 106.7z"/><path d="M221.3 107.6L223.0 104.6L224.7 107.6z"/><path d="M185.3 107.3L187.0 104.3L188.7 107.3z"/><path d="M187.2 108.2L188.9 105.2L190.6 108.2z"/><path d="M171.2 111.3L172.8 108.3L174.5 111.3z"/><path d="M178.3 112.3L180.0 109.3L181.7 112.3z"/><path d="M188.3 112.8L190.0 109.8L191.7 112.8z"/><path d="M214.8 112.0L216.4 109.0L218.1 112.0z"/><path d="M228.0 111.0L229.7 108.0L231.3 111.0z"/><path d="M107.5 114.3L109.2 111.3L110.9 114.3z"/><path d="M117.0 113.9L118.7 110.9L120.4 113.9z"/><path d="M134.0 113.9L135.7 110.9L137.3 113.9z"/><path d="M100.8 122.8L102.5 119.8L104.2 122.8z"/><path d="M100.3 125.6L102.0 122.6L103.7 125.6z"/><path d="M112.2 123.2L113.9 120.2L115.6 123.2z"/><path d="M139.8 126.2L141.4 123.2L143.1 126.2z"/><path d="M143.5 125.6L145.2 122.6L146.8 125.6z"/><path d="M142.7 127.0L144.3 124.0L146.0 127.0z"/><path d="M135.0 132.7L136.7 129.8L138.3 132.7z"/><path d="M34.0 131.7L35.6 128.8L37.2 131.7z"/><path d="M37.4 130.8L39.0 127.8L40.6 130.8z"/><path d="M24.1 136.1L25.7 133.2L27.3 136.1z"/><path d="M26.4 135.7L28.0 132.8L29.6 135.7z"/><path d="M27.9 135.3L29.5 132.3L31.1 135.3z"/><path d="M25.0 139.9L26.6 136.9L28.2 139.9z"/><path d="M26.0 140.3L27.6 137.3L29.2 140.3z"/><path d="M72.4 135.1L74.1 132.2L75.8 135.1z"/><path d="M95.2 142.1L96.9 139.2L98.6 142.1z"/><path d="M38.6 149.3L40.3 146.3L41.9 149.3z"/><path d="M103.8 149.7L105.4 146.8L107.1 149.7z"/><path d="M129.3 147.8L131.0 144.8L132.7 147.8z"/><path d="M52.6 160.7L54.2 157.8L55.9 160.7z"/><path d="M51.0 163.0L52.6 160.0L54.2 163.0z"/><path d="M53.5 163.6L55.1 160.7L56.8 163.6z"/><path d="M54.5 164.2L56.1 161.2L57.8 164.2z"/><path d="M55.4 169.8L57.0 166.8L58.6 169.8z"/><path d="M33.1 168.9L34.8 165.9L36.4 168.9z"/><path d="M126.5 173.6L128.2 170.7L129.8 173.6z"/><path d="M46.9 175.9L48.5 172.9L50.1 175.9z"/><path d="M45.9 177.8L47.5 174.8L49.1 177.8z"/><path d="M49.6 178.4L51.3 175.4L52.9 178.4z"/><path d="M45.5 179.3L47.1 176.3L48.8 179.3z"/><path d="M58.1 190.2L59.8 187.2L61.4 190.2z"/><path d="M75.2 200.6L76.9 197.7L78.6 200.6z"/><path d="M77.1 202.9L78.8 199.9L80.5 202.9z"/><path d="M161.7 113.9L163.3 110.9L165.0 113.9z"/><path d="M171.2 114.3L172.8 111.3L174.5 114.3z"/><path d="M174.9 115.2L176.6 112.2L178.2 115.2z"/><path d="M170.3 117.3L172.0 114.3L173.7 117.3z"/><path d="M173.3 119.3L175.0 116.3L176.7 119.3z"/><path d="M176.3 118.3L178.0 115.3L179.7 118.3z"/><path d="M179.3 117.3L181.0 114.3L182.7 117.3z"/><path d="M182.3 116.3L184.0 113.3L185.7 116.3z"/><path d="M185.3 115.3L187.0 112.3L188.7 115.3z"/><path d="M188.3 114.3L190.0 111.3L191.7 114.3z"/><path d="M174.3 121.3L176.0 118.3L177.7 121.3z"/><path d="M178.3 121.3L180.0 118.3L181.7 121.3z"/><path d="M182.3 119.3L184.0 116.3L185.7 119.3z"/><path d="M166.3 126.2L168.0 123.2L169.7 126.2z"/><path d="M178.8 123.7L180.4 120.8L182.1 123.7z"/><path d="M217.7 120.5L219.3 117.5L221.0 120.5z"/><path d="M209.0 113.9L210.7 110.9L212.3 113.9z"/><path d="M226.2 113.3L227.8 110.3L229.5 113.3z"/><path d="M177.8 143.7L179.4 140.8L181.1 143.7z"/><path d="M175.8 147.8L177.5 144.8L179.2 147.8z"/><path d="M176.8 150.3L178.5 147.3L180.2 150.3z"/><path d="M176.4 152.2L178.1 149.2L179.8 152.2z"/><path d="M188.2 148.8L189.8 145.8L191.5 148.8z"/><path d="M171.2 151.3L172.8 148.3L174.5 151.3z"/><path d="M173.0 153.1L174.7 150.2L176.3 153.1z"/><path d="M173.9 155.0L175.6 152.0L177.2 155.0z"/><path d="M172.0 154.1L173.7 151.2L175.3 154.1z"/><path d="M156.8 153.5L158.5 150.5L160.2 153.5z"/><path d="M162.5 153.5L164.2 150.5L165.8 153.5z"/><path d="M156.8 157.3L158.5 154.3L160.2 157.3z"/><path d="M164.4 158.8L166.1 155.8L167.8 158.8z"/><path d="M168.2 158.3L169.9 155.3L171.6 158.3z"/><path d="M170.8 157.9L172.4 154.9L174.1 157.9z"/><path d="M204.3 157.3L206.0 154.3L207.7 157.3z"/><path d="M205.2 157.9L206.9 154.9L208.6 157.9z"/><path d="M182.2 164.5L183.8 161.5L185.5 164.5z"/><path d="M195.3 167.3L197.0 164.3L198.7 167.3z"/><path d="M195.8 169.7L197.4 166.8L199.1 169.7z"/><path d="M163.9 169.8L165.6 166.8L167.2 169.8z"/><path d="M178.2 182.6L179.8 179.7L181.5 182.6z"/><path d="M174.9 200.0L176.6 197.0L178.2 200.0z"/><path d="M251.8 23.4L254.4 18.7L257.0 23.4z"/></g><rect x="8.5" y="7.5" width="322" height="219.5" fill="none" stroke="#595959" stroke-width="1"/><g stroke="#333" stroke-width="0.8"><path d="M32.7 7.5v-2M119.2 7.5v-2M206 7.5v-2M292.5 7.5v-2M34.4 226.8v-1.8M122.2 226.8v-1.8M213.8 226.8v-1.8M303.5 226.8v-1.8M8.5 96.5h-1.8M8.5 197.5h-1.8M330.5 88h-1.8M330.5 187h-1.8"/></g><g class="ax"><text x="19.8" y="6.5" textLength="34.6" lengthAdjust="spacingAndGlyphs">111°0'0"E</text><text x="107.2" y="6.5" textLength="34.6" lengthAdjust="spacingAndGlyphs">113°0'0"E</text><text x="194.9" y="6.5" textLength="34.6" lengthAdjust="spacingAndGlyphs">115°0'0"E</text><text x="282.7" y="6.5" textLength="34.6" lengthAdjust="spacingAndGlyphs">117°0'0"E</text><text x="15.1" y="236.0" textLength="34.7" lengthAdjust="spacingAndGlyphs">111°0'0"E</text><text x="106.0" y="236.0" textLength="34.7" lengthAdjust="spacingAndGlyphs">113°0'0"E</text><text x="197.0" y="236.0" textLength="34.7" lengthAdjust="spacingAndGlyphs">115°0'0"E</text><text x="288.8" y="236.0" textLength="34.7" lengthAdjust="spacingAndGlyphs">117°0'0"E</text><text transform="translate(6.9,105.6) rotate(-90)" textLength="31.5" lengthAdjust="spacingAndGlyphs">26°0'0"N</text><text transform="translate(6.9,203.6) rotate(-90)" textLength="31.5" lengthAdjust="spacingAndGlyphs">24°0'0"N</text><text transform="translate(332.1,70.8) rotate(90)" textLength="31.8" lengthAdjust="spacingAndGlyphs">26°0'0"N</text><text transform="translate(332.1,170.3) rotate(90)" textLength="31.8" lengthAdjust="spacingAndGlyphs">24°0'0"N</text></g><text class="n" x="20.4" y="22.2">N</text><path d="M23.8 24.6L16.2 48.8L23.8 39.6z" fill="#000"/><path d="M23.7 25.5L30.7 47.8L23.7 39.6z" fill="#fff" stroke="#000" stroke-width="0.8" stroke-linejoin="miter"/><text class="lt" y="20.8"><tspan x="307.0" y="20.8" font-size="9.9">(</tspan><tspan x="311.5" y="20.8">c</tspan><tspan x="317.3" y="20.8" font-size="9.9">)</tspan></text><rect x="120.7" y="219.6" width="54.3" height="3.2" fill="#fff" stroke="#000" stroke-width="0.6"/><rect x="120.7" y="219.6" width="27" height="3.2" fill="#000"/><g class="sb"><text x="121" y="217" text-anchor="middle">0</text><text x="147.6" y="217" text-anchor="middle">60</text><text x="174.6" y="217" text-anchor="middle">120</text><text x="178.6" y="225.2">km</text></g><path d="M256.3 109.5L259.6 104.2L262.9 109.5z" fill="#000"/><text class="lg w" x="270.7" y="108.9"><tspan textLength="5.6" lengthAdjust="spacingAndGlyphs">W</tspan> <tspan x="279.8" textLength="19.8" lengthAdjust="spacingAndGlyphs">deposit</tspan></text><rect x="251.4" y="112.30" width="16.2" height="7.9" fill="rgb(0,0,255)" stroke="#8a8a8a" stroke-width="0.5"/><text class="lg" y="118.80"><tspan x="270.2">0.</tspan> <tspan x="277.8" textLength="9.3" lengthAdjust="spacingAndGlyphs">779</tspan> <tspan x="290.9">-</tspan> <tspan x="296.8">0.</tspan> <tspan x="304.4" textLength="9.3" lengthAdjust="spacingAndGlyphs">923</tspan></text><rect x="251.4" y="123.05" width="16.2" height="7.9" fill="rgb(51,87,255)" stroke="#8a8a8a" stroke-width="0.5"/><text class="lg" y="129.55"><tspan x="270.2">0.</tspan> <tspan x="277.8" textLength="9.3" lengthAdjust="spacingAndGlyphs">924</tspan> <tspan x="290.9">-</tspan> <tspan x="296.8">0.</tspan> <tspan x="304.4" textLength="9.3" lengthAdjust="spacingAndGlyphs">970</tspan></text><rect x="251.4" y="133.80" width="16.2" height="7.9" fill="rgb(56,163,255)" stroke="#8a8a8a" stroke-width="0.5"/><text class="lg" y="140.30"><tspan x="270.2">0.</tspan> <tspan x="277.8" textLength="9.3" lengthAdjust="spacingAndGlyphs">971</tspan> <tspan x="290.9">-</tspan> <tspan x="296.8">1.</tspan> <tspan x="304.4" textLength="9.3" lengthAdjust="spacingAndGlyphs">026</tspan></text><rect x="251.4" y="144.55" width="16.2" height="7.9" fill="rgb(0,255,255)" stroke="#8a8a8a" stroke-width="0.5"/><text class="lg" y="151.05"><tspan x="270.2">1.</tspan> <tspan x="277.8" textLength="9.3" lengthAdjust="spacingAndGlyphs">027</tspan> <tspan x="290.9">-</tspan> <tspan x="296.8">1.</tspan> <tspan x="304.4" textLength="9.3" lengthAdjust="spacingAndGlyphs">070</tspan></text><rect x="251.4" y="155.30" width="16.2" height="7.9" fill="rgb(145,255,180)" stroke="#8a8a8a" stroke-width="0.5"/><text class="lg" y="161.80"><tspan x="270.2">1.</tspan> <tspan x="277.8" textLength="9.3" lengthAdjust="spacingAndGlyphs">071</tspan> <tspan x="290.9">-</tspan> <tspan x="296.8">1.</tspan> <tspan x="304.4" textLength="9.3" lengthAdjust="spacingAndGlyphs">118</tspan></text><rect x="251.4" y="166.05" width="16.2" height="7.9" fill="rgb(209,255,105)" stroke="#8a8a8a" stroke-width="0.5"/><text class="lg" y="172.55"><tspan x="270.2">1.</tspan> <tspan x="277.8" textLength="9.3" lengthAdjust="spacingAndGlyphs">119</tspan> <tspan x="290.9">-</tspan> <tspan x="296.8">1.</tspan> <tspan x="304.4" textLength="9.3" lengthAdjust="spacingAndGlyphs">172</tspan></text><rect x="251.4" y="176.80" width="16.2" height="7.9" fill="rgb(255,255,0)" stroke="#8a8a8a" stroke-width="0.5"/><text class="lg" y="183.30"><tspan x="270.2">1.</tspan> <tspan x="277.8" textLength="9.3" lengthAdjust="spacingAndGlyphs">173</tspan> <tspan x="290.9">-</tspan> <tspan x="296.8">1.</tspan> <tspan x="304.4" textLength="9.3" lengthAdjust="spacingAndGlyphs">240</tspan></text><rect x="251.4" y="187.55" width="16.2" height="7.9" fill="rgb(255,183,0)" stroke="#8a8a8a" stroke-width="0.5"/><text class="lg" y="194.05"><tspan x="270.2">1.</tspan> <tspan x="277.8" textLength="9.3" lengthAdjust="spacingAndGlyphs">241</tspan> <tspan x="290.9">-</tspan> <tspan x="296.8">1.</tspan> <tspan x="304.4" textLength="9.3" lengthAdjust="spacingAndGlyphs">332</tspan></text><rect x="251.4" y="198.30" width="16.2" height="7.9" fill="rgb(255,111,0)" stroke="#8a8a8a" stroke-width="0.5"/><text class="lg" y="204.80"><tspan x="270.2">1.</tspan> <tspan x="277.8" textLength="9.3" lengthAdjust="spacingAndGlyphs">333</tspan> <tspan x="290.9">-</tspan> <tspan x="296.8">1.</tspan> <tspan x="304.4" textLength="9.3" lengthAdjust="spacingAndGlyphs">456</tspan></text><rect x="251.4" y="209.05" width="16.2" height="7.9" fill="rgb(255,0,0)" stroke="#8a8a8a" stroke-width="0.5"/><text class="lg" y="215.55"><tspan x="271.7">1.</tspan> <tspan x="279.3" textLength="9.3" lengthAdjust="spacingAndGlyphs">457</tspan> <tspan x="292.4">-</tspan> <tspan x="298.3">2.</tspan> <tspan x="305.9" textLength="9.3" lengthAdjust="spacingAndGlyphs">055</tspan></text></g><g transform="translate(346.5,242)"><g clip-path="url(#reg)"><g filter="url(#hmd)"><rect x="0" y="-8" width="30" height="30" fill="#919191"/><rect x="30" y="-8" width="10" height="30" fill="#9b9b9b"/><rect x="40" y="-8" width="10" height="30" fill="#5d5d5d"/><rect x="50" y="-8" width="10" height="30" fill="#6f6f6f"/><rect x="60" y="-8" width="20" height="30" fill="#6c6c6c"/><rect x="80" y="-8" width="10" height="30" fill="#6f6f6f"/><rect x="90" y="-8" width="10" height="30" fill="#5a5a5a"/><rect x="100" y="-8" width="20" height="30" fill="#606060"/><rect x="120" y="-8" width="10" height="30" fill="#5d5d5d"/><rect x="130" y="-8" width="10" height="30" fill="#727272"/><rect x="140" y="-8" width="20" height="30" fill="#6c6c6c"/><rect x="160" y="-8" width="10" height="30" fill="#6f6f6f"/><rect x="170" y="-8" width="10" height="30" fill="#5b5b5b"/><rect x="180" y="-8" width="10" height="30" fill="#6f6f6f"/><rect x="190" y="-8" width="10" height="30" fill="#6d6d6d"/><rect x="200" y="-8" width="10" height="30" fill="#6a6a6a"/><rect x="210" y="-8" width="10" height="30" fill="#7a7a7a"/><rect x="220" y="-8" width="10" height="30" fill="#838383"/><rect x="230" y="-8" width="10" height="30" fill="#a6a6a6"/><rect x="240" y="-8" width="10" height="30" fill="#9f9f9f"/><rect x="250" y="-8" width="10" height="30" fill="#9b9b9b"/><rect x="260" y="-8" width="10" height="30" fill="#b1b1b1"/><rect x="270" y="-8" width="30" height="30" fill="#8c8c8c"/><rect x="0" y="22" width="30" height="10" fill="#939393"/><rect x="30" y="22" width="10" height="10" fill="#909090"/><rect x="40" y="22" width="10" height="10" fill="#a3a3a3"/><rect x="50" y="22" width="10" height="10" fill="#656565"/><rect x="60" y="22" width="10" height="10" fill="#6e6e6e"/><rect x="70" y="22" width="20" height="10" fill="#6c6c6c"/><rect x="90" y="22" width="10" height="10" fill="#727272"/><rect x="100" y="22" width="10" height="10" fill="#5d5d5d"/><rect x="110" y="22" width="20" height="10" fill="#606060"/><rect x="130" y="22" width="10" height="10" fill="#5a5a5a"/><rect x="140" y="22" width="10" height="10" fill="#6f6f6f"/><rect x="150" y="22" width="20" height="10" fill="#6e6e6e"/><rect x="170" y="22" width="10" height="10" fill="#5b5b5b"/><rect x="180" y="22" width="10" height="10" fill="#737373"/><rect x="190" y="22" width="10" height="10" fill="#686868"/><rect x="200" y="22" width="10" height="10" fill="#6b6b6b"/><rect x="210" y="22" width="10" height="10" fill="#7c7c7c"/><rect x="220" y="22" width="10" height="10" fill="#868686"/><rect x="230" y="22" width="10" height="10" fill="#909090"/><rect x="240" y="22" width="10" height="10" fill="#9d9d9d"/><rect x="250" y="22" width="10" height="10" fill="#aaaaaa"/><rect x="260" y="22" width="10" height="10" fill="#c5c5c5"/><rect x="270" y="22" width="30" height="10" fill="#9d9d9d"/><rect x="0" y="32" width="30" height="10" fill="#939393"/><rect x="30" y="32" width="10" height="10" fill="#919191"/><rect x="40" y="32" width="10" height="10" fill="#9a9a9a"/><rect x="50" y="32" width="10" height="10" fill="#5b5b5b"/><rect x="60" y="32" width="10" height="10" fill="#6f6f6f"/><rect x="70" y="32" width="20" height="10" fill="#6c6c6c"/><rect x="90" y="32" width="10" height="10" fill="#6f6f6f"/><rect x="100" y="32" width="10" height="10" fill="#5a5a5a"/><rect x="110" y="32" width="20" height="10" fill="#606060"/><rect x="130" y="32" width="10" height="10" fill="#5e5e5e"/><rect x="140" y="32" width="10" height="10" fill="#6f6f6f"/><rect x="150" y="32" width="10" height="10" fill="#5e5e5e"/><rect x="160" y="32" width="10" height="10" fill="#757575"/><rect x="170" y="32" width="10" height="10" fill="#5a5a5a"/><rect x="180" y="32" width="10" height="10" fill="#575757"/><rect x="190" y="32" width="10" height="10" fill="#878787"/><rect x="200" y="32" width="10" height="10" fill="#696969"/><rect x="210" y="32" width="10" height="10" fill="#666666"/><rect x="220" y="32" width="10" height="10" fill="#868686"/><rect x="230" y="32" width="10" height="10" fill="#909090"/><rect x="240" y="32" width="10" height="10" fill="#afafaf"/><rect x="250" y="32" width="10" height="10" fill="#c5c5c5"/><rect x="260" y="32" width="10" height="10" fill="#adadad"/><rect x="270" y="32" width="30" height="10" fill="#a0a0a0"/><rect x="0" y="42" width="30" height="10" fill="#919191"/><rect x="30" y="42" width="10" height="10" fill="#949494"/><rect x="40" y="42" width="10" height="10" fill="#909090"/><rect x="50" y="42" width="10" height="10" fill="#a4a4a4"/><rect x="60" y="42" width="10" height="10" fill="#656565"/><rect x="70" y="42" width="10" height="10" fill="#6e6e6e"/><rect x="80" y="42" width="20" height="10" fill="#6c6c6c"/><rect x="100" y="42" width="10" height="10" fill="#727272"/><rect x="110" y="42" width="10" height="10" fill="#5d5d5d"/><rect x="120" y="42" width="10" height="10" fill="#626262"/><rect x="130" y="42" width="10" height="10" fill="#5b5b5b"/><rect x="140" y="42" width="10" height="10" fill="#6c6c6c"/><rect x="150" y="42" width="10" height="10" fill="#c4c4c4"/><rect x="160" y="42" width="10" height="10" fill="#454545"/><rect x="170" y="42" width="10" height="10" fill="#7f7f7f"/><rect x="180" y="42" width="10" height="10" fill="#595959"/><rect x="190" y="42" width="10" height="10" fill="#6b6b6b"/><rect x="200" y="42" width="10" height="10" fill="#6e6e6e"/><rect x="210" y="42" width="10" height="10" fill="#626262"/><rect x="220" y="42" width="10" height="10" fill="#9e9e9e"/><rect x="230" y="42" width="10" height="10" fill="#8c8c8c"/><rect x="240" y="42" width="10" height="10" fill="#b7b7b7"/><rect x="250" y="42" width="10" height="10" fill="#9b9b9b"/><rect x="260" y="42" width="10" height="10" fill="#8c8c8c"/><rect x="270" y="42" width="30" height="10" fill="#919191"/><rect x="0" y="52" width="30" height="10" fill="#9e9e9e"/><rect x="30" y="52" width="10" height="10" fill="#8f8f8f"/><rect x="40" y="52" width="10" height="10" fill="#929292"/><rect x="50" y="52" width="10" height="10" fill="#9a9a9a"/><rect x="60" y="52" width="10" height="10" fill="#5b5b5b"/><rect x="70" y="52" width="10" height="10" fill="#6f6f6f"/><rect x="80" y="52" width="20" height="10" fill="#6c6c6c"/><rect x="100" y="52" width="10" height="10" fill="#6e6e6e"/><rect x="110" y="52" width="10" height="10" fill="#5a5a5a"/><rect x="120" y="52" width="10" height="10" fill="#5b5b5b"/><rect x="130" y="52" width="10" height="10" fill="#5e5e5e"/><rect x="140" y="52" width="10" height="10" fill="#b4b4b4"/><rect x="150" y="52" width="10" height="10" fill="#959595"/><rect x="160" y="52" width="10" height="10" fill="#6e6e6e"/><rect x="170" y="52" width="10" height="10" fill="#464646"/><rect x="180" y="52" width="10" height="10" fill="#616161"/><rect x="190" y="52" width="10" height="10" fill="#747474"/><rect x="200" y="52" width="10" height="10" fill="#6d6d6d"/><rect x="210" y="52" width="10" height="10" fill="#7a7a7a"/><rect x="220" y="52" width="10" height="10" fill="#979797"/><rect x="230" y="52" width="10" height="10" fill="#888888"/><rect x="240" y="52" width="10" height="10" fill="#a1a1a1"/><rect x="250" y="52" width="10" height="10" fill="#8d8d8d"/><rect x="260" y="52" width="40" height="10" fill="#939393"/><rect x="0" y="62" width="30" height="10" fill="#4a4a4a"/><rect x="30" y="62" width="10" height="10" fill="#ababab"/><rect x="40" y="62" width="10" height="10" fill="#8d8d8d"/><rect x="50" y="62" width="10" height="10" fill="#919191"/><rect x="60" y="62" width="10" height="10" fill="#a4a4a4"/><rect x="70" y="62" width="10" height="10" fill="#656565"/><rect x="80" y="62" width="10" height="10" fill="#6f6f6f"/><rect x="90" y="62" width="10" height="10" fill="#6b6b6b"/><rect x="100" y="62" width="10" height="10" fill="#6e6e6e"/><rect x="110" y="62" width="10" height="10" fill="#727272"/><rect x="120" y="62" width="10" height="10" fill="#767676"/><rect x="130" y="62" width="10" height="10" fill="#999999"/><rect x="140" y="62" width="10" height="10" fill="#aaaaaa"/><rect x="150" y="62" width="10" height="10" fill="#696969"/><rect x="160" y="62" width="10" height="10" fill="#7d7d7d"/><rect x="170" y="62" width="10" height="10" fill="#494949"/><rect x="180" y="62" width="10" height="10" fill="#616161"/><rect x="190" y="62" width="10" height="10" fill="#4d4d4d"/><rect x="200" y="62" width="10" height="10" fill="#595959"/><rect x="210" y="62" width="10" height="10" fill="#777777"/><rect x="220" y="62" width="10" height="10" fill="#979797"/><rect x="230" y="62" width="10" height="10" fill="#bfbfbf"/><rect x="240" y="62" width="10" height="10" fill="#a9a9a9"/><rect x="250" y="62" width="10" height="10" fill="#989898"/><rect x="260" y="62" width="10" height="10" fill="#9c9c9c"/><rect x="270" y="62" width="30" height="10" fill="#909090"/><rect x="0" y="72" width="30" height="10" fill="#686868"/><rect x="30" y="72" width="10" height="10" fill="#464646"/><rect x="40" y="72" width="10" height="10" fill="#acacac"/><rect x="50" y="72" width="10" height="10" fill="#8c8c8c"/><rect x="60" y="72" width="10" height="10" fill="#9a9a9a"/><rect x="70" y="72" width="10" height="10" fill="#5d5d5d"/><rect x="80" y="72" width="10" height="10" fill="#636363"/><rect x="90" y="72" width="10" height="10" fill="#757575"/><rect x="100" y="72" width="10" height="10" fill="#666666"/><rect x="110" y="72" width="10" height="10" fill="#4e4e4e"/><rect x="120" y="72" width="10" height="10" fill="#9c9c9c"/><rect x="130" y="72" width="10" height="10" fill="#a5a5a5"/><rect x="140" y="72" width="10" height="10" fill="#939393"/><rect x="150" y="72" width="10" height="10" fill="#7d7d7d"/><rect x="160" y="72" width="10" height="10" fill="#b8b8b8"/><rect x="170" y="72" width="10" height="10" fill="#4c4c4c"/><rect x="180" y="72" width="10" height="10" fill="#757575"/><rect x="190" y="72" width="10" height="10" fill="#c3c3c3"/><rect x="200" y="72" width="10" height="10" fill="#5a5a5a"/><rect x="210" y="72" width="10" height="10" fill="#909090"/><rect x="220" y="72" width="10" height="10" fill="#6c6c6c"/><rect x="230" y="72" width="10" height="10" fill="#8d8d8d"/><rect x="240" y="72" width="10" height="10" fill="#585858"/><rect x="250" y="72" width="10" height="10" fill="#656565"/><rect x="260" y="72" width="10" height="10" fill="#595959"/><rect x="270" y="72" width="30" height="10" fill="#a0a0a0"/><rect x="0" y="82" width="30" height="10" fill="#4a4a4a"/><rect x="30" y="82" width="10" height="10" fill="#6c6c6c"/><rect x="40" y="82" width="10" height="10" fill="#454545"/><rect x="50" y="82" width="10" height="10" fill="#ababab"/><rect x="60" y="82" width="10" height="10" fill="#919191"/><rect x="70" y="82" width="10" height="10" fill="#a0a0a0"/><rect x="80" y="82" width="10" height="10" fill="#989898"/><rect x="90" y="82" width="10" height="10" fill="#c1c1c1"/><rect x="100" y="82" width="10" height="10" fill="#a0a0a0"/><rect x="110" y="82" width="10" height="10" fill="#5e5e5e"/><rect x="120" y="82" width="10" height="10" fill="#afafaf"/><rect x="130" y="82" width="10" height="10" fill="#969696"/><rect x="140" y="82" width="10" height="10" fill="#7e7e7e"/><rect x="150" y="82" width="10" height="10" fill="#8f8f8f"/><rect x="160" y="82" width="10" height="10" fill="#bcbcbc"/><rect x="170" y="82" width="10" height="10" fill="#6e6e6e"/><rect x="180" y="82" width="10" height="10" fill="#9d9d9d"/><rect x="190" y="82" width="10" height="10" fill="#969696"/><rect x="200" y="82" width="10" height="10" fill="#717171"/><rect x="210" y="82" width="10" height="10" fill="#a0a0a0"/><rect x="220" y="82" width="10" height="10" fill="#7b7b7b"/><rect x="230" y="82" width="10" height="10" fill="#616161"/><rect x="240" y="82" width="10" height="10" fill="#838383"/><rect x="250" y="82" width="10" height="10" fill="#7d7d7d"/><rect x="260" y="82" width="10" height="10" fill="#7e7e7e"/><rect x="270" y="82" width="30" height="10" fill="#737373"/><rect x="0" y="92" width="30" height="10" fill="#656565"/><rect x="30" y="92" width="10" height="10" fill="#4a4a4a"/><rect x="40" y="92" width="10" height="10" fill="#6d6d6d"/><rect x="50" y="92" width="10" height="10" fill="#4f4f4f"/><rect x="60" y="92" width="10" height="10" fill="#868686"/><rect x="70" y="92" width="10" height="10" fill="#7a7a7a"/><rect x="80" y="92" width="10" height="10" fill="#747474"/><rect x="90" y="92" width="10" height="10" fill="#a2a2a2"/><rect x="100" y="92" width="10" height="10" fill="#848484"/><rect x="110" y="92" width="10" height="10" fill="#5f5f5f"/><rect x="120" y="92" width="10" height="10" fill="#a9a9a9"/><rect x="130" y="92" width="10" height="10" fill="#5d5d5d"/><rect x="140" y="92" width="10" height="10" fill="#929292"/><rect x="150" y="92" width="10" height="10" fill="#9d9d9d"/><rect x="160" y="92" width="10" height="10" fill="#bababa"/><rect x="170" y="92" width="10" height="10" fill="#727272"/><rect x="180" y="92" width="10" height="10" fill="#9d9d9d"/><rect x="190" y="92" width="10" height="10" fill="#727272"/><rect x="200" y="92" width="10" height="10" fill="#767676"/><rect x="210" y="92" width="10" height="10" fill="#939393"/><rect x="220" y="92" width="10" height="10" fill="#636363"/><rect x="230" y="92" width="10" height="10" fill="#767676"/><rect x="240" y="92" width="10" height="10" fill="#6f6f6f"/><rect x="250" y="92" width="10" height="10" fill="#6e6e6e"/><rect x="260" y="92" width="10" height="10" fill="#797979"/><rect x="270" y="92" width="30" height="10" fill="#7a7a7a"/><rect x="0" y="102" width="30" height="10" fill="#636363"/><rect x="30" y="102" width="10" height="10" fill="#484848"/><rect x="40" y="102" width="10" height="10" fill="#3e3e3e"/><rect x="50" y="102" width="10" height="10" fill="#545454"/><rect x="60" y="102" width="10" height="10" fill="#353535"/><rect x="70" y="102" width="10" height="10" fill="#4f4f4f"/><rect x="80" y="102" width="10" height="10" fill="#515151"/><rect x="90" y="102" width="10" height="10" fill="#353535"/><rect x="100" y="102" width="10" height="10" fill="#989898"/><rect x="110" y="102" width="10" height="10" fill="#505050"/><rect x="120" y="102" width="10" height="10" fill="#e5e5e5"/><rect x="130" y="102" width="10" height="10" fill="#b9b9b9"/><rect x="140" y="102" width="10" height="10" fill="#3e3e3e"/><rect x="150" y="102" width="10" height="10" fill="#c0c0c0"/><rect x="160" y="102" width="10" height="10" fill="#a9a9a9"/><rect x="170" y="102" width="10" height="10" fill="#2d2d2d"/><rect x="180" y="102" width="10" height="10" fill="#a3a3a3"/><rect x="190" y="102" width="10" height="10" fill="#626262"/><rect x="200" y="102" width="10" height="10" fill="#6e6e6e"/><rect x="210" y="102" width="10" height="10" fill="#d5d5d5"/><rect x="220" y="102" width="10" height="10" fill="#d6d6d6"/><rect x="230" y="102" width="10" height="10" fill="#aaaaaa"/><rect x="240" y="102" width="10" height="10" fill="#b0b0b0"/><rect x="250" y="102" width="10" height="10" fill="#bababa"/><rect x="260" y="102" width="10" height="10" fill="#727272"/><rect x="270" y="102" width="30" height="10" fill="#7d7d7d"/><rect x="0" y="112" width="30" height="10" fill="#545454"/><rect x="30" y="112" width="10" height="10" fill="#8c8c8c"/><rect x="40" y="112" width="10" height="10" fill="#c0c0c0"/><rect x="50" y="112" width="10" height="10" fill="#656565"/><rect x="60" y="112" width="10" height="10" fill="#4b4b4b"/><rect x="70" y="112" width="10" height="10" fill="#5c5c5c"/><rect x="80" y="112" width="10" height="10" fill="#474747"/><rect x="90" y="112" width="10" height="10" fill="#6b6b6b"/><rect x="100" y="112" width="10" height="10" fill="#a0a0a0"/><rect x="110" y="112" width="10" height="10" fill="#808080"/><rect x="120" y="112" width="10" height="10" fill="#464646"/><rect x="130" y="112" width="10" height="10" fill="#5d5d5d"/><rect x="140" y="112" width="10" height="10" fill="#c3c3c3"/><rect x="150" y="112" width="10" height="10" fill="#ababab"/><rect x="160" y="112" width="10" height="10" fill="#959595"/><rect x="170" y="112" width="10" height="10" fill="#dbdbdb"/><rect x="180" y="112" width="10" height="10" fill="#bebebe"/><rect x="190" y="112" width="10" height="10" fill="#5a5a5a"/><rect x="200" y="112" width="10" height="10" fill="#838383"/><rect x="210" y="112" width="10" height="10" fill="#868686"/><rect x="220" y="112" width="10" height="10" fill="#6b6b6b"/><rect x="230" y="112" width="10" height="10" fill="#606060"/><rect x="240" y="112" width="10" height="10" fill="#626262"/><rect x="250" y="112" width="10" height="10" fill="#606060"/><rect x="260" y="112" width="10" height="10" fill="#6c6c6c"/><rect x="270" y="112" width="30" height="10" fill="#6a6a6a"/><rect x="0" y="122" width="30" height="10" fill="#787878"/><rect x="30" y="122" width="10" height="10" fill="#a3a3a3"/><rect x="40" y="122" width="10" height="10" fill="#9a9a9a"/><rect x="50" y="122" width="10" height="10" fill="#8e8e8e"/><rect x="60" y="122" width="10" height="10" fill="#6c6c6c"/><rect x="70" y="122" width="10" height="10" fill="#bdbdbd"/><rect x="80" y="122" width="10" height="10" fill="#6b6b6b"/><rect x="90" y="122" width="10" height="10" fill="#959595"/><rect x="100" y="122" width="10" height="10" fill="#8c8c8c"/><rect x="110" y="122" width="10" height="10" fill="#717171"/><rect x="120" y="122" width="10" height="10" fill="#444444"/><rect x="130" y="122" width="10" height="10" fill="#cccccc"/><rect x="140" y="122" width="10" height="10" fill="#cecece"/><rect x="150" y="122" width="10" height="10" fill="#b0b0b0"/><rect x="160" y="122" width="10" height="10" fill="#9f9f9f"/><rect x="170" y="122" width="10" height="10" fill="#999999"/><rect x="180" y="122" width="10" height="10" fill="#8e8e8e"/><rect x="190" y="122" width="10" height="10" fill="#7c7c7c"/><rect x="200" y="122" width="10" height="10" fill="#545454"/><rect x="210" y="122" width="10" height="10" fill="#575757"/><rect x="220" y="122" width="10" height="10" fill="#727272"/><rect x="230" y="122" width="10" height="10" fill="#707070"/><rect x="240" y="122" width="10" height="10" fill="#717171"/><rect x="250" y="122" width="10" height="10" fill="#6d6d6d"/><rect x="260" y="122" width="10" height="10" fill="#6c6c6c"/><rect x="270" y="122" width="30" height="10" fill="#6d6d6d"/><rect x="0" y="132" width="30" height="10" fill="#838383"/><rect x="30" y="132" width="10" height="10" fill="#545454"/><rect x="40" y="132" width="10" height="10" fill="#3e3e3e"/><rect x="50" y="132" width="10" height="10" fill="#818181"/><rect x="60" y="132" width="10" height="10" fill="#a1a1a1"/><rect x="70" y="132" width="10" height="10" fill="#a6a6a6"/><rect x="80" y="132" width="10" height="10" fill="#acacac"/><rect x="90" y="132" width="10" height="10" fill="#565656"/><rect x="100" y="132" width="10" height="10" fill="#626262"/><rect x="110" y="132" width="10" height="10" fill="#3c3c3c"/><rect x="120" y="132" width="10" height="10" fill="#a6a6a6"/><rect x="130" y="132" width="10" height="10" fill="#919191"/><rect x="140" y="132" width="10" height="10" fill="#363636"/><rect x="150" y="132" width="10" height="10" fill="#939393"/><rect x="160" y="132" width="10" height="10" fill="#9b9b9b"/><rect x="170" y="132" width="10" height="10" fill="#9f9f9f"/><rect x="180" y="132" width="10" height="10" fill="#939393"/><rect x="190" y="132" width="10" height="10" fill="#898989"/><rect x="200" y="132" width="10" height="10" fill="#6b6b6b"/><rect x="210" y="132" width="10" height="10" fill="#636363"/><rect x="220" y="132" width="10" height="10" fill="#5c5c5c"/><rect x="230" y="132" width="10" height="10" fill="#5d5d5d"/><rect x="240" y="132" width="10" height="10" fill="#5a5a5a"/><rect x="250" y="132" width="10" height="10" fill="#727272"/><rect x="260" y="132" width="10" height="10" fill="#6f6f6f"/><rect x="270" y="132" width="30" height="10" fill="#6c6c6c"/><rect x="0" y="142" width="30" height="10" fill="#5b5b5b"/><rect x="30" y="142" width="10" height="10" fill="#5d5d5d"/><rect x="40" y="142" width="10" height="10" fill="#4c4c4c"/><rect x="50" y="142" width="10" height="10" fill="#4b4b4b"/><rect x="60" y="142" width="10" height="10" fill="#636363"/><rect x="70" y="142" width="10" height="10" fill="#757575"/><rect x="80" y="142" width="10" height="10" fill="#3d3d3d"/><rect x="90" y="142" width="10" height="10" fill="#989898"/><rect x="100" y="142" width="10" height="10" fill="#bcbcbc"/><rect x="110" y="142" width="10" height="10" fill="#cdcdcd"/><rect x="120" y="142" width="10" height="10" fill="#c1c1c1"/><rect x="130" y="142" width="10" height="10" fill="#222222"/><rect x="140" y="142" width="10" height="10" fill="#767676"/><rect x="150" y="142" width="10" height="10" fill="#b6b6b6"/><rect x="160" y="142" width="10" height="10" fill="#bfbfbf"/><rect x="170" y="142" width="10" height="10" fill="#b7b7b7"/><rect x="180" y="142" width="10" height="10" fill="#929292"/><rect x="190" y="142" width="10" height="10" fill="#8e8e8e"/><rect x="200" y="142" width="10" height="10" fill="#7d7d7d"/><rect x="210" y="142" width="10" height="10" fill="#434343"/><rect x="220" y="142" width="10" height="10" fill="#656565"/><rect x="230" y="142" width="10" height="10" fill="#5f5f5f"/><rect x="240" y="142" width="10" height="10" fill="#616161"/><rect x="250" y="142" width="10" height="10" fill="#5d5d5d"/><rect x="260" y="142" width="10" height="10" fill="#5a5a5a"/><rect x="270" y="142" width="30" height="10" fill="#727272"/><rect x="0" y="152" width="30" height="10" fill="#555555"/><rect x="30" y="152" width="10" height="10" fill="#959595"/><rect x="40" y="152" width="10" height="10" fill="#6e6e6e"/><rect x="50" y="152" width="10" height="10" fill="#cecece"/><rect x="60" y="152" width="10" height="10" fill="#696969"/><rect x="70" y="152" width="10" height="10" fill="#a7a7a7"/><rect x="80" y="152" width="10" height="10" fill="#979797"/><rect x="90" y="152" width="10" height="10" fill="#484848"/><rect x="100" y="152" width="10" height="10" fill="#b2b2b2"/><rect x="110" y="152" width="10" height="10" fill="#bebebe"/><rect x="120" y="152" width="10" height="10" fill="#a9a9a9"/><rect x="130" y="152" width="10" height="10" fill="#939393"/><rect x="140" y="152" width="10" height="10" fill="#d2d2d2"/><rect x="150" y="152" width="10" height="10" fill="#b3b3b3"/><rect x="160" y="152" width="10" height="10" fill="#c5c5c5"/><rect x="170" y="152" width="10" height="10" fill="#858585"/><rect x="180" y="152" width="10" height="10" fill="#868686"/><rect x="190" y="152" width="10" height="10" fill="#4c4c4c"/><rect x="200" y="152" width="10" height="10" fill="#9b9b9b"/><rect x="210" y="152" width="10" height="10" fill="#5a5a5a"/><rect x="220" y="152" width="10" height="10" fill="#616161"/><rect x="230" y="152" width="20" height="10" fill="#5f5f5f"/><rect x="250" y="152" width="10" height="10" fill="#606060"/><rect x="260" y="152" width="10" height="10" fill="#616161"/><rect x="270" y="152" width="30" height="10" fill="#5d5d5d"/><rect x="0" y="162" width="30" height="10" fill="#6f6f6f"/><rect x="30" y="162" width="10" height="10" fill="#aeaeae"/><rect x="40" y="162" width="10" height="10" fill="#717171"/><rect x="50" y="162" width="10" height="10" fill="#e2e2e2"/><rect x="60" y="162" width="10" height="10" fill="#6f6f6f"/><rect x="70" y="162" width="10" height="10" fill="#717171"/><rect x="80" y="162" width="10" height="10" fill="#767676"/><rect x="90" y="162" width="10" height="10" fill="#bfbfbf"/><rect x="100" y="162" width="10" height="10" fill="#393939"/><rect x="110" y="162" width="10" height="10" fill="#ababab"/><rect x="120" y="162" width="10" height="10" fill="#c2c2c2"/><rect x="130" y="162" width="10" height="10" fill="#a0a0a0"/><rect x="140" y="162" width="10" height="10" fill="#9c9c9c"/><rect x="150" y="162" width="10" height="10" fill="#cccccc"/><rect x="160" y="162" width="10" height="10" fill="#a1a1a1"/><rect x="170" y="162" width="10" height="10" fill="#959595"/><rect x="180" y="162" width="10" height="10" fill="#a0a0a0"/><rect x="190" y="162" width="10" height="10" fill="#c6c6c6"/><rect x="200" y="162" width="10" height="10" fill="#727272"/><rect x="210" y="162" width="10" height="10" fill="#595959"/><rect x="220" y="162" width="10" height="10" fill="#5d5d5d"/><rect x="230" y="162" width="20" height="10" fill="#606060"/><rect x="250" y="162" width="20" height="10" fill="#5f5f5f"/><rect x="270" y="162" width="30" height="10" fill="#606060"/><rect x="0" y="172" width="30" height="10" fill="#3b3b3b"/><rect x="30" y="172" width="10" height="10" fill="#3d3d3d"/><rect x="40" y="172" width="10" height="10" fill="#a4a4a4"/><rect x="50" y="172" width="10" height="10" fill="#565656"/><rect x="60" y="172" width="10" height="10" fill="#595959"/><rect x="70" y="172" width="10" height="10" fill="#888888"/><rect x="80" y="172" width="10" height="10" fill="#b3b3b3"/><rect x="90" y="172" width="10" height="10" fill="#c4c4c4"/><rect x="100" y="172" width="10" height="10" fill="#3c3c3c"/><rect x="110" y="172" width="10" height="10" fill="#7b7b7b"/><rect x="120" y="172" width="10" height="10" fill="#cacaca"/><rect x="130" y="172" width="10" height="10" fill="#838383"/><rect x="140" y="172" width="10" height="10" fill="#5a5a5a"/><rect x="150" y="172" width="10" height="10" fill="#919191"/><rect x="160" y="172" width="10" height="10" fill="#515151"/><rect x="170" y="172" width="10" height="10" fill="#8a8a8a"/><rect x="180" y="172" width="10" height="10" fill="#2c2c2c"/><rect x="190" y="172" width="10" height="10" fill="#464646"/><rect x="200" y="172" width="10" height="10" fill="#717171"/><rect x="210" y="172" width="10" height="10" fill="#6e6e6e"/><rect x="220" y="172" width="10" height="10" fill="#727272"/><rect x="230" y="172" width="10" height="10" fill="#5a5a5a"/><rect x="240" y="172" width="10" height="10" fill="#5d5d5d"/><rect x="250" y="172" width="20" height="10" fill="#606060"/><rect x="270" y="172" width="30" height="10" fill="#5f5f5f"/><rect x="0" y="182" width="30" height="10" fill="#5c5c5c"/><rect x="30" y="182" width="10" height="10" fill="#424242"/><rect x="40" y="182" width="10" height="10" fill="#494949"/><rect x="50" y="182" width="10" height="10" fill="#6f6f6f"/><rect x="60" y="182" width="10" height="10" fill="#3d3d3d"/><rect x="70" y="182" width="10" height="10" fill="#929292"/><rect x="80" y="182" width="10" height="10" fill="#cfcfcf"/><rect x="90" y="182" width="10" height="10" fill="#8d8d8d"/><rect x="100" y="182" width="10" height="10" fill="#454545"/><rect x="110" y="182" width="10" height="10" fill="#333333"/><rect x="120" y="182" width="10" height="10" fill="#505050"/><rect x="130" y="182" width="20" height="10" fill="#696969"/><rect x="150" y="182" width="10" height="10" fill="#555555"/><rect x="160" y="182" width="10" height="10" fill="#989898"/><rect x="170" y="182" width="10" height="10" fill="#4d4d4d"/><rect x="180" y="182" width="10" height="10" fill="#adadad"/><rect x="190" y="182" width="10" height="10" fill="#a7a7a7"/><rect x="200" y="182" width="10" height="10" fill="#5a5a5a"/><rect x="210" y="182" width="10" height="10" fill="#707070"/><rect x="220" y="182" width="10" height="10" fill="#6b6b6b"/><rect x="230" y="182" width="10" height="10" fill="#6f6f6f"/><rect x="240" y="182" width="10" height="10" fill="#727272"/><rect x="250" y="182" width="10" height="10" fill="#5a5a5a"/><rect x="260" y="182" width="10" height="10" fill="#5d5d5d"/><rect x="270" y="182" width="30" height="10" fill="#606060"/><rect x="0" y="192" width="30" height="10" fill="#434343"/><rect x="30" y="192" width="10" height="10" fill="#484848"/><rect x="40" y="192" width="10" height="10" fill="#404040"/><rect x="50" y="192" width="10" height="10" fill="#3b3b3b"/><rect x="60" y="192" width="10" height="10" fill="#6c6c6c"/><rect x="70" y="192" width="10" height="10" fill="#c7c7c7"/><rect x="80" y="192" width="10" height="10" fill="#8b8b8b"/><rect x="90" y="192" width="10" height="10" fill="#a1a1a1"/><rect x="100" y="192" width="10" height="10" fill="#808080"/><rect x="110" y="192" width="10" height="10" fill="#616161"/><rect x="120" y="192" width="10" height="10" fill="#727272"/><rect x="130" y="192" width="10" height="10" fill="#797979"/><rect x="140" y="192" width="10" height="10" fill="#9b9b9b"/><rect x="150" y="192" width="10" height="10" fill="#b0b0b0"/><rect x="160" y="192" width="10" height="10" fill="#9f9f9f"/><rect x="170" y="192" width="10" height="10" fill="#afafaf"/><rect x="180" y="192" width="10" height="10" fill="#8c8c8c"/><rect x="190" y="192" width="10" height="10" fill="#8e8e8e"/><rect x="200" y="192" width="10" height="10" fill="#a5a5a5"/><rect x="210" y="192" width="10" height="10" fill="#5a5a5a"/><rect x="220" y="192" width="10" height="10" fill="#717171"/><rect x="230" y="192" width="10" height="10" fill="#6b6b6b"/><rect x="240" y="192" width="10" height="10" fill="#6c6c6c"/><rect x="250" y="192" width="10" height="10" fill="#6f6f6f"/><rect x="260" y="192" width="10" height="10" fill="#727272"/><rect x="270" y="192" width="30" height="10" fill="#5a5a5a"/><rect x="0" y="202" width="30" height="10" fill="#484848"/><rect x="30" y="202" width="10" height="10" fill="#3f3f3f"/><rect x="40" y="202" width="10" height="10" fill="#727272"/><rect x="50" y="202" width="10" height="10" fill="#363636"/><rect x="60" y="202" width="10" height="10" fill="#727272"/><rect x="70" y="202" width="10" height="10" fill="#9c9c9c"/><rect x="80" y="202" width="10" height="10" fill="#4a4a4a"/><rect x="90" y="202" width="10" height="10" fill="#656565"/><rect x="100" y="202" width="10" height="10" fill="#818181"/><rect x="110" y="202" width="10" height="10" fill="#515151"/><rect x="120" y="202" width="10" height="10" fill="#6e6e6e"/><rect x="130" y="202" width="10" height="10" fill="#767676"/><rect x="140" y="202" width="10" height="10" fill="#979797"/><rect x="150" y="202" width="10" height="10" fill="#8a8a8a"/><rect x="160" y="202" width="10" height="10" fill="#a5a5a5"/><rect x="170" y="202" width="10" height="10" fill="#9f9f9f"/><rect x="180" y="202" width="10" height="10" fill="#919191"/><rect x="190" y="202" width="10" height="10" fill="#949494"/><rect x="200" y="202" width="10" height="10" fill="#8e8e8e"/><rect x="210" y="202" width="10" height="10" fill="#a5a5a5"/><rect x="220" y="202" width="10" height="10" fill="#5a5a5a"/><rect x="230" y="202" width="10" height="10" fill="#6f6f6f"/><rect x="240" y="202" width="20" height="10" fill="#6c6c6c"/><rect x="260" y="202" width="10" height="10" fill="#6b6b6b"/><rect x="270" y="202" width="30" height="10" fill="#6f6f6f"/><rect x="0" y="212" width="30" height="30" fill="#474747"/><rect x="30" y="212" width="10" height="30" fill="#414141"/><rect x="40" y="212" width="10" height="30" fill="#656565"/><rect x="50" y="212" width="10" height="30" fill="#565656"/><rect x="60" y="212" width="10" height="30" fill="#404040"/><rect x="70" y="212" width="10" height="30" fill="#aaaaaa"/><rect x="80" y="212" width="10" height="30" fill="#535353"/><rect x="90" y="212" width="10" height="30" fill="#707070"/><rect x="100" y="212" width="10" height="30" fill="#7a7a7a"/><rect x="110" y="212" width="10" height="30" fill="#818181"/><rect x="120" y="212" width="10" height="30" fill="#686868"/><rect x="130" y="212" width="10" height="30" fill="#777777"/><rect x="140" y="212" width="10" height="30" fill="#979797"/><rect x="150" y="212" width="10" height="30" fill="#939393"/><rect x="160" y="212" width="10" height="30" fill="#8d8d8d"/><rect x="170" y="212" width="10" height="30" fill="#a5a5a5"/><rect x="180" y="212" width="10" height="30" fill="#909090"/><rect x="190" y="212" width="20" height="30" fill="#939393"/><rect x="210" y="212" width="10" height="30" fill="#8f8f8f"/><rect x="220" y="212" width="10" height="30" fill="#a2a2a2"/><rect x="230" y="212" width="10" height="30" fill="#646464"/><rect x="240" y="212" width="10" height="30" fill="#6e6e6e"/><rect x="250" y="212" width="10" height="30" fill="#6c6c6c"/><rect x="260" y="212" width="10" height="30" fill="#6d6d6d"/><rect x="270" y="212" width="30" height="30" fill="#6c6c6c"/></g></g><g fill="#000"><path d="M97.6 81.6L99.3 78.6L101.0 81.6z"/><path d="M145.2 99.1L146.8 96.1L148.5 99.1z"/><path d="M127.8 107.6L129.5 104.6L131.2 107.6z"/><path d="M117.0 112.5L118.7 109.5L120.4 112.5z"/><path d="M134.0 112.5L135.7 109.5L137.3 112.5z"/><path d="M153.0 45.9L154.7 43.0L156.3 45.9z"/><path d="M246.0 30.0L247.7 27.1L249.3 30.0z"/><path d="M250.8 29.4L252.5 26.5L254.2 29.4z"/><path d="M257.5 35.1L259.1 32.1L260.8 35.1z"/><path d="M260.4 48.8L262.0 45.9L263.6 48.8z"/><path d="M195.8 60.7L197.4 57.8L199.1 60.7z"/><path d="M217.2 61.7L218.9 58.8L220.6 61.7z"/><path d="M247.0 66.1L248.7 63.1L250.3 66.1z"/><path d="M244.2 68.3L245.8 65.3L247.5 68.3z"/><path d="M171.4 76.5L173.1 73.5L174.8 76.5z"/><path d="M192.5 79.1L194.2 76.1L195.8 79.1z"/><path d="M183.4 93.0L185.1 90.0L186.8 93.0z"/><path d="M190.4 94.5L192.1 91.5L193.8 94.5z"/><path d="M207.2 93.6L208.8 90.6L210.5 93.6z"/><path d="M200.5 96.8L202.2 93.8L203.8 96.8z"/><path d="M178.2 98.7L179.8 95.8L181.5 98.7z"/><path d="M177.8 101.0L179.4 98.0L181.1 101.0z"/><path d="M163.2 100.0L164.8 97.0L166.5 100.0z"/><path d="M231.8 105.7L233.5 102.8L235.2 105.7z"/><path d="M235.2 103.4L236.9 100.4L238.6 103.4z"/><path d="M217.7 106.7L219.3 103.8L221.0 106.7z"/><path d="M221.3 107.6L223.0 104.6L224.7 107.6z"/><path d="M185.3 107.3L187.0 104.3L188.7 107.3z"/><path d="M187.2 108.2L188.9 105.2L190.6 108.2z"/><path d="M171.2 111.3L172.8 108.3L174.5 111.3z"/><path d="M178.3 112.3L180.0 109.3L181.7 112.3z"/><path d="M188.3 112.8L190.0 109.8L191.7 112.8z"/><path d="M214.8 112.0L216.4 109.0L218.1 112.0z"/><path d="M228.0 111.0L229.7 108.0L231.3 111.0z"/><path d="M107.5 114.3L109.2 111.3L110.9 114.3z"/><path d="M117.0 113.9L118.7 110.9L120.4 113.9z"/><path d="M134.0 113.9L135.7 110.9L137.3 113.9z"/><path d="M100.8 122.8L102.5 119.8L104.2 122.8z"/><path d="M100.3 125.6L102.0 122.6L103.7 125.6z"/><path d="M112.2 123.2L113.9 120.2L115.6 123.2z"/><path d="M139.8 126.2L141.4 123.2L143.1 126.2z"/><path d="M143.5 125.6L145.2 122.6L146.8 125.6z"/><path d="M142.7 127.0L144.3 124.0L146.0 127.0z"/><path d="M135.0 132.7L136.7 129.8L138.3 132.7z"/><path d="M34.0 131.7L35.6 128.8L37.2 131.7z"/><path d="M37.4 130.8L39.0 127.8L40.6 130.8z"/><path d="M24.1 136.1L25.7 133.2L27.3 136.1z"/><path d="M26.4 135.7L28.0 132.8L29.6 135.7z"/><path d="M27.9 135.3L29.5 132.3L31.1 135.3z"/><path d="M25.0 139.9L26.6 136.9L28.2 139.9z"/><path d="M26.0 140.3L27.6 137.3L29.2 140.3z"/><path d="M72.4 135.1L74.1 132.2L75.8 135.1z"/><path d="M95.2 142.1L96.9 139.2L98.6 142.1z"/><path d="M38.6 149.3L40.3 146.3L41.9 149.3z"/><path d="M103.8 149.7L105.4 146.8L107.1 149.7z"/><path d="M129.3 147.8L131.0 144.8L132.7 147.8z"/><path d="M52.6 160.7L54.2 157.8L55.9 160.7z"/><path d="M51.0 163.0L52.6 160.0L54.2 163.0z"/><path d="M53.5 163.6L55.1 160.7L56.8 163.6z"/><path d="M54.5 164.2L56.1 161.2L57.8 164.2z"/><path d="M55.4 169.8L57.0 166.8L58.6 169.8z"/><path d="M33.1 168.9L34.8 165.9L36.4 168.9z"/><path d="M126.5 173.6L128.2 170.7L129.8 173.6z"/><path d="M46.9 175.9L48.5 172.9L50.1 175.9z"/><path d="M45.9 177.8L47.5 174.8L49.1 177.8z"/><path d="M49.6 178.4L51.3 175.4L52.9 178.4z"/><path d="M45.5 179.3L47.1 176.3L48.8 179.3z"/><path d="M58.1 190.2L59.8 187.2L61.4 190.2z"/><path d="M75.2 200.6L76.9 197.7L78.6 200.6z"/><path d="M77.1 202.9L78.8 199.9L80.5 202.9z"/><path d="M161.7 113.9L163.3 110.9L165.0 113.9z"/><path d="M171.2 114.3L172.8 111.3L174.5 114.3z"/><path d="M174.9 115.2L176.6 112.2L178.2 115.2z"/><path d="M170.3 117.3L172.0 114.3L173.7 117.3z"/><path d="M173.3 119.3L175.0 116.3L176.7 119.3z"/><path d="M176.3 118.3L178.0 115.3L179.7 118.3z"/><path d="M179.3 117.3L181.0 114.3L182.7 117.3z"/><path d="M182.3 116.3L184.0 113.3L185.7 116.3z"/><path d="M185.3 115.3L187.0 112.3L188.7 115.3z"/><path d="M188.3 114.3L190.0 111.3L191.7 114.3z"/><path d="M174.3 121.3L176.0 118.3L177.7 121.3z"/><path d="M178.3 121.3L180.0 118.3L181.7 121.3z"/><path d="M182.3 119.3L184.0 116.3L185.7 119.3z"/><path d="M166.3 126.2L168.0 123.2L169.7 126.2z"/><path d="M178.8 123.7L180.4 120.8L182.1 123.7z"/><path d="M217.7 120.5L219.3 117.5L221.0 120.5z"/><path d="M209.0 113.9L210.7 110.9L212.3 113.9z"/><path d="M226.2 113.3L227.8 110.3L229.5 113.3z"/><path d="M177.8 143.7L179.4 140.8L181.1 143.7z"/><path d="M175.8 147.8L177.5 144.8L179.2 147.8z"/><path d="M176.8 150.3L178.5 147.3L180.2 150.3z"/><path d="M176.4 152.2L178.1 149.2L179.8 152.2z"/><path d="M188.2 148.8L189.8 145.8L191.5 148.8z"/><path d="M171.2 151.3L172.8 148.3L174.5 151.3z"/><path d="M173.0 153.1L174.7 150.2L176.3 153.1z"/><path d="M173.9 155.0L175.6 152.0L177.2 155.0z"/><path d="M172.0 154.1L173.7 151.2L175.3 154.1z"/><path d="M156.8 153.5L158.5 150.5L160.2 153.5z"/><path d="M162.5 153.5L164.2 150.5L165.8 153.5z"/><path d="M156.8 157.3L158.5 154.3L160.2 157.3z"/><path d="M164.4 158.8L166.1 155.8L167.8 158.8z"/><path d="M168.2 158.3L169.9 155.3L171.6 158.3z"/><path d="M170.8 157.9L172.4 154.9L174.1 157.9z"/><path d="M204.3 157.3L206.0 154.3L207.7 157.3z"/><path d="M205.2 157.9L206.9 154.9L208.6 157.9z"/><path d="M182.2 164.5L183.8 161.5L185.5 164.5z"/><path d="M195.3 167.3L197.0 164.3L198.7 167.3z"/><path d="M195.8 169.7L197.4 166.8L199.1 169.7z"/><path d="M163.9 169.8L165.6 166.8L167.2 169.8z"/><path d="M178.2 182.6L179.8 179.7L181.5 182.6z"/><path d="M174.9 200.0L176.6 197.0L178.2 200.0z"/><path d="M251.8 23.4L254.4 18.7L257.0 23.4z"/></g><rect x="8.5" y="7.5" width="322" height="219.5" fill="none" stroke="#595959" stroke-width="1"/><g stroke="#333" stroke-width="0.8"><path d="M32.7 7.5v-2M119.2 7.5v-2M206 7.5v-2M292.5 7.5v-2M34.4 226.8v-1.8M122.2 226.8v-1.8M213.8 226.8v-1.8M303.5 226.8v-1.8M8.5 96.5h-1.8M8.5 197.5h-1.8M330.5 88h-1.8M330.5 187h-1.8"/></g><g class="ax"><text x="19.8" y="6.5" textLength="34.6" lengthAdjust="spacingAndGlyphs">111°0'0"E</text><text x="107.2" y="6.5" textLength="34.6" lengthAdjust="spacingAndGlyphs">113°0'0"E</text><text x="194.9" y="6.5" textLength="34.6" lengthAdjust="spacingAndGlyphs">115°0'0"E</text><text x="282.7" y="6.5" textLength="34.6" lengthAdjust="spacingAndGlyphs">117°0'0"E</text><text x="15.1" y="236.0" textLength="34.7" lengthAdjust="spacingAndGlyphs">111°0'0"E</text><text x="106.0" y="236.0" textLength="34.7" lengthAdjust="spacingAndGlyphs">113°0'0"E</text><text x="197.0" y="236.0" textLength="34.7" lengthAdjust="spacingAndGlyphs">115°0'0"E</text><text x="288.8" y="236.0" textLength="34.7" lengthAdjust="spacingAndGlyphs">117°0'0"E</text><text transform="translate(6.9,105.6) rotate(-90)" textLength="31.5" lengthAdjust="spacingAndGlyphs">26°0'0"N</text><text transform="translate(6.9,203.6) rotate(-90)" textLength="31.5" lengthAdjust="spacingAndGlyphs">24°0'0"N</text><text transform="translate(332.1,70.8) rotate(90)" textLength="31.8" lengthAdjust="spacingAndGlyphs">26°0'0"N</text><text transform="translate(332.1,170.3) rotate(90)" textLength="31.8" lengthAdjust="spacingAndGlyphs">24°0'0"N</text></g><text class="n" x="20.4" y="22.2">N</text><path d="M23.8 24.6L16.2 48.8L23.8 39.6z" fill="#000"/><path d="M23.7 25.5L30.7 47.8L23.7 39.6z" fill="#fff" stroke="#000" stroke-width="0.8" stroke-linejoin="miter"/><text class="lt" y="20.8"><tspan x="307.0" y="20.8" font-size="9.9">(</tspan><tspan x="311.5" y="20.8">d</tspan><tspan x="317.3" y="20.8" font-size="9.9">)</tspan></text><rect x="120.7" y="219.6" width="54.3" height="3.2" fill="#fff" stroke="#000" stroke-width="0.6"/><rect x="120.7" y="219.6" width="27" height="3.2" fill="#000"/><g class="sb"><text x="121" y="217" text-anchor="middle">0</text><text x="147.6" y="217" text-anchor="middle">60</text><text x="174.6" y="217" text-anchor="middle">120</text><text x="178.6" y="225.2">km</text></g><path d="M256.3 109.5L259.6 104.2L262.9 109.5z" fill="#000"/><text class="lg w" x="270.7" y="108.9"><tspan textLength="5.6" lengthAdjust="spacingAndGlyphs">W</tspan> <tspan x="279.8" textLength="19.8" lengthAdjust="spacingAndGlyphs">deposit</tspan></text><rect x="251.4" y="112.30" width="16.2" height="7.9" fill="rgb(0,0,255)" stroke="#8a8a8a" stroke-width="0.5"/><text class="lg" y="118.80"><tspan x="270.2">1.</tspan> <tspan x="277.8" textLength="9.3" lengthAdjust="spacingAndGlyphs">511</tspan> <tspan x="290.9">-</tspan> <tspan x="296.8">1.</tspan> <tspan x="304.4" textLength="9.3" lengthAdjust="spacingAndGlyphs">976</tspan></text><rect x="251.4" y="123.05" width="16.2" height="7.9" fill="rgb(51,87,255)" stroke="#8a8a8a" stroke-width="0.5"/><text class="lg" y="129.55"><tspan x="270.2">1.</tspan> <tspan x="277.8" textLength="9.3" lengthAdjust="spacingAndGlyphs">977</tspan> <tspan x="290.9">-</tspan> <tspan x="296.8">2.</tspan> <tspan x="304.4" textLength="9.3" lengthAdjust="spacingAndGlyphs">122</tspan></text><rect x="251.4" y="133.80" width="16.2" height="7.9" fill="rgb(56,163,255)" stroke="#8a8a8a" stroke-width="0.5"/><text class="lg" y="140.30"><tspan x="270.2">2.</tspan> <tspan x="277.8" textLength="9.3" lengthAdjust="spacingAndGlyphs">123</tspan> <tspan x="290.9">-</tspan> <tspan x="296.8">2.</tspan> <tspan x="304.4" textLength="9.3" lengthAdjust="spacingAndGlyphs">239</tspan></text><rect x="251.4" y="144.55" width="16.2" height="7.9" fill="rgb(0,255,255)" stroke="#8a8a8a" stroke-width="0.5"/><text class="lg" y="151.05"><tspan x="270.2">2.</tspan> <tspan x="277.8" textLength="9.3" lengthAdjust="spacingAndGlyphs">240</tspan> <tspan x="290.9">-</tspan> <tspan x="296.8">2.</tspan> <tspan x="304.4" textLength="9.3" lengthAdjust="spacingAndGlyphs">362</tspan></text><rect x="251.4" y="155.30" width="16.2" height="7.9" fill="rgb(145,255,180)" stroke="#8a8a8a" stroke-width="0.5"/><text class="lg" y="161.80"><tspan x="270.2">2.</tspan> <tspan x="277.8" textLength="9.3" lengthAdjust="spacingAndGlyphs">363</tspan> <tspan x="290.9">-</tspan> <tspan x="296.8">2.</tspan> <tspan x="304.4" textLength="9.3" lengthAdjust="spacingAndGlyphs">498</tspan></text><rect x="251.4" y="166.05" width="16.2" height="7.9" fill="rgb(209,255,105)" stroke="#8a8a8a" stroke-width="0.5"/><text class="lg" y="172.55"><tspan x="270.2">2.</tspan> <tspan x="277.8" textLength="9.3" lengthAdjust="spacingAndGlyphs">499</tspan> <tspan x="290.9">-</tspan> <tspan x="296.8">2.</tspan> <tspan x="304.4" textLength="9.3" lengthAdjust="spacingAndGlyphs">643</tspan></text><rect x="251.4" y="176.80" width="16.2" height="7.9" fill="rgb(255,255,0)" stroke="#8a8a8a" stroke-width="0.5"/><text class="lg" y="183.30"><tspan x="270.2">2.</tspan> <tspan x="277.8" textLength="9.3" lengthAdjust="spacingAndGlyphs">644</tspan> <tspan x="290.9">-</tspan> <tspan x="296.8">2.</tspan> <tspan x="304.4" textLength="9.3" lengthAdjust="spacingAndGlyphs">803</tspan></text><rect x="251.4" y="187.55" width="16.2" height="7.9" fill="rgb(255,183,0)" stroke="#8a8a8a" stroke-width="0.5"/><text class="lg" y="194.05"><tspan x="270.2">2.</tspan> <tspan x="277.8" textLength="9.3" lengthAdjust="spacingAndGlyphs">804</tspan> <tspan x="290.9">-</tspan> <tspan x="296.8">3.</tspan> <tspan x="304.4" textLength="9.3" lengthAdjust="spacingAndGlyphs">018</tspan></text><rect x="251.4" y="198.30" width="16.2" height="7.9" fill="rgb(255,111,0)" stroke="#8a8a8a" stroke-width="0.5"/><text class="lg" y="204.80"><tspan x="270.2">3.</tspan> <tspan x="277.8" textLength="9.3" lengthAdjust="spacingAndGlyphs">019</tspan> <tspan x="290.9">-</tspan> <tspan x="296.8">3.</tspan> <tspan x="304.4" textLength="9.3" lengthAdjust="spacingAndGlyphs">356</tspan></text><rect x="251.4" y="209.05" width="16.2" height="7.9" fill="rgb(255,0,0)" stroke="#8a8a8a" stroke-width="0.5"/><text class="lg" y="215.55"><tspan x="271.7">3.</tspan> <tspan x="279.3" textLength="9.3" lengthAdjust="spacingAndGlyphs">357</tspan> <tspan x="292.4">-</tspan> <tspan x="298.3">7.</tspan> <tspan x="305.9" textLength="9.3" lengthAdjust="spacingAndGlyphs">175</tspan></text></g><g transform="translate(0,484)"><g clip-path="url(#reg)"><g filter="url(#hme)"><rect x="0" y="-8" width="30" height="30" fill="#909090"/><rect x="30" y="-8" width="10" height="30" fill="#a4a4a4"/><rect x="40" y="-8" width="10" height="30" fill="#272727"/><rect x="50" y="-8" width="10" height="30" fill="#4b4b4b"/><rect x="60" y="-8" width="10" height="30" fill="#454545"/><rect x="70" y="-8" width="60" height="30" fill="#464646"/><rect x="130" y="-8" width="10" height="30" fill="#454545"/><rect x="140" y="-8" width="10" height="30" fill="#4a4a4a"/><rect x="150" y="-8" width="10" height="30" fill="#545454"/><rect x="160" y="-8" width="30" height="30" fill="#535353"/><rect x="190" y="-8" width="10" height="30" fill="#555555"/><rect x="200" y="-8" width="10" height="30" fill="#4f4f4f"/><rect x="210" y="-8" width="10" height="30" fill="#6f6f6f"/><rect x="220" y="-8" width="10" height="30" fill="#787878"/><rect x="230" y="-8" width="10" height="30" fill="#808080"/><rect x="240" y="-8" width="10" height="30" fill="#6f6f6f"/><rect x="250" y="-8" width="10" height="30" fill="#bababa"/><rect x="260" y="-8" width="10" height="30" fill="#8c8c8c"/><rect x="270" y="-8" width="30" height="30" fill="#3a3a3a"/><rect x="0" y="22" width="30" height="10" fill="#939393"/><rect x="30" y="22" width="10" height="10" fill="#8d8d8d"/><rect x="40" y="22" width="10" height="10" fill="#b4b4b4"/><rect x="50" y="22" width="10" height="10" fill="#383838"/><rect x="60" y="22" width="10" height="10" fill="#494949"/><rect x="70" y="22" width="50" height="10" fill="#464646"/><rect x="120" y="22" width="10" height="10" fill="#494949"/><rect x="130" y="22" width="10" height="10" fill="#373737"/><rect x="140" y="22" width="10" height="10" fill="#a8a8a8"/><rect x="150" y="22" width="10" height="10" fill="#494949"/><rect x="160" y="22" width="10" height="10" fill="#545454"/><rect x="170" y="22" width="10" height="10" fill="#555555"/><rect x="180" y="22" width="10" height="10" fill="#4e4e4e"/><rect x="190" y="22" width="20" height="10" fill="#4b4b4b"/><rect x="210" y="22" width="10" height="10" fill="#6c6c6c"/><rect x="220" y="22" width="10" height="10" fill="#8e8e8e"/><rect x="230" y="22" width="10" height="10" fill="#545454"/><rect x="240" y="22" width="10" height="10" fill="#6e6e6e"/><rect x="250" y="22" width="10" height="10" fill="#c3c3c3"/><rect x="260" y="22" width="10" height="10" fill="#727272"/><rect x="270" y="22" width="30" height="10" fill="#545454"/><rect x="0" y="32" width="30" height="10" fill="#939393"/><rect x="30" y="32" width="10" height="10" fill="#909090"/><rect x="40" y="32" width="10" height="10" fill="#a1a1a1"/><rect x="50" y="32" width="10" height="10" fill="#242424"/><rect x="60" y="32" width="10" height="10" fill="#4b4b4b"/><rect x="70" y="32" width="10" height="10" fill="#454545"/><rect x="80" y="32" width="40" height="10" fill="#464646"/><rect x="120" y="32" width="10" height="10" fill="#484848"/><rect x="130" y="32" width="10" height="10" fill="#383838"/><rect x="140" y="32" width="10" height="10" fill="#9c9c9c"/><rect x="150" y="32" width="10" height="10" fill="#313131"/><rect x="160" y="32" width="10" height="10" fill="#5a5a5a"/><rect x="170" y="32" width="10" height="10" fill="#434343"/><rect x="180" y="32" width="10" height="10" fill="#717171"/><rect x="190" y="32" width="10" height="10" fill="#878787"/><rect x="200" y="32" width="10" height="10" fill="#676767"/><rect x="210" y="32" width="10" height="10" fill="#787878"/><rect x="220" y="32" width="10" height="10" fill="#303030"/><rect x="230" y="32" width="10" height="10" fill="#454545"/><rect x="240" y="32" width="10" height="10" fill="#a0a0a0"/><rect x="250" y="32" width="10" height="10" fill="#9f9f9f"/><rect x="260" y="32" width="10" height="10" fill="#717171"/><rect x="270" y="32" width="30" height="10" fill="#3b3b3b"/><rect x="0" y="42" width="30" height="10" fill="#909090"/><rect x="30" y="42" width="10" height="10" fill="#949494"/><rect x="40" y="42" width="10" height="10" fill="#8e8e8e"/><rect x="50" y="42" width="10" height="10" fill="#b4b4b4"/><rect x="60" y="42" width="10" height="10" fill="#383838"/><rect x="70" y="42" width="10" height="10" fill="#494949"/><rect x="80" y="42" width="40" height="10" fill="#464646"/><rect x="120" y="42" width="10" height="10" fill="#4a4a4a"/><rect x="130" y="42" width="10" height="10" fill="#3b3b3b"/><rect x="140" y="42" width="10" height="10" fill="#8c8c8c"/><rect x="150" y="42" width="10" height="10" fill="#d4d4d4"/><rect x="160" y="42" width="10" height="10" fill="#353535"/><rect x="170" y="42" width="10" height="10" fill="#939393"/><rect x="180" y="42" width="10" height="10" fill="#7c7c7c"/><rect x="190" y="42" width="10" height="10" fill="#707070"/><rect x="200" y="42" width="10" height="10" fill="#919191"/><rect x="210" y="42" width="10" height="10" fill="#5f5f5f"/><rect x="220" y="42" width="10" height="10" fill="#4a4a4a"/><rect x="230" y="42" width="10" height="10" fill="#686868"/><rect x="240" y="42" width="10" height="10" fill="#a5a5a5"/><rect x="250" y="42" width="10" height="10" fill="#b6b6b6"/><rect x="260" y="42" width="10" height="10" fill="#b3b3b3"/><rect x="270" y="42" width="30" height="10" fill="#bdbdbd"/><rect x="0" y="52" width="30" height="10" fill="#a4a4a4"/><rect x="30" y="52" width="10" height="10" fill="#8d8d8d"/><rect x="40" y="52" width="10" height="10" fill="#919191"/><rect x="50" y="52" width="10" height="10" fill="#a1a1a1"/><rect x="60" y="52" width="10" height="10" fill="#242424"/><rect x="70" y="52" width="10" height="10" fill="#4b4b4b"/><rect x="80" y="52" width="10" height="10" fill="#454545"/><rect x="90" y="52" width="20" height="10" fill="#474747"/><rect x="110" y="52" width="10" height="10" fill="#464646"/><rect x="120" y="52" width="10" height="10" fill="#383838"/><rect x="130" y="52" width="10" height="10" fill="#454545"/><rect x="140" y="52" width="10" height="10" fill="#5b5b5b"/><rect x="150" y="52" width="10" height="10" fill="#eeeeee"/><rect x="160" y="52" width="10" height="10" fill="#393939"/><rect x="170" y="52" width="10" height="10" fill="#5f5f5f"/><rect x="180" y="52" width="10" height="10" fill="#666666"/><rect x="190" y="52" width="20" height="10" fill="#929292"/><rect x="210" y="52" width="10" height="10" fill="#b8b8b8"/><rect x="220" y="52" width="10" height="10" fill="#6f6f6f"/><rect x="230" y="52" width="10" height="10" fill="#919191"/><rect x="240" y="52" width="10" height="10" fill="#b3b3b3"/><rect x="250" y="52" width="10" height="10" fill="#848484"/><rect x="260" y="52" width="10" height="10" fill="#bababa"/><rect x="270" y="52" width="30" height="10" fill="#afafaf"/><rect x="0" y="62" width="30" height="10" fill="#262626"/><rect x="30" y="62" width="10" height="10" fill="#b7b7b7"/><rect x="40" y="62" width="10" height="10" fill="#8b8b8b"/><rect x="50" y="62" width="10" height="10" fill="#8f8f8f"/><rect x="60" y="62" width="10" height="10" fill="#b5b5b5"/><rect x="70" y="62" width="10" height="10" fill="#373737"/><rect x="80" y="62" width="10" height="10" fill="#4d4d4d"/><rect x="90" y="62" width="10" height="10" fill="#404040"/><rect x="100" y="62" width="10" height="10" fill="#3f3f3f"/><rect x="110" y="62" width="10" height="10" fill="#464646"/><rect x="120" y="62" width="10" height="10" fill="#a5a5a5"/><rect x="130" y="62" width="10" height="10" fill="#333333"/><rect x="140" y="62" width="10" height="10" fill="#686868"/><rect x="150" y="62" width="10" height="10" fill="#606060"/><rect x="160" y="62" width="10" height="10" fill="#525252"/><rect x="170" y="62" width="10" height="10" fill="#505050"/><rect x="180" y="62" width="10" height="10" fill="#6f6f6f"/><rect x="190" y="62" width="10" height="10" fill="#646464"/><rect x="200" y="62" width="10" height="10" fill="#8a8a8a"/><rect x="210" y="62" width="10" height="10" fill="#929292"/><rect x="220" y="62" width="10" height="10" fill="#898989"/><rect x="230" y="62" width="10" height="10" fill="#cccccc"/><rect x="240" y="62" width="10" height="10" fill="#d9d9d9"/><rect x="250" y="62" width="10" height="10" fill="#767676"/><rect x="260" y="62" width="10" height="10" fill="#7e7e7e"/><rect x="270" y="62" width="30" height="10" fill="#7f7f7f"/><rect x="0" y="72" width="30" height="10" fill="#505050"/><rect x="30" y="72" width="10" height="10" fill="#202020"/><rect x="40" y="72" width="10" height="10" fill="#b9b9b9"/><rect x="50" y="72" width="10" height="10" fill="#888888"/><rect x="60" y="72" width="10" height="10" fill="#a0a0a0"/><rect x="70" y="72" width="10" height="10" fill="#272727"/><rect x="80" y="72" width="10" height="10" fill="#313131"/><rect x="90" y="72" width="10" height="10" fill="#6b6b6b"/><rect x="100" y="72" width="10" height="10" fill="#6a6a6a"/><rect x="110" y="72" width="10" height="10" fill="#7b7b7b"/><rect x="120" y="72" width="10" height="10" fill="#303030"/><rect x="130" y="72" width="10" height="10" fill="#454545"/><rect x="140" y="72" width="10" height="10" fill="#4d4d4d"/><rect x="150" y="72" width="10" height="10" fill="#595959"/><rect x="160" y="72" width="10" height="10" fill="#cacaca"/><rect x="170" y="72" width="10" height="10" fill="#b5b5b5"/><rect x="180" y="72" width="10" height="10" fill="#636363"/><rect x="190" y="72" width="10" height="10" fill="#ececec"/><rect x="200" y="72" width="10" height="10" fill="#5d5d5d"/><rect x="210" y="72" width="10" height="10" fill="#8b8b8b"/><rect x="220" y="72" width="10" height="10" fill="#b8b8b8"/><rect x="230" y="72" width="10" height="10" fill="#979797"/><rect x="240" y="72" width="10" height="10" fill="#3a3a3a"/><rect x="250" y="72" width="10" height="10" fill="#9c9c9c"/><rect x="260" y="72" width="10" height="10" fill="#919191"/><rect x="270" y="72" width="30" height="10" fill="#848484"/><rect x="0" y="82" width="30" height="10" fill="#373737"/><rect x="30" y="82" width="10" height="10" fill="#515151"/><rect x="40" y="82" width="10" height="10" fill="#202020"/><rect x="50" y="82" width="10" height="10" fill="#b7b7b7"/><rect x="60" y="82" width="10" height="10" fill="#959595"/><rect x="70" y="82" width="10" height="10" fill="#afafaf"/><rect x="80" y="82" width="10" height="10" fill="#9e9e9e"/><rect x="90" y="82" width="10" height="10" fill="#dbdbdb"/><rect x="100" y="82" width="10" height="10" fill="#939393"/><rect x="110" y="82" width="10" height="10" fill="#727272"/><rect x="120" y="82" width="10" height="10" fill="#3c3c3c"/><rect x="130" y="82" width="10" height="10" fill="#5b5b5b"/><rect x="140" y="82" width="10" height="10" fill="#5c5c5c"/><rect x="150" y="82" width="10" height="10" fill="#b6b6b6"/><rect x="160" y="82" width="10" height="10" fill="#b0b0b0"/><rect x="170" y="82" width="10" height="10" fill="#8c8c8c"/><rect x="180" y="82" width="10" height="10" fill="#636363"/><rect x="190" y="82" width="10" height="10" fill="#a0a0a0"/><rect x="200" y="82" width="10" height="10" fill="#878787"/><rect x="210" y="82" width="10" height="10" fill="#d1d1d1"/><rect x="220" y="82" width="10" height="10" fill="#bbbbbb"/><rect x="230" y="82" width="10" height="10" fill="#6b6b6b"/><rect x="240" y="82" width="10" height="10" fill="#545454"/><rect x="250" y="82" width="10" height="10" fill="#4d4d4d"/><rect x="260" y="82" width="10" height="10" fill="#3b3b3b"/><rect x="270" y="82" width="30" height="10" fill="#9a9a9a"/><rect x="0" y="92" width="30" height="10" fill="#9e9e9e"/><rect x="30" y="92" width="10" height="10" fill="#393939"/><rect x="40" y="92" width="10" height="10" fill="#525252"/><rect x="50" y="92" width="10" height="10" fill="#2e2e2e"/><rect x="60" y="92" width="10" height="10" fill="#626262"/><rect x="70" y="92" width="10" height="10" fill="#545454"/><rect x="80" y="92" width="10" height="10" fill="#666666"/><rect x="90" y="92" width="10" height="10" fill="#9c9c9c"/><rect x="100" y="92" width="10" height="10" fill="#a3a3a3"/><rect x="110" y="92" width="10" height="10" fill="#474747"/><rect x="120" y="92" width="10" height="10" fill="#575757"/><rect x="130" y="92" width="10" height="10" fill="#2b2b2b"/><rect x="140" y="92" width="10" height="10" fill="#d0d0d0"/><rect x="150" y="92" width="10" height="10" fill="#838383"/><rect x="160" y="92" width="10" height="10" fill="#9e9e9e"/><rect x="170" y="92" width="10" height="10" fill="#a1a1a1"/><rect x="180" y="92" width="10" height="10" fill="#b6b6b6"/><rect x="190" y="92" width="10" height="10" fill="#b4b4b4"/><rect x="200" y="92" width="10" height="10" fill="#b2b2b2"/><rect x="210" y="92" width="10" height="10" fill="#979797"/><rect x="220" y="92" width="10" height="10" fill="#686868"/><rect x="230" y="92" width="10" height="10" fill="#a8a8a8"/><rect x="240" y="92" width="10" height="10" fill="#323232"/><rect x="250" y="92" width="10" height="10" fill="#424242"/><rect x="260" y="92" width="10" height="10" fill="#5c5c5c"/><rect x="270" y="92" width="30" height="10" fill="#494949"/><rect x="0" y="102" width="30" height="10" fill="#909090"/><rect x="30" y="102" width="10" height="10" fill="#2b2b2b"/><rect x="40" y="102" width="10" height="10" fill="#333333"/><rect x="50" y="102" width="10" height="10" fill="#464646"/><rect x="60" y="102" width="10" height="10" fill="#454545"/><rect x="70" y="102" width="10" height="10" fill="#474747"/><rect x="80" y="102" width="10" height="10" fill="#3d3d3d"/><rect x="90" y="102" width="10" height="10" fill="#3c3c3c"/><rect x="100" y="102" width="10" height="10" fill="#737373"/><rect x="110" y="102" width="10" height="10" fill="#969696"/><rect x="120" y="102" width="10" height="10" fill="#eeeeee"/><rect x="130" y="102" width="10" height="10" fill="#b7b7b7"/><rect x="140" y="102" width="10" height="10" fill="#3d3d3d"/><rect x="150" y="102" width="10" height="10" fill="#989898"/><rect x="160" y="102" width="10" height="10" fill="#b7b7b7"/><rect x="170" y="102" width="10" height="10" fill="#8c8c8c"/><rect x="180" y="102" width="10" height="10" fill="#c8c8c8"/><rect x="190" y="102" width="10" height="10" fill="#818181"/><rect x="200" y="102" width="10" height="10" fill="#b7b7b7"/><rect x="210" y="102" width="10" height="10" fill="#c0c0c0"/><rect x="220" y="102" width="10" height="10" fill="#cacaca"/><rect x="230" y="102" width="10" height="10" fill="#adadad"/><rect x="240" y="102" width="10" height="10" fill="#bfbfbf"/><rect x="250" y="102" width="10" height="10" fill="#d6d6d6"/><rect x="260" y="102" width="10" height="10" fill="#2d2d2d"/><rect x="270" y="102" width="30" height="10" fill="#494949"/><rect x="0" y="112" width="30" height="10" fill="#818181"/><rect x="30" y="112" width="10" height="10" fill="#9f9f9f"/><rect x="40" y="112" width="10" height="10" fill="#c7c7c7"/><rect x="50" y="112" width="10" height="10" fill="#5c5c5c"/><rect x="60" y="112" width="10" height="10" fill="#333333"/><rect x="70" y="112" width="10" height="10" fill="#313131"/><rect x="80" y="112" width="10" height="10" fill="#535353"/><rect x="90" y="112" width="10" height="10" fill="#7b7b7b"/><rect x="100" y="112" width="10" height="10" fill="#959595"/><rect x="110" y="112" width="10" height="10" fill="#aaaaaa"/><rect x="120" y="112" width="10" height="10" fill="#181818"/><rect x="130" y="112" width="10" height="10" fill="#a6a6a6"/><rect x="140" y="112" width="10" height="10" fill="#bdbdbd"/><rect x="150" y="112" width="10" height="10" fill="#989898"/><rect x="160" y="112" width="10" height="10" fill="#acacac"/><rect x="170" y="112" width="10" height="10" fill="#cfcfcf"/><rect x="180" y="112" width="10" height="10" fill="#c8c8c8"/><rect x="190" y="112" width="10" height="10" fill="#7b7b7b"/><rect x="200" y="112" width="10" height="10" fill="#7e7e7e"/><rect x="210" y="112" width="10" height="10" fill="#b5b5b5"/><rect x="220" y="112" width="10" height="10" fill="#aeaeae"/><rect x="230" y="112" width="10" height="10" fill="#999999"/><rect x="240" y="112" width="10" height="10" fill="#9a9a9a"/><rect x="250" y="112" width="10" height="10" fill="#979797"/><rect x="260" y="112" width="10" height="10" fill="#b2b2b2"/><rect x="270" y="112" width="30" height="10" fill="#adadad"/><rect x="0" y="122" width="30" height="10" fill="#8f8f8f"/><rect x="30" y="122" width="10" height="10" fill="#9b9b9b"/><rect x="40" y="122" width="10" height="10" fill="#7a7a7a"/><rect x="50" y="122" width="10" height="10" fill="#545454"/><rect x="60" y="122" width="10" height="10" fill="#afafaf"/><rect x="70" y="122" width="10" height="10" fill="#c8c8c8"/><rect x="80" y="122" width="10" height="10" fill="#444444"/><rect x="90" y="122" width="10" height="10" fill="#bcbcbc"/><rect x="100" y="122" width="10" height="10" fill="#b1b1b1"/><rect x="110" y="122" width="10" height="10" fill="#6b6b6b"/><rect x="120" y="122" width="10" height="10" fill="#585858"/><rect x="130" y="122" width="10" height="10" fill="#d3d3d3"/><rect x="140" y="122" width="10" height="10" fill="#c4c4c4"/><rect x="150" y="122" width="10" height="10" fill="#b0b0b0"/><rect x="160" y="122" width="10" height="10" fill="#a6a6a6"/><rect x="170" y="122" width="10" height="10" fill="#585858"/><rect x="180" y="122" width="10" height="10" fill="#959595"/><rect x="190" y="122" width="10" height="10" fill="#898989"/><rect x="200" y="122" width="10" height="10" fill="#555555"/><rect x="210" y="122" width="10" height="10" fill="#979797"/><rect x="220" y="122" width="10" height="10" fill="#8c8c8c"/><rect x="230" y="122" width="10" height="10" fill="#a8a8a8"/><rect x="240" y="122" width="10" height="10" fill="#a5a5a5"/><rect x="250" y="122" width="10" height="10" fill="#9f9f9f"/><rect x="260" y="122" width="10" height="10" fill="#9c9c9c"/><rect x="270" y="122" width="30" height="10" fill="#9d9d9d"/><rect x="0" y="132" width="30" height="10" fill="#bababa"/><rect x="30" y="132" width="10" height="10" fill="#717171"/><rect x="40" y="132" width="10" height="10" fill="#313131"/><rect x="50" y="132" width="10" height="10" fill="#414141"/><rect x="60" y="132" width="10" height="10" fill="#6e6e6e"/><rect x="70" y="132" width="10" height="10" fill="#828282"/><rect x="80" y="132" width="10" height="10" fill="#545454"/><rect x="90" y="132" width="10" height="10" fill="#787878"/><rect x="100" y="132" width="10" height="10" fill="#5c5c5c"/><rect x="110" y="132" width="10" height="10" fill="#939393"/><rect x="120" y="132" width="10" height="10" fill="#c0c0c0"/><rect x="130" y="132" width="10" height="10" fill="#9f9f9f"/><rect x="140" y="132" width="10" height="10" fill="#6a6a6a"/><rect x="150" y="132" width="10" height="10" fill="#a2a2a2"/><rect x="160" y="132" width="10" height="10" fill="#9b9b9b"/><rect x="170" y="132" width="10" height="10" fill="#919191"/><rect x="180" y="132" width="10" height="10" fill="#8e8e8e"/><rect x="190" y="132" width="10" height="10" fill="#909090"/><rect x="200" y="132" width="10" height="10" fill="#8d8d8d"/><rect x="210" y="132" width="10" height="10" fill="#9a9a9a"/><rect x="220" y="132" width="10" height="10" fill="#818181"/><rect x="230" y="132" width="10" height="10" fill="#828282"/><rect x="240" y="132" width="10" height="10" fill="#7a7a7a"/><rect x="250" y="132" width="10" height="10" fill="#aaaaaa"/><rect x="260" y="132" width="10" height="10" fill="#a5a5a5"/><rect x="270" y="132" width="30" height="10" fill="#9e9e9e"/><rect x="0" y="142" width="30" height="10" fill="#acacac"/><rect x="30" y="142" width="10" height="10" fill="#8f8f8f"/><rect x="40" y="142" width="10" height="10" fill="#5b5b5b"/><rect x="50" y="142" width="10" height="10" fill="#282828"/><rect x="60" y="142" width="10" height="10" fill="#424242"/><rect x="70" y="142" width="10" height="10" fill="#2d2d2d"/><rect x="80" y="142" width="10" height="10" fill="#737373"/><rect x="90" y="142" width="10" height="10" fill="#727272"/><rect x="100" y="142" width="10" height="10" fill="#d5d5d5"/><rect x="110" y="142" width="10" height="10" fill="#b6b6b6"/><rect x="120" y="142" width="10" height="10" fill="#b3b3b3"/><rect x="130" y="142" width="10" height="10" fill="#818181"/><rect x="140" y="142" width="10" height="10" fill="#acacac"/><rect x="150" y="142" width="10" height="10" fill="#a9a9a9"/><rect x="160" y="142" width="10" height="10" fill="#c0c0c0"/><rect x="170" y="142" width="10" height="10" fill="#c5c5c5"/><rect x="180" y="142" width="10" height="10" fill="#aeaeae"/><rect x="190" y="142" width="10" height="10" fill="#c5c5c5"/><rect x="200" y="142" width="10" height="10" fill="#5c5c5c"/><rect x="210" y="142" width="10" height="10" fill="#898989"/><rect x="220" y="142" width="10" height="10" fill="#868686"/><rect x="230" y="142" width="10" height="10" fill="#878787"/><rect x="240" y="142" width="10" height="10" fill="#888888"/><rect x="250" y="142" width="10" height="10" fill="#818181"/><rect x="260" y="142" width="10" height="10" fill="#7b7b7b"/><rect x="270" y="142" width="30" height="10" fill="#aaaaaa"/><rect x="0" y="152" width="30" height="10" fill="#505050"/><rect x="30" y="152" width="10" height="10" fill="#727272"/><rect x="40" y="152" width="10" height="10" fill="#9a9a9a"/><rect x="50" y="152" width="10" height="10" fill="#ececec"/><rect x="60" y="152" width="10" height="10" fill="#484848"/><rect x="70" y="152" width="10" height="10" fill="#727272"/><rect x="80" y="152" width="10" height="10" fill="#919191"/><rect x="90" y="152" width="10" height="10" fill="#5f5f5f"/><rect x="100" y="152" width="10" height="10" fill="#474747"/><rect x="110" y="152" width="10" height="10" fill="#747474"/><rect x="120" y="152" width="10" height="10" fill="#999999"/><rect x="130" y="152" width="10" height="10" fill="#bcbcbc"/><rect x="140" y="152" width="10" height="10" fill="#8a8a8a"/><rect x="150" y="152" width="10" height="10" fill="#c4c4c4"/><rect x="160" y="152" width="10" height="10" fill="#b7b7b7"/><rect x="170" y="152" width="10" height="10" fill="#a6a6a6"/><rect x="180" y="152" width="10" height="10" fill="#9d9d9d"/><rect x="190" y="152" width="10" height="10" fill="#7d7d7d"/><rect x="200" y="152" width="10" height="10" fill="#bababa"/><rect x="210" y="152" width="10" height="10" fill="#7e7e7e"/><rect x="220" y="152" width="10" height="10" fill="#878787"/><rect x="230" y="152" width="20" height="10" fill="#868686"/><rect x="250" y="152" width="10" height="10" fill="#878787"/><rect x="260" y="152" width="10" height="10" fill="#888888"/><rect x="270" y="152" width="30" height="10" fill="#808080"/><rect x="0" y="162" width="30" height="10" fill="#5c5c5c"/><rect x="30" y="162" width="10" height="10" fill="#a1a1a1"/><rect x="40" y="162" width="10" height="10" fill="#656565"/><rect x="50" y="162" width="10" height="10" fill="#cacaca"/><rect x="60" y="162" width="10" height="10" fill="#707070"/><rect x="70" y="162" width="10" height="10" fill="#888888"/><rect x="80" y="162" width="10" height="10" fill="#969696"/><rect x="90" y="162" width="10" height="10" fill="#a8a8a8"/><rect x="100" y="162" width="10" height="10" fill="#5e5e5e"/><rect x="110" y="162" width="10" height="10" fill="#515151"/><rect x="120" y="162" width="10" height="10" fill="#cfcfcf"/><rect x="130" y="162" width="10" height="10" fill="#b1b1b1"/><rect x="140" y="162" width="10" height="10" fill="#494949"/><rect x="150" y="162" width="10" height="10" fill="#bfbfbf"/><rect x="160" y="162" width="10" height="10" fill="#c4c4c4"/><rect x="170" y="162" width="10" height="10" fill="#b7b7b7"/><rect x="180" y="162" width="10" height="10" fill="#a7a7a7"/><rect x="190" y="162" width="10" height="10" fill="#c3c3c3"/><rect x="200" y="162" width="10" height="10" fill="#747474"/><rect x="210" y="162" width="10" height="10" fill="#888888"/><rect x="220" y="162" width="50" height="10" fill="#868686"/><rect x="270" y="162" width="30" height="10" fill="#878787"/><rect x="0" y="172" width="30" height="10" fill="#555555"/><rect x="30" y="172" width="10" height="10" fill="#313131"/><rect x="40" y="172" width="10" height="10" fill="#f0f0f0"/><rect x="50" y="172" width="10" height="10" fill="#3f3f3f"/><rect x="60" y="172" width="10" height="10" fill="#7b7b7b"/><rect x="70" y="172" width="10" height="10" fill="#9f9f9f"/><rect x="80" y="172" width="10" height="10" fill="#838383"/><rect x="90" y="172" width="10" height="10" fill="#8b8b8b"/><rect x="100" y="172" width="10" height="10" fill="#444444"/><rect x="110" y="172" width="10" height="10" fill="#3d3d3d"/><rect x="120" y="172" width="10" height="10" fill="#5b5b5b"/><rect x="130" y="172" width="10" height="10" fill="#4b4b4b"/><rect x="140" y="172" width="10" height="10" fill="#858585"/><rect x="150" y="172" width="10" height="10" fill="#747474"/><rect x="160" y="172" width="10" height="10" fill="#878787"/><rect x="170" y="172" width="10" height="10" fill="#6d6d6d"/><rect x="180" y="172" width="10" height="10" fill="#434343"/><rect x="190" y="172" width="10" height="10" fill="#9a9a9a"/><rect x="200" y="172" width="10" height="10" fill="#848484"/><rect x="210" y="172" width="90" height="10" fill="#868686"/><rect x="0" y="182" width="30" height="10" fill="#4f4f4f"/><rect x="30" y="182" width="10" height="10" fill="#404040"/><rect x="40" y="182" width="10" height="10" fill="#2f2f2f"/><rect x="50" y="182" width="10" height="10" fill="#a9a9a9"/><rect x="60" y="182" width="10" height="10" fill="#6f6f6f"/><rect x="70" y="182" width="10" height="10" fill="#848484"/><rect x="80" y="182" width="10" height="10" fill="#606060"/><rect x="90" y="182" width="10" height="10" fill="#939393"/><rect x="100" y="182" width="10" height="10" fill="#707070"/><rect x="110" y="182" width="10" height="10" fill="#424242"/><rect x="120" y="182" width="10" height="10" fill="#3c3c3c"/><rect x="130" y="182" width="10" height="10" fill="#616161"/><rect x="140" y="182" width="10" height="10" fill="#898989"/><rect x="150" y="182" width="10" height="10" fill="#3a3a3a"/><rect x="160" y="182" width="10" height="10" fill="#636363"/><rect x="170" y="182" width="10" height="10" fill="#a8a8a8"/><rect x="180" y="182" width="10" height="10" fill="#575757"/><rect x="190" y="182" width="10" height="10" fill="#a0a0a0"/><rect x="200" y="182" width="10" height="10" fill="#7e7e7e"/><rect x="210" y="182" width="10" height="10" fill="#888888"/><rect x="220" y="182" width="80" height="10" fill="#868686"/><rect x="0" y="192" width="30" height="10" fill="#7b7b7b"/><rect x="30" y="192" width="10" height="10" fill="#656565"/><rect x="40" y="192" width="10" height="10" fill="#616161"/><rect x="50" y="192" width="10" height="10" fill="#505050"/><rect x="60" y="192" width="10" height="10" fill="#7f7f7f"/><rect x="70" y="192" width="10" height="10" fill="#c2c2c2"/><rect x="80" y="192" width="10" height="10" fill="#494949"/><rect x="90" y="192" width="10" height="10" fill="#7e7e7e"/><rect x="100" y="192" width="10" height="10" fill="#878787"/><rect x="110" y="192" width="10" height="10" fill="#3a3a3a"/><rect x="120" y="192" width="10" height="10" fill="#595959"/><rect x="130" y="192" width="10" height="10" fill="#5f5f5f"/><rect x="140" y="192" width="10" height="10" fill="#6c6c6c"/><rect x="150" y="192" width="10" height="10" fill="#6f6f6f"/><rect x="160" y="192" width="10" height="10" fill="#777777"/><rect x="170" y="192" width="10" height="10" fill="#a9a9a9"/><rect x="180" y="192" width="10" height="10" fill="#989898"/><rect x="190" y="192" width="10" height="10" fill="#919191"/><rect x="200" y="192" width="10" height="10" fill="#999999"/><rect x="210" y="192" width="10" height="10" fill="#808080"/><rect x="220" y="192" width="10" height="10" fill="#878787"/><rect x="230" y="192" width="70" height="10" fill="#868686"/><rect x="0" y="202" width="30" height="10" fill="#3a3a3a"/><rect x="30" y="202" width="10" height="10" fill="#4a4a4a"/><rect x="40" y="202" width="10" height="10" fill="#8d8d8d"/><rect x="50" y="202" width="10" height="10" fill="#606060"/><rect x="60" y="202" width="10" height="10" fill="#373737"/><rect x="70" y="202" width="10" height="10" fill="#7e7e7e"/><rect x="80" y="202" width="10" height="10" fill="#595959"/><rect x="90" y="202" width="10" height="10" fill="#6c6c6c"/><rect x="100" y="202" width="10" height="10" fill="#727272"/><rect x="110" y="202" width="10" height="10" fill="#343434"/><rect x="120" y="202" width="10" height="10" fill="#555555"/><rect x="130" y="202" width="10" height="10" fill="#606060"/><rect x="140" y="202" width="10" height="10" fill="#696969"/><rect x="150" y="202" width="10" height="10" fill="#7f7f7f"/><rect x="160" y="202" width="10" height="10" fill="#707070"/><rect x="170" y="202" width="10" height="10" fill="#a9a9a9"/><rect x="180" y="202" width="10" height="10" fill="#8e8e8e"/><rect x="190" y="202" width="10" height="10" fill="#949494"/><rect x="200" y="202" width="10" height="10" fill="#919191"/><rect x="210" y="202" width="10" height="10" fill="#999999"/><rect x="220" y="202" width="10" height="10" fill="#808080"/><rect x="230" y="202" width="10" height="10" fill="#878787"/><rect x="240" y="202" width="60" height="10" fill="#868686"/><rect x="0" y="212" width="30" height="30" fill="#575757"/><rect x="30" y="212" width="10" height="30" fill="#4e4e4e"/><rect x="40" y="212" width="10" height="30" fill="#717171"/><rect x="50" y="212" width="10" height="30" fill="#575757"/><rect x="60" y="212" width="10" height="30" fill="#878787"/><rect x="70" y="212" width="10" height="30" fill="#7d7d7d"/><rect x="80" y="212" width="10" height="30" fill="#585858"/><rect x="90" y="212" width="10" height="30" fill="#707070"/><rect x="100" y="212" width="10" height="30" fill="#6a6a6a"/><rect x="110" y="212" width="10" height="30" fill="#7a7a7a"/><rect x="120" y="212" width="10" height="30" fill="#4b4b4b"/><rect x="130" y="212" width="10" height="30" fill="#5e5e5e"/><rect x="140" y="212" width="10" height="30" fill="#808080"/><rect x="150" y="212" width="10" height="30" fill="#797979"/><rect x="160" y="212" width="10" height="30" fill="#727272"/><rect x="170" y="212" width="10" height="30" fill="#a9a9a9"/><rect x="180" y="212" width="10" height="30" fill="#8f8f8f"/><rect x="190" y="212" width="20" height="30" fill="#939393"/><rect x="210" y="212" width="10" height="30" fill="#919191"/><rect x="220" y="212" width="10" height="30" fill="#989898"/><rect x="230" y="212" width="10" height="30" fill="#838383"/><rect x="240" y="212" width="60" height="30" fill="#868686"/></g></g><g fill="#000"><path d="M97.6 81.6L99.3 78.6L101.0 81.6z"/><path d="M145.2 99.1L146.8 96.1L148.5 99.1z"/><path d="M127.8 107.6L129.5 104.6L131.2 107.6z"/><path d="M117.0 112.5L118.7 109.5L120.4 112.5z"/><path d="M134.0 112.5L135.7 109.5L137.3 112.5z"/><path d="M153.0 45.9L154.7 43.0L156.3 45.9z"/><path d="M246.0 30.0L247.7 27.1L249.3 30.0z"/><path d="M250.8 29.4L252.5 26.5L254.2 29.4z"/><path d="M257.5 35.1L259.1 32.1L260.8 35.1z"/><path d="M260.4 48.8L262.0 45.9L263.6 48.8z"/><path d="M195.8 60.7L197.4 57.8L199.1 60.7z"/><path d="M217.2 61.7L218.9 58.8L220.6 61.7z"/><path d="M247.0 66.1L248.7 63.1L250.3 66.1z"/><path d="M244.2 68.3L245.8 65.3L247.5 68.3z"/><path d="M171.4 76.5L173.1 73.5L174.8 76.5z"/><path d="M192.5 79.1L194.2 76.1L195.8 79.1z"/><path d="M183.4 93.0L185.1 90.0L186.8 93.0z"/><path d="M190.4 94.5L192.1 91.5L193.8 94.5z"/><path d="M207.2 93.6L208.8 90.6L210.5 93.6z"/><path d="M200.5 96.8L202.2 93.8L203.8 96.8z"/><path d="M178.2 98.7L179.8 95.8L181.5 98.7z"/><path d="M177.8 101.0L179.4 98.0L181.1 101.0z"/><path d="M163.2 100.0L164.8 97.0L166.5 100.0z"/><path d="M231.8 105.7L233.5 102.8L235.2 105.7z"/><path d="M235.2 103.4L236.9 100.4L238.6 103.4z"/><path d="M217.7 106.7L219.3 103.8L221.0 106.7z"/><path d="M221.3 107.6L223.0 104.6L224.7 107.6z"/><path d="M185.3 107.3L187.0 104.3L188.7 107.3z"/><path d="M187.2 108.2L188.9 105.2L190.6 108.2z"/><path d="M171.2 111.3L172.8 108.3L174.5 111.3z"/><path d="M178.3 112.3L180.0 109.3L181.7 112.3z"/><path d="M188.3 112.8L190.0 109.8L191.7 112.8z"/><path d="M214.8 112.0L216.4 109.0L218.1 112.0z"/><path d="M228.0 111.0L229.7 108.0L231.3 111.0z"/><path d="M107.5 114.3L109.2 111.3L110.9 114.3z"/><path d="M117.0 113.9L118.7 110.9L120.4 113.9z"/><path d="M134.0 113.9L135.7 110.9L137.3 113.9z"/><path d="M100.8 122.8L102.5 119.8L104.2 122.8z"/><path d="M100.3 125.6L102.0 122.6L103.7 125.6z"/><path d="M112.2 123.2L113.9 120.2L115.6 123.2z"/><path d="M139.8 126.2L141.4 123.2L143.1 126.2z"/><path d="M143.5 125.6L145.2 122.6L146.8 125.6z"/><path d="M142.7 127.0L144.3 124.0L146.0 127.0z"/><path d="M135.0 132.7L136.7 129.8L138.3 132.7z"/><path d="M34.0 131.7L35.6 128.8L37.2 131.7z"/><path d="M37.4 130.8L39.0 127.8L40.6 130.8z"/><path d="M24.1 136.1L25.7 133.2L27.3 136.1z"/><path d="M26.4 135.7L28.0 132.8L29.6 135.7z"/><path d="M27.9 135.3L29.5 132.3L31.1 135.3z"/><path d="M25.0 139.9L26.6 136.9L28.2 139.9z"/><path d="M26.0 140.3L27.6 137.3L29.2 140.3z"/><path d="M72.4 135.1L74.1 132.2L75.8 135.1z"/><path d="M95.2 142.1L96.9 139.2L98.6 142.1z"/><path d="M38.6 149.3L40.3 146.3L41.9 149.3z"/><path d="M103.8 149.7L105.4 146.8L107.1 149.7z"/><path d="M129.3 147.8L131.0 144.8L132.7 147.8z"/><path d="M52.6 160.7L54.2 157.8L55.9 160.7z"/><path d="M51.0 163.0L52.6 160.0L54.2 163.0z"/><path d="M53.5 163.6L55.1 160.7L56.8 163.6z"/><path d="M54.5 164.2L56.1 161.2L57.8 164.2z"/><path d="M55.4 169.8L57.0 166.8L58.6 169.8z"/><path d="M33.1 168.9L34.8 165.9L36.4 168.9z"/><path d="M126.5 173.6L128.2 170.7L129.8 173.6z"/><path d="M46.9 175.9L48.5 172.9L50.1 175.9z"/><path d="M45.9 177.8L47.5 174.8L49.1 177.8z"/><path d="M49.6 178.4L51.3 175.4L52.9 178.4z"/><path d="M45.5 179.3L47.1 176.3L48.8 179.3z"/><path d="M58.1 190.2L59.8 187.2L61.4 190.2z"/><path d="M75.2 200.6L76.9 197.7L78.6 200.6z"/><path d="M77.1 202.9L78.8 199.9L80.5 202.9z"/><path d="M161.7 113.9L163.3 110.9L165.0 113.9z"/><path d="M171.2 114.3L172.8 111.3L174.5 114.3z"/><path d="M174.9 115.2L176.6 112.2L178.2 115.2z"/><path d="M170.3 117.3L172.0 114.3L173.7 117.3z"/><path d="M173.3 119.3L175.0 116.3L176.7 119.3z"/><path d="M176.3 118.3L178.0 115.3L179.7 118.3z"/><path d="M179.3 117.3L181.0 114.3L182.7 117.3z"/><path d="M182.3 116.3L184.0 113.3L185.7 116.3z"/><path d="M185.3 115.3L187.0 112.3L188.7 115.3z"/><path d="M188.3 114.3L190.0 111.3L191.7 114.3z"/><path d="M174.3 121.3L176.0 118.3L177.7 121.3z"/><path d="M178.3 121.3L180.0 118.3L181.7 121.3z"/><path d="M182.3 119.3L184.0 116.3L185.7 119.3z"/><path d="M166.3 126.2L168.0 123.2L169.7 126.2z"/><path d="M178.8 123.7L180.4 120.8L182.1 123.7z"/><path d="M217.7 120.5L219.3 117.5L221.0 120.5z"/><path d="M209.0 113.9L210.7 110.9L212.3 113.9z"/><path d="M226.2 113.3L227.8 110.3L229.5 113.3z"/><path d="M177.8 143.7L179.4 140.8L181.1 143.7z"/><path d="M175.8 147.8L177.5 144.8L179.2 147.8z"/><path d="M176.8 150.3L178.5 147.3L180.2 150.3z"/><path d="M176.4 152.2L178.1 149.2L179.8 152.2z"/><path d="M188.2 148.8L189.8 145.8L191.5 148.8z"/><path d="M171.2 151.3L172.8 148.3L174.5 151.3z"/><path d="M173.0 153.1L174.7 150.2L176.3 153.1z"/><path d="M173.9 155.0L175.6 152.0L177.2 155.0z"/><path d="M172.0 154.1L173.7 151.2L175.3 154.1z"/><path d="M156.8 153.5L158.5 150.5L160.2 153.5z"/><path d="M162.5 153.5L164.2 150.5L165.8 153.5z"/><path d="M156.8 157.3L158.5 154.3L160.2 157.3z"/><path d="M164.4 158.8L166.1 155.8L167.8 158.8z"/><path d="M168.2 158.3L169.9 155.3L171.6 158.3z"/><path d="M170.8 157.9L172.4 154.9L174.1 157.9z"/><path d="M204.3 157.3L206.0 154.3L207.7 157.3z"/><path d="M205.2 157.9L206.9 154.9L208.6 157.9z"/><path d="M182.2 164.5L183.8 161.5L185.5 164.5z"/><path d="M195.3 167.3L197.0 164.3L198.7 167.3z"/><path d="M195.8 169.7L197.4 166.8L199.1 169.7z"/><path d="M163.9 169.8L165.6 166.8L167.2 169.8z"/><path d="M178.2 182.6L179.8 179.7L181.5 182.6z"/><path d="M174.9 200.0L176.6 197.0L178.2 200.0z"/><path d="M251.8 23.4L254.4 18.7L257.0 23.4z"/></g><rect x="8.5" y="7.5" width="322" height="219.5" fill="none" stroke="#595959" stroke-width="1"/><g stroke="#333" stroke-width="0.8"><path d="M32.7 7.5v-2M119.2 7.5v-2M206 7.5v-2M292.5 7.5v-2M34.4 226.8v-1.8M122.2 226.8v-1.8M213.8 226.8v-1.8M303.5 226.8v-1.8M8.5 96.5h-1.8M8.5 197.5h-1.8M330.5 88h-1.8M330.5 187h-1.8"/></g><g class="ax"><text x="19.8" y="6.5" textLength="34.6" lengthAdjust="spacingAndGlyphs">111°0'0"E</text><text x="107.2" y="6.5" textLength="34.6" lengthAdjust="spacingAndGlyphs">113°0'0"E</text><text x="194.9" y="6.5" textLength="34.6" lengthAdjust="spacingAndGlyphs">115°0'0"E</text><text x="282.7" y="6.5" textLength="34.6" lengthAdjust="spacingAndGlyphs">117°0'0"E</text><text x="15.1" y="236.0" textLength="34.7" lengthAdjust="spacingAndGlyphs">111°0'0"E</text><text x="106.0" y="236.0" textLength="34.7" lengthAdjust="spacingAndGlyphs">113°0'0"E</text><text x="197.0" y="236.0" textLength="34.7" lengthAdjust="spacingAndGlyphs">115°0'0"E</text><text x="288.8" y="236.0" textLength="34.7" lengthAdjust="spacingAndGlyphs">117°0'0"E</text><text transform="translate(6.9,105.6) rotate(-90)" textLength="31.5" lengthAdjust="spacingAndGlyphs">26°0'0"N</text><text transform="translate(6.9,203.6) rotate(-90)" textLength="31.5" lengthAdjust="spacingAndGlyphs">24°0'0"N</text><text transform="translate(332.1,70.8) rotate(90)" textLength="31.8" lengthAdjust="spacingAndGlyphs">26°0'0"N</text><text transform="translate(332.1,170.3) rotate(90)" textLength="31.8" lengthAdjust="spacingAndGlyphs">24°0'0"N</text></g><text class="n" x="20.4" y="22.2">N</text><path d="M23.8 24.6L16.2 48.8L23.8 39.6z" fill="#000"/><path d="M23.7 25.5L30.7 47.8L23.7 39.6z" fill="#fff" stroke="#000" stroke-width="0.8" stroke-linejoin="miter"/><text class="lt" y="20.8"><tspan x="307.0" y="20.8" font-size="9.9">(</tspan><tspan x="311.5" y="20.8">e</tspan><tspan x="317.3" y="20.8" font-size="9.9">)</tspan></text><rect x="120.7" y="219.6" width="54.3" height="3.2" fill="#fff" stroke="#000" stroke-width="0.6"/><rect x="120.7" y="219.6" width="27" height="3.2" fill="#000"/><g class="sb"><text x="121" y="217" text-anchor="middle">0</text><text x="147.6" y="217" text-anchor="middle">60</text><text x="174.6" y="217" text-anchor="middle">120</text><text x="178.6" y="225.2">km</text></g><path d="M256.3 109.5L259.6 104.2L262.9 109.5z" fill="#000"/><text class="lg w" x="270.7" y="108.9"><tspan textLength="5.6" lengthAdjust="spacingAndGlyphs">W</tspan> <tspan x="279.8" textLength="19.8" lengthAdjust="spacingAndGlyphs">deposit</tspan></text><rect x="251.4" y="112.30" width="16.2" height="7.9" fill="rgb(0,0,255)" stroke="#8a8a8a" stroke-width="0.5"/><text class="lg" y="118.80"><tspan x="270.2">0.</tspan> <tspan x="277.8" textLength="9.3" lengthAdjust="spacingAndGlyphs">002</tspan> <tspan x="290.9">-</tspan> <tspan x="296.8">0.</tspan> <tspan x="304.4" textLength="9.3" lengthAdjust="spacingAndGlyphs">008</tspan></text><rect x="251.4" y="123.05" width="16.2" height="7.9" fill="rgb(51,87,255)" stroke="#8a8a8a" stroke-width="0.5"/><text class="lg" y="129.55"><tspan x="270.2">0.</tspan> <tspan x="277.8" textLength="9.3" lengthAdjust="spacingAndGlyphs">009</tspan> <tspan x="290.9">-</tspan> <tspan x="296.8">0.</tspan> <tspan x="304.4" textLength="9.3" lengthAdjust="spacingAndGlyphs">020</tspan></text><rect x="251.4" y="133.80" width="16.2" height="7.9" fill="rgb(56,163,255)" stroke="#8a8a8a" stroke-width="0.5"/><text class="lg" y="140.30"><tspan x="270.2">0.</tspan> <tspan x="277.8" textLength="9.3" lengthAdjust="spacingAndGlyphs">021</tspan> <tspan x="290.9">-</tspan> <tspan x="296.8">0.</tspan> <tspan x="304.4" textLength="9.3" lengthAdjust="spacingAndGlyphs">040</tspan></text><rect x="251.4" y="144.55" width="16.2" height="7.9" fill="rgb(0,255,255)" stroke="#8a8a8a" stroke-width="0.5"/><text class="lg" y="151.05"><tspan x="270.2">0.</tspan> <tspan x="277.8" textLength="9.3" lengthAdjust="spacingAndGlyphs">041</tspan> <tspan x="290.9">-</tspan> <tspan x="296.8">0.</tspan> <tspan x="304.4" textLength="9.3" lengthAdjust="spacingAndGlyphs">087</tspan></text><rect x="251.4" y="155.30" width="16.2" height="7.9" fill="rgb(145,255,180)" stroke="#8a8a8a" stroke-width="0.5"/><text class="lg" y="161.80"><tspan x="270.2">0.</tspan> <tspan x="277.8" textLength="9.3" lengthAdjust="spacingAndGlyphs">088</tspan> <tspan x="290.9">-</tspan> <tspan x="296.8">0.</tspan> <tspan x="304.4" textLength="9.3" lengthAdjust="spacingAndGlyphs">169</tspan></text><rect x="251.4" y="166.05" width="16.2" height="7.9" fill="rgb(209,255,105)" stroke="#8a8a8a" stroke-width="0.5"/><text class="lg" y="172.55"><tspan x="270.2">0.</tspan> <tspan x="277.8" textLength="9.3" lengthAdjust="spacingAndGlyphs">170</tspan> <tspan x="290.9">-</tspan> <tspan x="296.8">0.</tspan> <tspan x="304.4" textLength="9.3" lengthAdjust="spacingAndGlyphs">326</tspan></text><rect x="251.4" y="176.80" width="16.2" height="7.9" fill="rgb(255,255,0)" stroke="#8a8a8a" stroke-width="0.5"/><text class="lg" y="183.30"><tspan x="270.2">0.</tspan> <tspan x="277.8" textLength="9.3" lengthAdjust="spacingAndGlyphs">327</tspan> <tspan x="290.9">-</tspan> <tspan x="296.8">0.</tspan> <tspan x="304.4" textLength="9.3" lengthAdjust="spacingAndGlyphs">594</tspan></text><rect x="251.4" y="187.55" width="16.2" height="7.9" fill="rgb(255,183,0)" stroke="#8a8a8a" stroke-width="0.5"/><text class="lg" y="194.05"><tspan x="270.2">0.</tspan> <tspan x="277.8" textLength="9.3" lengthAdjust="spacingAndGlyphs">595</tspan> <tspan x="290.9">-</tspan> <tspan x="296.8">0.</tspan> <tspan x="304.4" textLength="9.3" lengthAdjust="spacingAndGlyphs">850</tspan></text><rect x="251.4" y="198.30" width="16.2" height="7.9" fill="rgb(255,111,0)" stroke="#8a8a8a" stroke-width="0.5"/><text class="lg" y="204.80"><tspan x="270.2">0.</tspan> <tspan x="277.8" textLength="9.3" lengthAdjust="spacingAndGlyphs">851</tspan> <tspan x="290.9">-</tspan> <tspan x="296.8">0.</tspan> <tspan x="304.4" textLength="9.3" lengthAdjust="spacingAndGlyphs">973</tspan></text><rect x="251.4" y="209.05" width="16.2" height="7.9" fill="rgb(255,0,0)" stroke="#8a8a8a" stroke-width="0.5"/><text class="lg" y="215.55"><tspan x="271.7">0.</tspan> <tspan x="279.3" textLength="9.3" lengthAdjust="spacingAndGlyphs">974</tspan> <tspan x="292.4">-</tspan> <tspan x="298.3">1.</tspan> <tspan x="305.9" textLength="9.3" lengthAdjust="spacingAndGlyphs">000</tspan></text></g></svg></body></html>
